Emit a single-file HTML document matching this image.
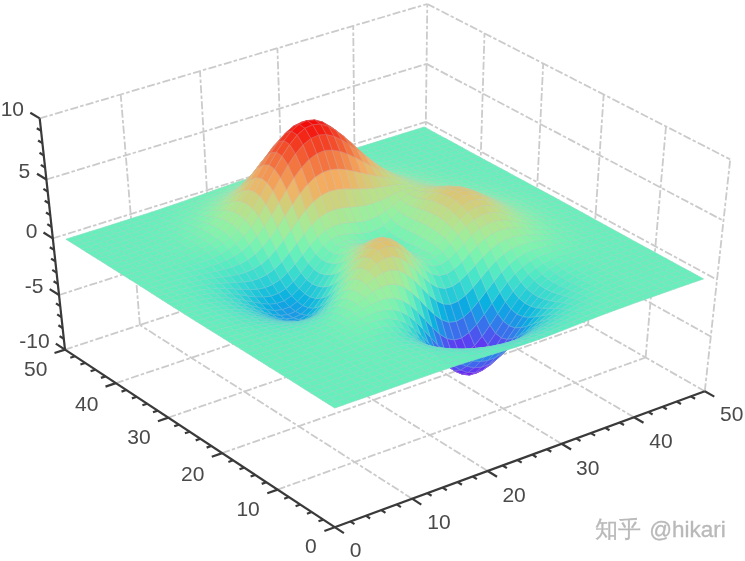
<!DOCTYPE html><html><head><meta charset="utf-8"><style>html,body{margin:0;padding:0;background:#fff;overflow:hidden}svg{display:block;will-change:transform}</style></head><body><svg width="745" height="561" viewBox="0 0 745 561" font-family="Liberation Sans, sans-serif">
<rect width="745" height="561" fill="#fff"/>
<g fill="none"><line x1="59" y1="295" x2="425.2" y2="177.6" stroke="#cbcbcb" stroke-width="1.8" stroke-dasharray="8 2.2 3.5 2.3"/><line x1="425.2" y1="177.6" x2="710.8" y2="336.5" stroke="#cbcbcb" stroke-width="1.8" stroke-dasharray="8 2.2 3.5 2.3"/><line x1="52.8" y1="238.4" x2="425.9" y2="121.8" stroke="#cbcbcb" stroke-width="1.8" stroke-dasharray="8 2.2 3.5 2.3"/><line x1="425.9" y1="121.8" x2="717" y2="279.7" stroke="#cbcbcb" stroke-width="1.8" stroke-dasharray="8 2.2 3.5 2.3"/><line x1="46.4" y1="179.5" x2="426.6" y2="63.9" stroke="#cbcbcb" stroke-width="1.8" stroke-dasharray="8 2.2 3.5 2.3"/><line x1="426.6" y1="63.9" x2="723.4" y2="220.7" stroke="#cbcbcb" stroke-width="1.8" stroke-dasharray="8 2.2 3.5 2.3"/><line x1="39.7" y1="118.4" x2="427.3" y2="4" stroke="#cbcbcb" stroke-width="1.8" stroke-dasharray="8 2.2 3.5 2.3"/><line x1="427.3" y1="4" x2="730.2" y2="159.4" stroke="#cbcbcb" stroke-width="1.8" stroke-dasharray="8 2.2 3.5 2.3"/><line x1="139.9" y1="325" x2="120.7" y2="94.5" stroke="#cbcbcb" stroke-width="1.8" stroke-dasharray="8 2.2 3.5 2.3"/><line x1="412.1" y1="498.7" x2="139.9" y2="325" stroke="#cbcbcb" stroke-width="1.8" stroke-dasharray="8 2.2 3.5 2.3"/><line x1="213.3" y1="300.9" x2="200" y2="71.1" stroke="#cbcbcb" stroke-width="1.8" stroke-dasharray="8 2.2 3.5 2.3"/><line x1="487.7" y1="471" x2="213.3" y2="300.9" stroke="#cbcbcb" stroke-width="1.8" stroke-dasharray="8 2.2 3.5 2.3"/><line x1="285.1" y1="277.2" x2="277.4" y2="48.2" stroke="#cbcbcb" stroke-width="1.8" stroke-dasharray="8 2.2 3.5 2.3"/><line x1="561.6" y1="443.8" x2="285.1" y2="277.2" stroke="#cbcbcb" stroke-width="1.8" stroke-dasharray="8 2.2 3.5 2.3"/><line x1="355.5" y1="254.1" x2="353.2" y2="25.9" stroke="#cbcbcb" stroke-width="1.8" stroke-dasharray="8 2.2 3.5 2.3"/><line x1="634" y1="417.2" x2="355.5" y2="254.1" stroke="#cbcbcb" stroke-width="1.8" stroke-dasharray="8 2.2 3.5 2.3"/><line x1="424.5" y1="231.4" x2="427.3" y2="4" stroke="#cbcbcb" stroke-width="1.8" stroke-dasharray="8 2.2 3.5 2.3"/><line x1="704.8" y1="391.2" x2="424.5" y2="231.4" stroke="#cbcbcb" stroke-width="1.8" stroke-dasharray="8 2.2 3.5 2.3"/><line x1="704.8" y1="391.2" x2="730.2" y2="159.4" stroke="#cbcbcb" stroke-width="1.8" stroke-dasharray="8 2.2 3.5 2.3"/><line x1="645.6" y1="357.5" x2="666" y2="126.4" stroke="#cbcbcb" stroke-width="1.8" stroke-dasharray="8 2.2 3.5 2.3"/><line x1="588.1" y1="324.7" x2="603.7" y2="94.5" stroke="#cbcbcb" stroke-width="1.8" stroke-dasharray="8 2.2 3.5 2.3"/><line x1="532.1" y1="292.8" x2="543.2" y2="63.4" stroke="#cbcbcb" stroke-width="1.8" stroke-dasharray="8 2.2 3.5 2.3"/><line x1="477.6" y1="261.7" x2="484.5" y2="33.3" stroke="#cbcbcb" stroke-width="1.8" stroke-dasharray="8 2.2 3.5 2.3"/><line x1="277.6" y1="489.6" x2="645.6" y2="357.5" stroke="#cbcbcb" stroke-width="1.8" stroke-dasharray="8 2.2 3.5 2.3"/><line x1="222.2" y1="453.1" x2="588.1" y2="324.7" stroke="#cbcbcb" stroke-width="1.8" stroke-dasharray="8 2.2 3.5 2.3"/><line x1="168.3" y1="417.6" x2="532.1" y2="292.8" stroke="#cbcbcb" stroke-width="1.8" stroke-dasharray="8 2.2 3.5 2.3"/><line x1="115.9" y1="383.1" x2="477.6" y2="261.7" stroke="#cbcbcb" stroke-width="1.8" stroke-dasharray="8 2.2 3.5 2.3"/><line x1="65" y1="349.6" x2="424.5" y2="231.4" stroke="#cbcbcb" stroke-width="1.8" stroke-dasharray="8 2.2 3.5 2.3"/></g>
<g stroke-width="0.7" stroke-linejoin="round"><polygon points="422.6,132.1 429.7,129.9 424.2,126.9 417.1,129.2" fill="#64efbb" stroke="#86dcc2"/><polygon points="415.4,134.4 422.6,132.1 417.1,129.2 410,131.4" fill="#64efbb" stroke="#86dcc2"/><polygon points="428,135.1 435.1,132.9 429.7,129.9 422.6,132.1" fill="#64efbb" stroke="#86dcc2"/><polygon points="408.3,136.6 415.4,134.4 410,131.4 402.9,133.6" fill="#64efbb" stroke="#86dcc2"/><polygon points="420.9,137.3 428,135.1 422.6,132.1 415.4,134.4" fill="#64efbb" stroke="#86dcc2"/><polygon points="433.5,138.1 440.6,135.9 435.1,132.9 428,135.1" fill="#64efbb" stroke="#86dcc2"/><polygon points="401.2,138.8 408.3,136.6 402.9,133.6 395.7,135.9" fill="#64efbb" stroke="#86dcc2"/><polygon points="413.8,139.6 420.9,137.3 415.4,134.4 408.3,136.6" fill="#64efbb" stroke="#86dcc2"/><polygon points="426.4,140.3 433.5,138.1 428,135.1 420.9,137.3" fill="#64efbb" stroke="#86dcc2"/><polygon points="439,141.1 446.1,138.8 440.6,135.9 433.5,138.1" fill="#64efbb" stroke="#86dcc2"/><polygon points="394,141.1 401.2,138.8 395.7,135.9 388.6,138.1" fill="#64efbb" stroke="#86dcc2"/><polygon points="406.6,141.8 413.8,139.6 408.3,136.6 401.2,138.8" fill="#64efbb" stroke="#86dcc2"/><polygon points="419.2,142.6 426.4,140.3 420.9,137.3 413.8,139.6" fill="#64efbb" stroke="#86dcc2"/><polygon points="431.9,143.3 439,141.1 433.5,138.1 426.4,140.3" fill="#64efbb" stroke="#86dcc2"/><polygon points="386.8,143.3 394,141.1 388.6,138.1 381.4,140.3" fill="#64efbb" stroke="#86dcc2"/><polygon points="444.5,144.1 451.6,141.8 446.1,138.8 439,141.1" fill="#64efbb" stroke="#86dcc2"/><polygon points="399.5,144.1 406.6,141.8 401.2,138.8 394,141.1" fill="#64efbb" stroke="#86dcc2"/><polygon points="412.1,144.8 419.2,142.6 413.8,139.6 406.6,141.8" fill="#64efbb" stroke="#86dcc2"/><polygon points="424.7,145.6 431.9,143.3 426.4,140.3 419.2,142.6" fill="#64efbb" stroke="#86dcc2"/><polygon points="379.6,145.5 386.8,143.3 381.4,140.3 374.2,142.6" fill="#65efbb" stroke="#87dcc2"/><polygon points="437.4,146.3 444.5,144.1 439,141.1 431.9,143.3" fill="#64efbb" stroke="#86dcc2"/><polygon points="392.3,146.3 399.5,144.1 394,141.1 386.8,143.3" fill="#64efbb" stroke="#86dcc2"/><polygon points="450,147.1 457.1,144.8 451.6,141.8 444.5,144.1" fill="#64efbb" stroke="#86dcc2"/><polygon points="404.9,147.1 412.1,144.8 406.6,141.8 399.5,144.1" fill="#64efbb" stroke="#86dcc2"/><polygon points="417.6,147.8 424.7,145.6 419.2,142.6 412.1,144.8" fill="#64efbb" stroke="#86dcc2"/><polygon points="372.4,147.8 379.6,145.5 374.2,142.6 367,144.8" fill="#65efbb" stroke="#87dcc2"/><polygon points="430.2,148.6 437.4,146.3 431.9,143.3 424.7,145.6" fill="#64efbb" stroke="#86dcc2"/><polygon points="385.1,148.5 392.3,146.3 386.8,143.3 379.6,145.5" fill="#65efbb" stroke="#87dcc2"/><polygon points="442.9,149.3 450,147.1 444.5,144.1 437.4,146.3" fill="#64efbb" stroke="#86dcc2"/><polygon points="397.7,149.3 404.9,147.1 399.5,144.1 392.3,146.3" fill="#65efbb" stroke="#87dcc2"/><polygon points="455.5,150.1 462.7,147.8 457.1,144.8 450,147.1" fill="#64efbb" stroke="#86dcc2"/><polygon points="410.4,150 417.6,147.8 412.1,144.8 404.9,147.1" fill="#65efbb" stroke="#87dcc2"/><polygon points="365.2,150 372.4,147.8 367,144.8 359.8,147" fill="#65f0bb" stroke="#87ddc2"/><polygon points="423,150.8 430.2,148.6 424.7,145.6 417.6,147.8" fill="#65efbb" stroke="#87dcc2"/><polygon points="377.9,150.7 385.1,148.5 379.6,145.5 372.4,147.8" fill="#65f0bb" stroke="#87ddc2"/><polygon points="435.7,151.6 442.9,149.3 437.4,146.3 430.2,148.6" fill="#64efbb" stroke="#86dcc2"/><polygon points="390.5,151.5 397.7,149.3 392.3,146.3 385.1,148.5" fill="#65f0bb" stroke="#87ddc2"/><polygon points="448.4,152.4 455.5,150.1 450,147.1 442.9,149.3" fill="#64efbb" stroke="#86dcc2"/><polygon points="403.2,152.2 410.4,150 404.9,147.1 397.7,149.3" fill="#65f0bb" stroke="#87ddc2"/><polygon points="461.1,153.1 468.2,150.9 462.7,147.8 455.5,150.1" fill="#64efbb" stroke="#86dcc2"/><polygon points="358,152.1 365.2,150 359.8,147 352.6,149.2" fill="#65f0bb" stroke="#87ddc2"/><polygon points="415.9,153 423,150.8 417.6,147.8 410.4,150" fill="#65efbb" stroke="#87dcc2"/><polygon points="370.6,152.9 377.9,150.7 372.4,147.8 365.2,150" fill="#65f0bb" stroke="#87ddc2"/><polygon points="428.6,153.8 435.7,151.6 430.2,148.6 423,150.8" fill="#65efbb" stroke="#87dcc2"/><polygon points="383.3,153.6 390.5,151.5 385.1,148.5 377.9,150.7" fill="#65f0bb" stroke="#87ddc2"/><polygon points="441.2,154.6 448.4,152.4 442.9,149.3 435.7,151.6" fill="#65efbb" stroke="#87dcc2"/><polygon points="396,154.4 403.2,152.2 397.7,149.3 390.5,151.5" fill="#65f0bb" stroke="#87ddc2"/><polygon points="453.9,155.4 461.1,153.1 455.5,150.1 448.4,152.4" fill="#64efbb" stroke="#86dcc2"/><polygon points="350.7,154.3 358,152.1 352.6,149.2 345.3,151.4" fill="#65f0bb" stroke="#87ddc2"/><polygon points="408.7,155.2 415.9,153 410.4,150 403.2,152.2" fill="#65f0bb" stroke="#87ddc2"/><polygon points="466.7,156.1 473.8,153.9 468.2,150.9 461.1,153.1" fill="#64efbb" stroke="#86dcc2"/><polygon points="363.4,155 370.6,152.9 365.2,150 358,152.1" fill="#65f0ba" stroke="#87ddc1"/><polygon points="421.4,156 428.6,153.8 423,150.8 415.9,153" fill="#65f0bb" stroke="#87ddc2"/><polygon points="376.1,155.7 383.3,153.6 377.9,150.7 370.6,152.9" fill="#65f0ba" stroke="#87ddc1"/><polygon points="434.1,156.8 441.2,154.6 435.7,151.6 428.6,153.8" fill="#65efbb" stroke="#87dcc2"/><polygon points="388.8,156.5 396,154.4 390.5,151.5 383.3,153.6" fill="#65f0ba" stroke="#87ddc1"/><polygon points="446.8,157.6 453.9,155.4 448.4,152.4 441.2,154.6" fill="#65efbb" stroke="#87dcc2"/><polygon points="343.4,156.3 350.7,154.3 345.3,151.4 338.1,153.6" fill="#66f0ba" stroke="#87ddc1"/><polygon points="401.5,157.3 408.7,155.2 403.2,152.2 396,154.4" fill="#65f0bb" stroke="#87ddc2"/><polygon points="459.5,158.4 466.7,156.1 461.1,153.1 453.9,155.4" fill="#65efbb" stroke="#87dcc2"/><polygon points="356.1,157 363.4,155 358,152.1 350.7,154.3" fill="#66f0ba" stroke="#87ddc1"/><polygon points="414.2,158.2 421.4,156 415.9,153 408.7,155.2" fill="#65f0bb" stroke="#87ddc2"/><polygon points="472.2,159.2 479.4,156.9 473.8,153.9 466.7,156.1" fill="#64efbb" stroke="#86dcc2"/><polygon points="368.8,157.8 376.1,155.7 370.6,152.9 363.4,155" fill="#66f0ba" stroke="#87ddc1"/><polygon points="426.9,159 434.1,156.8 428.6,153.8 421.4,156" fill="#65f0bb" stroke="#87ddc2"/><polygon points="381.5,158.6 388.8,156.5 383.3,153.6 376.1,155.7" fill="#66f0ba" stroke="#87ddc1"/><polygon points="439.6,159.8 446.8,157.6 441.2,154.6 434.1,156.8" fill="#65f0bb" stroke="#87ddc2"/><polygon points="336.2,158.4 343.4,156.3 338.1,153.6 330.8,155.7" fill="#67f0ba" stroke="#88ddc1"/><polygon points="394.2,159.4 401.5,157.3 396,154.4 388.8,156.5" fill="#66f0ba" stroke="#87ddc1"/><polygon points="452.3,160.6 459.5,158.4 453.9,155.4 446.8,157.6" fill="#65efbb" stroke="#87dcc2"/><polygon points="348.9,159 356.1,157 350.7,154.3 343.4,156.3" fill="#67f0ba" stroke="#88ddc1"/><polygon points="407,160.2 414.2,158.2 408.7,155.2 401.5,157.3" fill="#66f0ba" stroke="#87ddc1"/><polygon points="465.1,161.4 472.2,159.2 466.7,156.1 459.5,158.4" fill="#65efbb" stroke="#87dcc2"/><polygon points="361.6,159.7 368.8,157.8 363.4,155 356.1,157" fill="#67f0ba" stroke="#88ddc1"/><polygon points="419.7,161.1 426.9,159 421.4,156 414.2,158.2" fill="#65f0ba" stroke="#87ddc1"/><polygon points="477.8,162.2 485,160 479.4,156.9 472.2,159.2" fill="#65efbb" stroke="#87dcc2"/><polygon points="374.3,160.5 381.5,158.6 376.1,155.7 368.8,157.8" fill="#67f0ba" stroke="#88ddc1"/><polygon points="432.4,162 439.6,159.8 434.1,156.8 426.9,159" fill="#65f0bb" stroke="#87ddc2"/><polygon points="328.9,160.3 336.2,158.4 330.8,155.7 323.5,157.8" fill="#67f0b9" stroke="#88ddc1"/><polygon points="387,161.3 394.2,159.4 388.8,156.5 381.5,158.6" fill="#67f0ba" stroke="#88ddc1"/><polygon points="445.2,162.8 452.3,160.6 446.8,157.6 439.6,159.8" fill="#65f0bb" stroke="#87ddc2"/><polygon points="341.6,160.9 348.9,159 343.4,156.3 336.2,158.4" fill="#68f0b9" stroke="#89ddc1"/><polygon points="399.7,162.2 407,160.2 401.5,157.3 394.2,159.4" fill="#67f0ba" stroke="#88ddc1"/><polygon points="457.9,163.6 465.1,161.4 459.5,158.4 452.3,160.6" fill="#65f0bb" stroke="#87ddc2"/><polygon points="412.5,163.1 419.7,161.1 414.2,158.2 407,160.2" fill="#66f0ba" stroke="#87ddc1"/><polygon points="354.3,161.5 361.6,159.7 356.1,157 348.9,159" fill="#68f0b9" stroke="#89ddc1"/><polygon points="470.7,164.4 477.8,162.2 472.2,159.2 465.1,161.4" fill="#65efbb" stroke="#87dcc2"/><polygon points="425.2,164 432.4,162 426.9,159 419.7,161.1" fill="#66f0ba" stroke="#87ddc1"/><polygon points="367,162.2 374.3,160.5 368.8,157.8 361.6,159.7" fill="#68f0b9" stroke="#89ddc1"/><polygon points="483.4,165.2 490.6,163 485,160 477.8,162.2" fill="#65efbb" stroke="#87dcc2"/><polygon points="321.5,162.2 328.9,160.3 323.5,157.8 316.2,159.8" fill="#68f0b9" stroke="#89ddc1"/><polygon points="438,164.9 445.2,162.8 439.6,159.8 432.4,162" fill="#65f0ba" stroke="#87ddc1"/><polygon points="379.8,163.1 387,161.3 381.5,158.6 374.3,160.5" fill="#68f0b9" stroke="#89ddc1"/><polygon points="450.7,165.8 457.9,163.6 452.3,160.6 445.2,162.8" fill="#65f0bb" stroke="#87ddc2"/><polygon points="334.2,162.6 341.6,160.9 336.2,158.4 328.9,160.3" fill="#69f1b8" stroke="#89dec0"/><polygon points="392.5,164 399.7,162.2 394.2,159.4 387,161.3" fill="#68f0b9" stroke="#89ddc1"/><polygon points="463.5,166.6 470.7,164.4 465.1,161.4 457.9,163.6" fill="#65f0bb" stroke="#87ddc2"/><polygon points="405.2,165 412.5,163.1 407,160.2 399.7,162.2" fill="#67f0b9" stroke="#88ddc1"/><polygon points="347,163.1 354.3,161.5 348.9,159 341.6,160.9" fill="#6af1b8" stroke="#8adec0"/><polygon points="418,165.9 425.2,164 419.7,161.1 412.5,163.1" fill="#67f0ba" stroke="#88ddc1"/><polygon points="476.3,167.5 483.4,165.2 477.8,162.2 470.7,164.4" fill="#65f0bb" stroke="#87ddc2"/><polygon points="359.7,163.8 367,162.2 361.6,159.7 354.3,161.5" fill="#6af1b8" stroke="#8adec0"/><polygon points="314.2,164 321.5,162.2 316.2,159.8 308.8,161.8" fill="#6af1b8" stroke="#8adec0"/><polygon points="430.8,166.9 438,164.9 432.4,162 425.2,164" fill="#66f0ba" stroke="#87ddc1"/><polygon points="489.1,168.3 496.2,166 490.6,163 483.4,165.2" fill="#65efbb" stroke="#87dcc2"/><polygon points="372.5,164.6 379.8,163.1 374.3,160.5 367,162.2" fill="#6af1b8" stroke="#8adec0"/><polygon points="443.5,167.9 450.7,165.8 445.2,162.8 438,164.9" fill="#66f0ba" stroke="#87ddc1"/><polygon points="326.9,164.2 334.2,162.6 328.9,160.3 321.5,162.2" fill="#6bf1b8" stroke="#8bdec0"/><polygon points="385.2,165.5 392.5,164 387,161.3 379.8,163.1" fill="#6af1b8" stroke="#8adec0"/><polygon points="456.3,168.8 463.5,166.6 457.9,163.6 450.7,165.8" fill="#65f0ba" stroke="#87ddc1"/><polygon points="398,166.6 405.2,165 399.7,162.2 392.5,164" fill="#69f1b9" stroke="#89dec1"/><polygon points="339.7,164.6 347,163.1 341.6,160.9 334.2,162.6" fill="#6cf1b7" stroke="#8bdebf"/><polygon points="469.1,169.6 476.3,167.5 470.7,164.4 463.5,166.6" fill="#65f0bb" stroke="#87ddc2"/><polygon points="410.8,167.7 418,165.9 412.5,163.1 405.2,165" fill="#68f0b9" stroke="#89ddc1"/><polygon points="481.9,170.5 489.1,168.3 483.4,165.2 476.3,167.5" fill="#65f0bb" stroke="#87ddc2"/><polygon points="306.8,165.8 314.2,164 308.8,161.8 301.5,163.8" fill="#6bf1b7" stroke="#8bdebf"/><polygon points="352.4,165.1 359.7,163.8 354.3,161.5 347,163.1" fill="#6df1b7" stroke="#8cdebf"/><polygon points="423.6,168.8 430.8,166.9 425.2,164 418,165.9" fill="#68f0b9" stroke="#89ddc1"/><polygon points="494.7,171.3 501.9,169.1 496.2,166 489.1,168.3" fill="#65f0bb" stroke="#87ddc2"/><polygon points="436.3,169.8 443.5,167.9 438,164.9 430.8,166.9" fill="#67f0ba" stroke="#88ddc1"/><polygon points="365.2,165.8 372.5,164.6 367,162.2 359.7,163.8" fill="#6df1b7" stroke="#8cdebf"/><polygon points="319.6,165.8 326.9,164.2 321.5,162.2 314.2,164" fill="#6df1b7" stroke="#8cdebf"/><polygon points="449.1,170.8 456.3,168.8 450.7,165.8 443.5,167.9" fill="#66f0ba" stroke="#87ddc1"/><polygon points="378,166.8 385.2,165.5 379.8,163.1 372.5,164.6" fill="#6cf1b7" stroke="#8bdebf"/><polygon points="461.9,171.7 469.1,169.6 463.5,166.6 456.3,168.8" fill="#66f0ba" stroke="#87ddc1"/><polygon points="390.7,167.9 398,166.6 392.5,164 385.2,165.5" fill="#6cf1b7" stroke="#8bdebf"/><polygon points="332.3,165.8 339.7,164.6 334.2,162.6 326.9,164.2" fill="#6ff2b6" stroke="#8ddebf"/><polygon points="403.5,169.1 410.8,167.7 405.2,165 398,166.6" fill="#6bf1b8" stroke="#8bdec0"/><polygon points="474.7,172.6 481.9,170.5 476.3,167.5 469.1,169.6" fill="#65f0bb" stroke="#87ddc2"/><polygon points="299.4,167.5 306.8,165.8 301.5,163.8 294.1,165.7" fill="#6df1b7" stroke="#8cdebf"/><polygon points="416.3,170.4 423.6,168.8 418,165.9 410.8,167.7" fill="#69f1b8" stroke="#89dec0"/><polygon points="487.5,173.5 494.7,171.3 489.1,168.3 481.9,170.5" fill="#65f0bb" stroke="#87ddc2"/><polygon points="345.1,166.1 352.4,165.1 347,163.1 339.7,164.6" fill="#70f2b5" stroke="#8edebe"/><polygon points="429.1,171.5 436.3,169.8 430.8,166.9 423.6,168.8" fill="#68f0b9" stroke="#89ddc1"/><polygon points="500.4,174.4 507.5,172.1 501.9,169.1 494.7,171.3" fill="#65f0bb" stroke="#87ddc2"/><polygon points="441.9,172.7 449.1,170.8 443.5,167.9 436.3,169.8" fill="#67f0b9" stroke="#88ddc1"/><polygon points="357.9,166.7 365.2,165.8 359.7,163.8 352.4,165.1" fill="#70f2b5" stroke="#8edebe"/><polygon points="312.2,167.2 319.6,165.8 314.2,164 306.8,165.8" fill="#6ff2b5" stroke="#8ddebe"/><polygon points="454.7,173.7 461.9,171.7 456.3,168.8 449.1,170.8" fill="#67f0ba" stroke="#88ddc1"/><polygon points="370.6,167.6 378,166.8 372.5,164.6 365.2,165.8" fill="#70f2b5" stroke="#8edebe"/><polygon points="467.5,174.7 474.7,172.6 469.1,169.6 461.9,171.7" fill="#66f0ba" stroke="#87ddc1"/><polygon points="383.5,168.8 390.7,167.9 385.2,165.5 378,166.8" fill="#6ff2b5" stroke="#8ddebe"/><polygon points="324.9,166.9 332.3,165.8 326.9,164.2 319.6,165.8" fill="#72f2b4" stroke="#8fdebe"/><polygon points="396.3,170.2 403.5,169.1 398,166.6 390.7,167.9" fill="#6ef1b6" stroke="#8cdebf"/><polygon points="292,169.2 299.4,167.5 294.1,165.7 286.7,167.7" fill="#6ef1b6" stroke="#8cdebf"/><polygon points="480.4,175.6 487.5,173.5 481.9,170.5 474.7,172.6" fill="#66f0ba" stroke="#87ddc1"/><polygon points="409.1,171.6 416.3,170.4 410.8,167.7 403.5,169.1" fill="#6cf1b7" stroke="#8bdebf"/><polygon points="421.9,173 429.1,171.5 423.6,168.8 416.3,170.4" fill="#6bf1b8" stroke="#8bdec0"/><polygon points="493.2,176.5 500.4,174.4 494.7,171.3 487.5,173.5" fill="#65f0bb" stroke="#87ddc2"/><polygon points="337.7,166.9 345.1,166.1 339.7,164.6 332.3,165.8" fill="#74f2b3" stroke="#90debd"/><polygon points="434.7,174.3 441.9,172.7 436.3,169.8 429.1,171.5" fill="#69f1b8" stroke="#89dec0"/><polygon points="506,177.4 513.2,175.2 507.5,172.1 500.4,174.4" fill="#65f0bb" stroke="#87ddc2"/><polygon points="304.8,168.5 312.2,167.2 306.8,165.8 299.4,167.5" fill="#72f2b4" stroke="#8fdebe"/><polygon points="447.5,175.5 454.7,173.7 449.1,170.8 441.9,172.7" fill="#68f0b9" stroke="#89ddc1"/><polygon points="350.5,167.2 357.9,166.7 352.4,165.1 345.1,166.1" fill="#75f2b2" stroke="#91debc"/><polygon points="460.3,176.6 467.5,174.7 461.9,171.7 454.7,173.7" fill="#67f0ba" stroke="#88ddc1"/><polygon points="363.3,168 370.6,167.6 365.2,165.8 357.9,166.7" fill="#75f2b2" stroke="#91debc"/><polygon points="473.2,177.6 480.4,175.6 474.7,172.6 467.5,174.7" fill="#67f0ba" stroke="#88ddc1"/><polygon points="284.6,170.9 292,169.2 286.7,167.7 279.3,169.6" fill="#70f2b5" stroke="#8edebe"/><polygon points="317.5,167.8 324.9,166.9 319.6,165.8 312.2,167.2" fill="#75f2b2" stroke="#91debc"/><polygon points="376.1,169.2 383.5,168.8 378,166.8 370.6,167.6" fill="#74f2b3" stroke="#90debd"/><polygon points="486,178.6 493.2,176.5 487.5,173.5 480.4,175.6" fill="#66f0ba" stroke="#87ddc1"/><polygon points="389,170.8 396.3,170.2 390.7,167.9 383.5,168.8" fill="#72f2b4" stroke="#8fdebe"/><polygon points="401.8,172.4 409.1,171.6 403.5,169.1 396.3,170.2" fill="#70f2b5" stroke="#8edebe"/><polygon points="414.6,174.1 421.9,173 416.3,170.4 409.1,171.6" fill="#6ef1b6" stroke="#8cdebf"/><polygon points="498.9,179.5 506,177.4 500.4,174.4 493.2,176.5" fill="#65f0ba" stroke="#87ddc1"/><polygon points="427.5,175.6 434.7,174.3 429.1,171.5 421.9,173" fill="#6cf1b7" stroke="#8bdebf"/><polygon points="330.3,167.4 337.7,166.9 332.3,165.8 324.9,166.9" fill="#78f2b1" stroke="#93debc"/><polygon points="440.3,177 447.5,175.5 441.9,172.7 434.7,174.3" fill="#6af1b8" stroke="#8adec0"/><polygon points="297.3,169.8 304.8,168.5 299.4,167.5 292,169.2" fill="#74f2b3" stroke="#90debd"/><polygon points="511.7,180.4 518.9,178.3 513.2,175.2 506,177.4" fill="#65f0bb" stroke="#87ddc2"/><polygon points="453.1,178.3 460.3,176.6 454.7,173.7 447.5,175.5" fill="#69f1b9" stroke="#89dec1"/><polygon points="466,179.4 473.2,177.6 467.5,174.7 460.3,176.6" fill="#68f0b9" stroke="#89ddc1"/><polygon points="343.1,167.3 350.5,167.2 345.1,166.1 337.7,166.9" fill="#7af3b0" stroke="#94dfbb"/><polygon points="277.2,172.7 284.6,170.9 279.3,169.6 271.9,171.6" fill="#71f2b4" stroke="#8edebe"/><polygon points="478.8,180.5 486,178.6 480.4,175.6 473.2,177.6" fill="#67f0ba" stroke="#88ddc1"/><polygon points="310.1,168.6 317.5,167.8 312.2,167.2 304.8,168.5" fill="#79f3b0" stroke="#93dfbb"/><polygon points="356,167.9 363.3,168 357.9,166.7 350.5,167.2" fill="#7bf3af" stroke="#94dfba"/><polygon points="491.7,181.5 498.9,179.5 493.2,176.5 486,178.6" fill="#66f0ba" stroke="#87ddc1"/><polygon points="368.8,169 376.1,169.2 370.6,167.6 363.3,168" fill="#7af3b0" stroke="#94dfbb"/><polygon points="504.6,182.5 511.7,180.4 506,177.4 498.9,179.5" fill="#66f0ba" stroke="#87ddc1"/><polygon points="381.7,170.7 389,170.8 383.5,168.8 376.1,169.2" fill="#78f2b1" stroke="#93debc"/><polygon points="394.5,172.6 401.8,172.4 396.3,170.2 389,170.8" fill="#75f2b2" stroke="#91debc"/><polygon points="407.4,174.6 414.6,174.1 409.1,171.6 401.8,172.4" fill="#72f2b4" stroke="#8fdebe"/><polygon points="420.2,176.5 427.5,175.6 421.9,173 414.6,174.1" fill="#70f2b5" stroke="#8edebe"/><polygon points="289.9,171.2 297.3,169.8 292,169.2 284.6,170.9" fill="#77f2b1" stroke="#92debc"/><polygon points="433,178.2 440.3,177 434.7,174.3 427.5,175.6" fill="#6df1b6" stroke="#8cdebf"/><polygon points="517.4,183.5 524.6,181.3 518.9,178.3 511.7,180.4" fill="#65f0bb" stroke="#87ddc2"/><polygon points="445.9,179.7 453.1,178.3 447.5,175.5 440.3,177" fill="#6bf1b7" stroke="#8bdebf"/><polygon points="322.9,167.6 330.3,167.4 324.9,166.9 317.5,167.8" fill="#7df3ae" stroke="#96dfba"/><polygon points="269.7,174.6 277.2,172.7 271.9,171.6 264.4,173.7" fill="#73f2b4" stroke="#90debe"/><polygon points="458.8,181 466,179.4 460.3,176.6 453.1,178.3" fill="#6af1b8" stroke="#8adec0"/><polygon points="471.6,182.2 478.8,180.5 473.2,177.6 466,179.4" fill="#69f0b9" stroke="#89ddc1"/><polygon points="484.5,183.4 491.7,181.5 486,178.6 478.8,180.5" fill="#68f0b9" stroke="#89ddc1"/><polygon points="335.7,167 343.1,167.3 337.7,166.9 330.3,167.4" fill="#80f3ac" stroke="#98dfb9"/><polygon points="302.7,169.4 310.1,168.6 304.8,168.5 297.3,169.8" fill="#7df3ae" stroke="#96dfba"/><polygon points="497.4,184.5 504.6,182.5 498.9,179.5 491.7,181.5" fill="#67f0ba" stroke="#88ddc1"/><polygon points="510.3,185.5 517.4,183.5 511.7,180.4 504.6,182.5" fill="#66f0ba" stroke="#87ddc1"/><polygon points="282.4,172.7 289.9,171.2 284.6,170.9 277.2,172.7" fill="#79f3b0" stroke="#93dfbb"/><polygon points="348.6,167.2 356,167.9 350.5,167.2 343.1,167.3" fill="#82f3ab" stroke="#99dfb8"/><polygon points="262.2,176.7 269.7,174.6 264.4,173.7 257,175.9" fill="#73f2b3" stroke="#90debd"/><polygon points="523.2,186.5 530.3,184.4 524.6,181.3 517.4,183.5" fill="#65f0ba" stroke="#87ddc1"/><polygon points="425.8,178.9 433,178.2 427.5,175.6 420.2,176.5" fill="#72f2b4" stroke="#8fdebe"/><polygon points="412.9,176.9 420.2,176.5 414.6,174.1 407.4,174.6" fill="#75f2b2" stroke="#91debc"/><polygon points="438.7,180.7 445.9,179.7 440.3,177 433,178.2" fill="#6ff2b6" stroke="#8ddebf"/><polygon points="400.1,174.5 407.4,174.6 401.8,172.4 394.5,172.6" fill="#78f3b0" stroke="#93dfbb"/><polygon points="361.4,168.2 368.8,169 363.3,168 356,167.9" fill="#82f3ab" stroke="#99dfb8"/><polygon points="387.2,172.1 394.5,172.6 389,170.8 381.7,170.7" fill="#7cf3ae" stroke="#95dfba"/><polygon points="451.5,182.2 458.8,181 453.1,178.3 445.9,179.7" fill="#6df1b7" stroke="#8cdebf"/><polygon points="374.3,169.9 381.7,170.7 376.1,169.2 368.8,169" fill="#80f3ac" stroke="#98dfb9"/><polygon points="464.4,183.6 471.6,182.2 466,179.4 458.8,181" fill="#6bf1b7" stroke="#8bdebf"/><polygon points="315.4,167.7 322.9,167.6 317.5,167.8 310.1,168.6" fill="#83f2ab" stroke="#99deb8"/><polygon points="477.3,184.9 484.5,183.4 478.8,180.5 471.6,182.2" fill="#6af1b8" stroke="#8adec0"/><polygon points="490.2,186.2 497.4,184.5 491.7,181.5 484.5,183.4" fill="#69f0b9" stroke="#89ddc1"/><polygon points="295.2,170.2 302.7,169.4 297.3,169.8 289.9,171.2" fill="#81f3ac" stroke="#98dfb9"/><polygon points="503.1,187.4 510.3,185.5 504.6,182.5 497.4,184.5" fill="#67f0b9" stroke="#88ddc1"/><polygon points="275,174.3 282.4,172.7 277.2,172.7 269.7,174.6" fill="#7bf3af" stroke="#94dfba"/><polygon points="254.8,178.9 262.2,176.7 257,175.9 249.5,178.2" fill="#74f2b3" stroke="#90debd"/><polygon points="516,188.5 523.2,186.5 517.4,183.5 510.3,185.5" fill="#67f0ba" stroke="#88ddc1"/><polygon points="328.3,166.4 335.7,167 330.3,167.4 322.9,167.6" fill="#88f2a8" stroke="#9ddeb6"/><polygon points="528.9,189.6 536.1,187.5 530.3,184.4 523.2,186.5" fill="#66f0ba" stroke="#87ddc1"/><polygon points="431.4,181.3 438.7,180.7 433,178.2 425.8,178.9" fill="#74f2b3" stroke="#90debd"/><polygon points="444.3,183.1 451.5,182.2 445.9,179.7 438.7,180.7" fill="#71f2b5" stroke="#8edebe"/><polygon points="418.5,179.1 425.8,178.9 420.2,176.5 412.9,176.9" fill="#77f2b1" stroke="#92debc"/><polygon points="457.2,184.7 464.4,183.6 458.8,181 451.5,182.2" fill="#6ff2b6" stroke="#8ddebf"/><polygon points="405.6,176.5 412.9,176.9 407.4,174.6 400.1,174.5" fill="#7cf3af" stroke="#95dfba"/><polygon points="341.1,165.9 348.6,167.2 343.1,167.3 335.7,167" fill="#8af2a6" stroke="#9edeb5"/><polygon points="470.1,186.2 477.3,184.9 471.6,182.2 464.4,183.6" fill="#6df1b7" stroke="#8cdebf"/><polygon points="392.7,173.6 400.1,174.5 394.5,172.6 387.2,172.1" fill="#81f3ac" stroke="#98dfb9"/><polygon points="483,187.6 490.2,186.2 484.5,183.4 477.3,184.9" fill="#6bf1b8" stroke="#8bdec0"/><polygon points="308,167.7 315.4,167.7 310.1,168.6 302.7,169.4" fill="#88f2a7" stroke="#9ddeb5"/><polygon points="247.3,181.4 254.8,178.9 249.5,178.2 242,180.6" fill="#74f2b3" stroke="#90debd"/><polygon points="495.9,189 503.1,187.4 497.4,184.5 490.2,186.2" fill="#69f1b8" stroke="#89dec0"/><polygon points="354,166.5 361.4,168.2 356,167.9 348.6,167.2" fill="#8bf2a6" stroke="#9edeb5"/><polygon points="379.8,170.7 387.2,172.1 381.7,170.7 374.3,169.9" fill="#85f2a9" stroke="#9bdeb7"/><polygon points="267.5,176.3 275,174.3 269.7,174.6 262.2,176.7" fill="#7cf3ae" stroke="#95dfba"/><polygon points="366.9,168.2 374.3,169.9 368.8,169 361.4,168.2" fill="#89f2a7" stroke="#9ddeb5"/><polygon points="287.7,171.3 295.2,170.2 289.9,171.2 282.4,172.7" fill="#84f2aa" stroke="#9adeb7"/><polygon points="508.8,190.3 516,188.5 510.3,185.5 503.1,187.4" fill="#68f0b9" stroke="#89ddc1"/><polygon points="521.7,191.5 528.9,189.6 523.2,186.5 516,188.5" fill="#67f0ba" stroke="#88ddc1"/><polygon points="534.7,192.7 541.8,190.6 536.1,187.5 528.9,189.6" fill="#66f0ba" stroke="#87ddc1"/><polygon points="320.8,165.5 328.3,166.4 322.9,167.6 315.4,167.7" fill="#8ff1a3" stroke="#a1deb3"/><polygon points="239.8,184 247.3,181.4 242,180.6 234.6,183.1" fill="#73f2b3" stroke="#90debd"/><polygon points="437,183.5 444.3,183.1 438.7,180.7 431.4,181.3" fill="#76f2b2" stroke="#91debc"/><polygon points="450,185.4 457.2,184.7 451.5,182.2 444.3,183.1" fill="#73f2b3" stroke="#90debd"/><polygon points="424.1,181.3 431.4,181.3 425.8,178.9 418.5,179.1" fill="#7af3b0" stroke="#94dfbb"/><polygon points="462.9,187 470.1,186.2 464.4,183.6 457.2,184.7" fill="#71f2b5" stroke="#8edebe"/><polygon points="475.8,188.6 483,187.6 477.3,184.9 470.1,186.2" fill="#6ef2b6" stroke="#8cdebf"/><polygon points="260,178.5 267.5,176.3 262.2,176.7 254.8,178.9" fill="#7df3ae" stroke="#96dfba"/><polygon points="411.2,178.6 418.5,179.1 412.9,176.9 405.6,176.5" fill="#7ff3ad" stroke="#97dfb9"/><polygon points="488.7,190.2 495.9,189 490.2,186.2 483,187.6" fill="#6cf1b7" stroke="#8bdebf"/><polygon points="501.6,191.8 508.8,190.3 503.1,187.4 495.9,189" fill="#6af1b8" stroke="#8adec0"/><polygon points="300.5,167.8 308,167.7 302.7,169.4 295.2,170.2" fill="#8ef1a4" stroke="#a0deb4"/><polygon points="280.2,172.6 287.7,171.3 282.4,172.7 275,174.3" fill="#87f2a8" stroke="#9cdeb6"/><polygon points="514.5,193.2 521.7,191.5 516,188.5 508.8,190.3" fill="#69f0b9" stroke="#89ddc1"/><polygon points="398.3,175.4 405.6,176.5 400.1,174.5 392.7,173.6" fill="#85f2aa" stroke="#9bdeb7"/><polygon points="333.7,164.2 341.1,165.9 335.7,167 328.3,166.4" fill="#94f0a1" stroke="#a4ddb2"/><polygon points="527.5,194.6 534.7,192.7 528.9,189.6 521.7,191.5" fill="#67f0ba" stroke="#88ddc1"/><polygon points="232.3,186.7 239.8,184 234.6,183.1 227.1,185.7" fill="#73f2b4" stroke="#90debe"/><polygon points="540.4,195.8 547.6,193.7 541.8,190.6 534.7,192.7" fill="#66f0ba" stroke="#87ddc1"/><polygon points="385.4,171.8 392.7,173.6 387.2,172.1 379.8,170.7" fill="#8bf2a6" stroke="#9edeb5"/><polygon points="346.6,164.2 354,166.5 348.6,167.2 341.1,165.9" fill="#96ef9f" stroke="#a5dcb0"/><polygon points="252.5,180.9 260,178.5 254.8,178.9 247.3,181.4" fill="#7df3ae" stroke="#96dfba"/><polygon points="372.5,168.4 379.8,170.7 374.3,169.9 366.9,168.2" fill="#91f1a2" stroke="#a2deb2"/><polygon points="359.5,165.7 366.9,168.2 361.4,168.2 354,166.5" fill="#95f0a0" stroke="#a5ddb1"/><polygon points="442.7,185.6 450,185.4 444.3,183.1 437,183.5" fill="#79f3b0" stroke="#93dfbb"/><polygon points="455.6,187.4 462.9,187 457.2,184.7 450,185.4" fill="#76f2b2" stroke="#91debc"/><polygon points="468.6,189.2 475.8,188.6 470.1,186.2 462.9,187" fill="#73f2b3" stroke="#90debd"/><polygon points="429.8,183.4 437,183.5 431.4,181.3 424.1,181.3" fill="#7df3ae" stroke="#96dfba"/><polygon points="481.5,191 488.7,190.2 483,187.6 475.8,188.6" fill="#70f2b5" stroke="#8edebe"/><polygon points="272.7,174.3 280.2,172.6 275,174.3 267.5,176.3" fill="#89f2a7" stroke="#9ddeb5"/><polygon points="313.3,164.5 320.8,165.5 315.4,167.7 308,167.7" fill="#97ef9f" stroke="#a6dcb0"/><polygon points="494.4,192.8 501.6,191.8 495.9,189 488.7,190.2" fill="#6ef1b6" stroke="#8cdebf"/><polygon points="507.4,194.6 514.5,193.2 508.8,190.3 501.6,191.8" fill="#6bf1b7" stroke="#8bdebf"/><polygon points="224.8,189.6 232.3,186.7 227.1,185.7 219.6,188.3" fill="#71f2b4" stroke="#8edebe"/><polygon points="416.8,180.7 424.1,181.3 418.5,179.1 411.2,178.6" fill="#82f3ab" stroke="#99dfb8"/><polygon points="520.3,196.2 527.5,194.6 521.7,191.5 514.5,193.2" fill="#69f1b8" stroke="#89dec0"/><polygon points="292.9,168.2 300.5,167.8 295.2,170.2 287.7,171.3" fill="#93f0a1" stroke="#a3ddb2"/><polygon points="533.2,197.6 540.4,195.8 534.7,192.7 527.5,194.6" fill="#67f0b9" stroke="#88ddc1"/><polygon points="245,183.7 252.5,180.9 247.3,181.4 239.8,184" fill="#7cf3ae" stroke="#95dfba"/><polygon points="403.9,177.3 411.2,178.6 405.6,176.5 398.3,175.4" fill="#88f2a8" stroke="#9ddeb6"/><polygon points="546.2,198.9 553.4,196.8 547.6,193.7 540.4,195.8" fill="#66f0ba" stroke="#87ddc1"/><polygon points="217.3,192.6 224.8,189.6 219.6,188.3 212,191" fill="#70f2b5" stroke="#8edebe"/><polygon points="391,173.2 398.3,175.4 392.7,173.6 385.4,171.8" fill="#90f1a3" stroke="#a1deb3"/><polygon points="326.1,162.1 333.7,164.2 328.3,166.4 320.8,165.5" fill="#9fed9a" stroke="#abdbad"/><polygon points="265.2,176.4 272.7,174.3 267.5,176.3 260,178.5" fill="#8af2a6" stroke="#9edeb5"/><polygon points="237.5,186.8 245,183.7 239.8,184 232.3,186.7" fill="#7bf3af" stroke="#94dfba"/><polygon points="500.2,195.4 507.4,194.6 501.6,191.8 494.4,192.8" fill="#6ff2b5" stroke="#8ddebe"/><polygon points="487.2,193.3 494.4,192.8 488.7,190.2 481.5,191" fill="#73f2b4" stroke="#90debe"/><polygon points="513.1,197.4 520.3,196.2 514.5,193.2 507.4,194.6" fill="#6cf1b7" stroke="#8bdebf"/><polygon points="474.3,191.3 481.5,191 475.8,188.6 468.6,189.2" fill="#76f2b2" stroke="#91debc"/><polygon points="461.3,189.3 468.6,189.2 462.9,187 455.6,187.4" fill="#79f3b0" stroke="#93dfbb"/><polygon points="448.4,187.3 455.6,187.4 450,185.4 442.7,185.6" fill="#7cf3ae" stroke="#95dfba"/><polygon points="526.1,199.2 533.2,197.6 527.5,194.6 520.3,196.2" fill="#6af1b8" stroke="#8adec0"/><polygon points="378,168.9 385.4,171.8 379.8,170.7 372.5,168.4" fill="#98ef9e" stroke="#a6dcb0"/><polygon points="435.4,185.3 442.7,185.6 437,183.5 429.8,183.4" fill="#80f3ac" stroke="#98dfb9"/><polygon points="539,200.7 546.2,198.9 540.4,195.8 533.2,197.6" fill="#68f0b9" stroke="#89ddc1"/><polygon points="285.4,169 292.9,168.2 287.7,171.3 280.2,172.6" fill="#97ef9f" stroke="#a6dcb0"/><polygon points="422.5,182.8 429.8,183.4 424.1,181.3 416.8,180.7" fill="#85f2aa" stroke="#9bdeb7"/><polygon points="339.1,161.3 346.6,164.2 341.1,165.9 333.7,164.2" fill="#a3eb98" stroke="#addaac"/><polygon points="552,202 559.2,200 553.4,196.8 546.2,198.9" fill="#66f0ba" stroke="#87ddc1"/><polygon points="209.7,195.6 217.3,192.6 212,191 204.5,193.8" fill="#6ef1b6" stroke="#8cdebf"/><polygon points="305.7,163.7 313.3,164.5 308,167.7 300.5,167.8" fill="#9fed9a" stroke="#abdbad"/><polygon points="365,165 372.5,168.4 366.9,168.2 359.5,165.7" fill="#9fed9a" stroke="#abdbad"/><polygon points="352,162.3 359.5,165.7 354,166.5 346.6,164.2" fill="#a3eb98" stroke="#addaac"/><polygon points="257.7,179 265.2,176.4 260,178.5 252.5,180.9" fill="#8af2a6" stroke="#9edeb5"/><polygon points="230,190 237.5,186.8 232.3,186.7 224.8,189.6" fill="#79f3b0" stroke="#93dfbb"/><polygon points="409.5,179.4 416.8,180.7 411.2,178.6 403.9,177.3" fill="#8bf2a6" stroke="#9edeb5"/><polygon points="202.2,198.6 209.7,195.6 204.5,193.8 197,196.5" fill="#6df1b7" stroke="#8cdebf"/><polygon points="396.6,175.1 403.9,177.3 398.3,175.4 391,173.2" fill="#94f0a1" stroke="#a4ddb2"/><polygon points="518.9,200.4 526.1,199.2 520.3,196.2 513.1,197.4" fill="#6df1b7" stroke="#8cdebf"/><polygon points="531.9,202.3 539,200.7 533.2,197.6 526.1,199.2" fill="#6af1b8" stroke="#8adec0"/><polygon points="505.9,198.1 513.1,197.4 507.4,194.6 500.2,195.4" fill="#71f2b5" stroke="#8edebe"/><polygon points="222.5,193.3 230,190 224.8,189.6 217.3,192.6" fill="#77f2b1" stroke="#92debc"/><polygon points="544.8,203.9 552,202 546.2,198.9 539,200.7" fill="#68f0b9" stroke="#89ddc1"/><polygon points="493,195.7 500.2,195.4 494.4,192.8 487.2,193.3" fill="#75f2b2" stroke="#91debc"/><polygon points="250.2,182 257.7,179 252.5,180.9 245,183.7" fill="#89f2a7" stroke="#9ddeb5"/><polygon points="277.9,170.3 285.4,169 280.2,172.6 272.7,174.3" fill="#9aee9d" stroke="#a8dcaf"/><polygon points="480,193.2 487.2,193.3 481.5,191 474.3,191.3" fill="#79f3b0" stroke="#93dfbb"/><polygon points="557.8,205.2 565,203.2 559.2,200 552,202" fill="#66f0ba" stroke="#87ddc1"/><polygon points="467.1,190.9 474.3,191.3 468.6,189.2 461.3,189.3" fill="#7df3ae" stroke="#96dfba"/><polygon points="454.1,188.9 461.3,189.3 455.6,187.4 448.4,187.3" fill="#80f3ac" stroke="#98dfb9"/><polygon points="318.6,160 326.1,162.1 320.8,165.5 313.3,164.5" fill="#aae893" stroke="#b2d8a9"/><polygon points="441.1,186.9 448.4,187.3 442.7,185.6 435.4,185.3" fill="#84f2aa" stroke="#9adeb7"/><polygon points="428.1,184.6 435.4,185.3 429.8,183.4 422.5,182.8" fill="#88f2a8" stroke="#9ddeb6"/><polygon points="383.6,170 391,173.2 385.4,171.8 378,168.9" fill="#9eed9a" stroke="#aadbad"/><polygon points="194.6,201.5 202.2,198.6 197,196.5 189.4,199.2" fill="#6bf1b7" stroke="#8bdebf"/><polygon points="298.2,163.2 305.7,163.7 300.5,167.8 292.9,168.2" fill="#a7ea95" stroke="#b0d9aa"/><polygon points="215,196.7 222.5,193.3 217.3,192.6 209.7,195.6" fill="#74f2b3" stroke="#90debd"/><polygon points="415.2,181.6 422.5,182.8 416.8,180.7 409.5,179.4" fill="#8ef1a4" stroke="#a0deb4"/><polygon points="242.7,185.4 250.2,182 245,183.7 237.5,186.8" fill="#87f2a8" stroke="#9cdeb6"/><polygon points="537.7,205.4 544.8,203.9 539,200.7 531.9,202.3" fill="#6af1b8" stroke="#8adec0"/><polygon points="524.7,203.4 531.9,202.3 526.1,199.2 518.9,200.4" fill="#6ef1b6" stroke="#8cdebf"/><polygon points="370.6,164.9 378,168.9 372.5,168.4 365,165" fill="#a8e994" stroke="#b0d9aa"/><polygon points="270.3,172.3 277.9,170.3 272.7,174.3 265.2,176.4" fill="#9cee9c" stroke="#a9dcaf"/><polygon points="331.5,157.9 339.1,161.3 333.7,164.2 326.1,162.1" fill="#b1e58f" stroke="#b6d6a7"/><polygon points="550.6,207.1 557.8,205.2 552,202 544.8,203.9" fill="#68f0b9" stroke="#89ddc1"/><polygon points="511.7,200.9 518.9,200.4 513.1,197.4 505.9,198.1" fill="#72f2b4" stroke="#8fdebe"/><polygon points="402.2,177.4 409.5,179.4 403.9,177.3 396.6,175.1" fill="#97ef9f" stroke="#a6dcb0"/><polygon points="563.7,208.4 570.8,206.3 565,203.2 557.8,205.2" fill="#66f0ba" stroke="#87ddc1"/><polygon points="187.1,204.4 194.6,201.5 189.4,199.2 181.8,201.9" fill="#6af1b8" stroke="#8adec0"/><polygon points="498.8,198.2 505.9,198.1 500.2,195.4 493,195.7" fill="#77f2b1" stroke="#92debc"/><polygon points="207.4,200.1 215,196.7 209.7,195.6 202.2,198.6" fill="#72f2b4" stroke="#8fdebe"/><polygon points="235.2,189.1 242.7,185.4 237.5,186.8 230,190" fill="#84f2aa" stroke="#9adeb7"/><polygon points="485.8,195.3 493,195.7 487.2,193.3 480,193.2" fill="#7cf3af" stroke="#95dfba"/><polygon points="357.5,160.6 365,165 359.5,165.7 352,162.3" fill="#afe690" stroke="#b5d7a7"/><polygon points="344.5,158.1 352,162.3 346.6,164.2 339.1,161.3" fill="#b2e48e" stroke="#b7d6a6"/><polygon points="472.8,192.5 480,193.2 474.3,191.3 467.1,190.9" fill="#81f3ac" stroke="#98dfb9"/><polygon points="459.8,190.1 467.1,190.9 461.3,189.3 454.1,188.9" fill="#85f2a9" stroke="#9bdeb7"/><polygon points="446.8,188.1 454.1,188.9 448.4,187.3 441.1,186.9" fill="#89f2a7" stroke="#9ddeb5"/><polygon points="433.8,186.1 441.1,186.9 435.4,185.3 428.1,184.6" fill="#8cf1a5" stroke="#9fdeb4"/><polygon points="227.7,193 235.2,189.1 230,190 222.5,193.3" fill="#81f3ac" stroke="#98dfb9"/><polygon points="262.8,175 270.3,172.3 265.2,176.4 257.7,179" fill="#9cee9c" stroke="#a9dcaf"/><polygon points="199.9,203.4 207.4,200.1 202.2,198.6 194.6,201.5" fill="#6ff2b5" stroke="#8ddebe"/><polygon points="290.6,163.4 298.2,163.2 292.9,168.2 285.4,169" fill="#ade792" stroke="#b3d7a8"/><polygon points="389.2,171.9 396.6,175.1 391,173.2 383.6,170" fill="#a3eb98" stroke="#addaac"/><polygon points="179.5,207.2 187.1,204.4 181.8,201.9 174.2,204.5" fill="#68f0b9" stroke="#89ddc1"/><polygon points="311,158 318.6,160 313.3,164.5 305.7,163.7" fill="#b4e38c" stroke="#b8d5a5"/><polygon points="420.8,183.7 428.1,184.6 422.5,182.8 415.2,181.6" fill="#92f0a2" stroke="#a3ddb2"/><polygon points="543.5,208.6 550.6,207.1 544.8,203.9 537.7,205.4" fill="#6af1b8" stroke="#8adec0"/><polygon points="530.5,206.5 537.7,205.4 531.9,202.3 524.7,203.4" fill="#6ef1b6" stroke="#8cdebf"/><polygon points="556.5,210.3 563.7,208.4 557.8,205.2 550.6,207.1" fill="#68f0b9" stroke="#89ddc1"/><polygon points="517.5,203.8 524.7,203.4 518.9,200.4 511.7,200.9" fill="#73f2b4" stroke="#90debe"/><polygon points="569.5,211.7 576.7,209.6 570.8,206.3 563.7,208.4" fill="#66f0ba" stroke="#87ddc1"/><polygon points="220.2,196.9 227.7,193 222.5,193.3 215,196.7" fill="#7df3ae" stroke="#96dfba"/><polygon points="407.8,180 415.2,181.6 409.5,179.4 402.2,177.4" fill="#9aee9d" stroke="#a8dcaf"/><polygon points="504.5,200.8 511.7,200.9 505.9,198.1 498.8,198.2" fill="#78f3b0" stroke="#93dfbb"/><polygon points="192.3,206.6 199.9,203.4 194.6,201.5 187.1,204.4" fill="#6df1b7" stroke="#8cdebf"/><polygon points="255.3,178.4 262.8,175 257.7,179 250.2,182" fill="#9aee9d" stroke="#a8dcaf"/><polygon points="491.6,197.4 498.8,198.2 493,195.7 485.8,195.3" fill="#7ff3ad" stroke="#97dfb9"/><polygon points="376.1,165.7 383.6,170 378,168.9 370.6,164.9" fill="#afe690" stroke="#b5d7a7"/><polygon points="171.9,209.9 179.5,207.2 174.2,204.5 166.6,207.1" fill="#67f0b9" stroke="#88ddc1"/><polygon points="212.7,200.8 220.2,196.9 215,196.7 207.4,200.1" fill="#79f3b0" stroke="#93dfbb"/><polygon points="478.6,194.1 485.8,195.3 480,193.2 472.8,192.5" fill="#85f2a9" stroke="#9bdeb7"/><polygon points="283,164.3 290.6,163.4 285.4,169 277.9,170.3" fill="#b1e58f" stroke="#b6d6a7"/><polygon points="323.9,154.4 331.5,157.9 326.1,162.1 318.6,160" fill="#bfdc86" stroke="#bfd1a1"/><polygon points="549.3,211.9 556.5,210.3 550.6,207.1 543.5,208.6" fill="#6af1b8" stroke="#8adec0"/><polygon points="247.8,182.3 255.3,178.4 250.2,182 242.7,185.4" fill="#97ef9f" stroke="#a6dcb0"/><polygon points="465.6,191.2 472.8,192.5 467.1,190.9 459.8,190.1" fill="#8af2a6" stroke="#9edeb5"/><polygon points="536.3,209.7 543.5,208.6 537.7,205.4 530.5,206.5" fill="#6ef1b6" stroke="#8cdebf"/><polygon points="394.8,174.6 402.2,177.4 396.6,175.1 389.2,171.9" fill="#a5ea96" stroke="#aed9ab"/><polygon points="562.3,213.6 569.5,211.7 563.7,208.4 556.5,210.3" fill="#68f0b9" stroke="#89ddc1"/><polygon points="184.7,209.7 192.3,206.6 187.1,204.4 179.5,207.2" fill="#6bf1b8" stroke="#8bdec0"/><polygon points="452.6,189 459.8,190.1 454.1,188.9 446.8,188.1" fill="#8ef1a4" stroke="#a0deb4"/><polygon points="439.5,187.2 446.8,188.1 441.1,186.9 433.8,186.1" fill="#92f0a2" stroke="#a3ddb2"/><polygon points="523.3,206.9 530.5,206.5 524.7,203.4 517.5,203.8" fill="#73f2b3" stroke="#90debd"/><polygon points="575.4,214.9 582.6,212.8 576.7,209.6 569.5,211.7" fill="#66f0ba" stroke="#87ddc1"/><polygon points="205.1,204.7 212.7,200.8 207.4,200.1 199.9,203.4" fill="#75f2b2" stroke="#91debc"/><polygon points="426.5,185.3 433.8,186.1 428.1,184.6 420.8,183.7" fill="#96efa0" stroke="#a5dcb1"/><polygon points="363.1,159.8 370.6,164.9 365,165 357.5,160.6" fill="#badf89" stroke="#bcd2a3"/><polygon points="164.2,212.6 171.9,209.9 166.6,207.1 159,209.7" fill="#66f0ba" stroke="#87ddc1"/><polygon points="510.3,203.6 517.5,203.8 511.7,200.9 504.5,200.8" fill="#7af3b0" stroke="#94dfbb"/><polygon points="240.3,186.7 247.8,182.3 242.7,185.4 235.2,189.1" fill="#93f0a1" stroke="#a3ddb2"/><polygon points="303.4,156.5 311,158 305.7,163.7 298.2,163.2" fill="#bedd86" stroke="#bed1a1"/><polygon points="413.5,182.5 420.8,183.7 415.2,181.6 407.8,180" fill="#9cee9c" stroke="#a9dcaf"/><polygon points="336.9,153.4 344.5,158.1 339.1,161.3 331.5,157.9" fill="#c3d983" stroke="#c1cf9f"/><polygon points="350,155.3 357.5,160.6 352,162.3 344.5,158.1" fill="#c2da84" stroke="#c0cfa0"/><polygon points="177.1,212.6 184.7,209.7 179.5,207.2 171.9,209.9" fill="#69f1b8" stroke="#89dec0"/><polygon points="197.6,208.3 205.1,204.7 199.9,203.4 192.3,206.6" fill="#71f2b4" stroke="#8edebe"/><polygon points="497.4,199.7 504.5,200.8 498.8,198.2 491.6,197.4" fill="#81f3ac" stroke="#98dfb9"/><polygon points="232.8,191.3 240.3,186.7 235.2,189.1 227.7,193" fill="#8ef1a4" stroke="#a0deb4"/><polygon points="275.4,166.2 283,164.3 277.9,170.3 270.3,172.3" fill="#b3e38d" stroke="#b7d5a5"/><polygon points="555.1,215.2 562.3,213.6 556.5,210.3 549.3,211.9" fill="#6af1b8" stroke="#8adec0"/><polygon points="381.8,167.7 389.2,171.9 383.6,170 376.1,165.7" fill="#b4e38d" stroke="#b8d5a5"/><polygon points="542.1,213.1 549.3,211.9 543.5,208.6 536.3,209.7" fill="#6ef1b6" stroke="#8cdebf"/><polygon points="568.2,216.9 575.4,214.9 569.5,211.7 562.3,213.6" fill="#67f0b9" stroke="#88ddc1"/><polygon points="156.6,215.2 164.2,212.6 159,209.7 151.3,212.2" fill="#66f0ba" stroke="#87ddc1"/><polygon points="484.4,195.8 491.6,197.4 485.8,195.3 478.6,194.1" fill="#89f2a7" stroke="#9ddeb5"/><polygon points="225.3,196 232.8,191.3 227.7,193 220.2,196.9" fill="#88f2a8" stroke="#9ddeb6"/><polygon points="400.4,177.8 407.8,180 402.2,177.4 394.8,174.6" fill="#a7ea95" stroke="#b0d9aa"/><polygon points="581.2,218.2 588.4,216 582.6,212.8 575.4,214.9" fill="#66f0ba" stroke="#87ddc1"/><polygon points="529.1,210.2 536.3,209.7 530.5,206.5 523.3,206.9" fill="#73f2b3" stroke="#90debd"/><polygon points="190,211.8 197.6,208.3 192.3,206.6 184.7,209.7" fill="#6ef1b6" stroke="#8cdebf"/><polygon points="169.5,215.5 177.1,212.6 171.9,209.9 164.2,212.6" fill="#68f0b9" stroke="#89ddc1"/><polygon points="471.4,192.3 478.6,194.1 472.8,192.5 465.6,191.2" fill="#90f1a3" stroke="#a1deb3"/><polygon points="217.8,200.7 225.3,196 220.2,196.9 212.7,200.8" fill="#82f2ab" stroke="#99deb8"/><polygon points="516.1,206.6 523.3,206.9 517.5,203.8 510.3,203.6" fill="#7af3af" stroke="#94dfba"/><polygon points="458.3,189.6 465.6,191.2 459.8,190.1 452.6,189" fill="#95f0a0" stroke="#a5ddb1"/><polygon points="432.2,186.4 439.5,187.2 433.8,186.1 426.5,185.3" fill="#9bee9c" stroke="#a8dcaf"/><polygon points="445.3,187.7 452.6,189 446.8,188.1 439.5,187.2" fill="#98ef9e" stroke="#a6dcb0"/><polygon points="267.9,169 275.4,166.2 270.3,172.3 262.8,175" fill="#b3e38d" stroke="#b7d5a5"/><polygon points="419.1,184.6 426.5,185.3 420.8,183.7 413.5,182.5" fill="#9fed9a" stroke="#abdbad"/><polygon points="148.9,217.8 156.6,215.2 151.3,212.2 143.6,214.7" fill="#65f0bb" stroke="#87ddc2"/><polygon points="210.3,205.3 217.8,200.7 212.7,200.8 205.1,204.7" fill="#7df3ae" stroke="#96dfba"/><polygon points="316.3,151.2 323.9,154.4 318.6,160 311,158" fill="#cdd27c" stroke="#c7ca9b"/><polygon points="182.4,215.1 190,211.8 184.7,209.7 177.1,212.6" fill="#6cf1b7" stroke="#8bdebf"/><polygon points="503.2,202.4 510.3,203.6 504.5,200.8 497.4,199.7" fill="#83f2ab" stroke="#99deb8"/><polygon points="295.8,155.9 303.4,156.5 298.2,163.2 290.6,163.4" fill="#c6d781" stroke="#c3ce9e"/><polygon points="561,218.6 568.2,216.9 562.3,213.6 555.1,215.2" fill="#69f1b8" stroke="#89dec0"/><polygon points="368.7,160.3 376.1,165.7 370.6,164.9 363.1,159.8" fill="#c3da83" stroke="#c1cf9f"/><polygon points="547.9,216.5 555.1,215.2 549.3,211.9 542.1,213.1" fill="#6df1b6" stroke="#8cdebf"/><polygon points="574,220.2 581.2,218.2 575.4,214.9 568.2,216.9" fill="#67f0ba" stroke="#88ddc1"/><polygon points="161.8,218.2 169.5,215.5 164.2,212.6 156.6,215.2" fill="#67f0ba" stroke="#88ddc1"/><polygon points="387.4,171 394.8,174.6 389.2,171.9 381.8,167.7" fill="#b6e28c" stroke="#b9d4a5"/><polygon points="534.9,213.6 542.1,213.1 536.3,209.7 529.1,210.2" fill="#73f2b3" stroke="#90debd"/><polygon points="587.1,221.5 594.3,219.3 588.4,216 581.2,218.2" fill="#66f0ba" stroke="#87ddc1"/><polygon points="406.1,181.2 413.5,182.5 407.8,180 400.4,177.8" fill="#a7e995" stroke="#b0d9aa"/><polygon points="202.8,209.6 210.3,205.3 205.1,204.7 197.6,208.3" fill="#78f2b1" stroke="#93debc"/><polygon points="260.4,172.8 267.9,169 262.8,175 255.3,178.4" fill="#b1e58f" stroke="#b6d6a7"/><polygon points="490.2,197.9 497.4,199.7 491.6,197.4 484.4,195.8" fill="#8cf1a5" stroke="#9fdeb4"/><polygon points="521.9,209.9 529.1,210.2 523.3,206.9 516.1,206.6" fill="#7af3af" stroke="#94dfba"/><polygon points="174.8,218.1 182.4,215.1 177.1,212.6 169.5,215.5" fill="#6af1b8" stroke="#8adec0"/><polygon points="141.2,220.3 148.9,217.8 143.6,214.7 135.9,217.1" fill="#65f0bb" stroke="#87ddc2"/><polygon points="195.3,213.6 202.8,209.6 197.6,208.3 190,211.8" fill="#73f2b3" stroke="#90debd"/><polygon points="252.9,177.4 260.4,172.8 255.3,178.4 247.8,182.3" fill="#ade791" stroke="#b3d7a8"/><polygon points="355.5,153.7 363.1,159.8 357.5,160.6 350,155.3" fill="#cfd07b" stroke="#c9c99a"/><polygon points="329.3,148.5 336.9,153.4 331.5,157.9 323.9,154.4" fill="#d5cb77" stroke="#ccc698"/><polygon points="154.2,220.8 161.8,218.2 156.6,215.2 148.9,217.8" fill="#66f0ba" stroke="#87ddc1"/><polygon points="477.2,193.6 484.4,195.8 478.6,194.1 471.4,192.3" fill="#95f0a0" stroke="#a5ddb1"/><polygon points="566.8,222.1 574,220.2 568.2,216.9 561,218.6" fill="#69f0b9" stroke="#89ddc1"/><polygon points="553.8,220 561,218.6 555.1,215.2 547.9,216.5" fill="#6cf1b7" stroke="#8bdebf"/><polygon points="245.4,182.6 252.9,177.4 247.8,182.3 240.3,186.7" fill="#a7ea95" stroke="#b0d9aa"/><polygon points="509,205.4 516.1,206.6 510.3,203.6 503.2,202.4" fill="#84f2aa" stroke="#9adeb7"/><polygon points="579.9,223.6 587.1,221.5 581.2,218.2 574,220.2" fill="#67f0ba" stroke="#88ddc1"/><polygon points="393,175.2 400.4,177.8 394.8,174.6 387.4,171" fill="#b5e28c" stroke="#b8d4a5"/><polygon points="540.7,217.2 547.9,216.5 542.1,213.1 534.9,213.6" fill="#72f2b4" stroke="#8fdebe"/><polygon points="342.4,149.4 350,155.3 344.5,158.1 336.9,153.4" fill="#d6ca76" stroke="#cdc597"/><polygon points="424.8,186.1 432.2,186.4 426.5,185.3 419.1,184.6" fill="#a4eb97" stroke="#aedaac"/><polygon points="593.1,224.8 600.3,222.5 594.3,219.3 587.1,221.5" fill="#65f0ba" stroke="#87ddc1"/><polygon points="187.7,217.2 195.3,213.6 190,211.8 182.4,215.1" fill="#6ff2b5" stroke="#8ddebe"/><polygon points="464.1,190.2 471.4,192.3 465.6,191.2 458.3,189.6" fill="#9bee9c" stroke="#a8dcaf"/><polygon points="237.9,188.2 245.4,182.6 240.3,186.7 232.8,191.3" fill="#9fed9a" stroke="#abdbad"/><polygon points="288.1,156.3 295.8,155.9 290.6,163.4 283,164.3" fill="#ccd27d" stroke="#c7ca9b"/><polygon points="167.1,221.1 174.8,218.1 169.5,215.5 161.8,218.2" fill="#68f0b9" stroke="#89ddc1"/><polygon points="437.9,186.9 445.3,187.7 439.5,187.2 432.2,186.4" fill="#a2ec98" stroke="#addbac"/><polygon points="451,188 458.3,189.6 452.6,189 445.3,187.7" fill="#a0ec9a" stroke="#abdbad"/><polygon points="411.7,184.2 419.1,184.6 413.5,182.5 406.1,181.2" fill="#a8e994" stroke="#b0d9aa"/><polygon points="230.5,194 237.9,188.2 232.8,191.3 225.3,196" fill="#97ef9f" stroke="#a6dcb0"/><polygon points="133.5,222.8 141.2,220.3 135.9,217.1 128.2,219.6" fill="#65f0bb" stroke="#87ddc2"/><polygon points="374.3,162.6 381.8,167.7 376.1,165.7 368.7,160.3" fill="#c7d680" stroke="#c4cd9d"/><polygon points="223,199.7 230.5,194 225.3,196 217.8,200.7" fill="#8ff1a4" stroke="#a1deb4"/><polygon points="527.8,213.4 534.9,213.6 529.1,210.2 521.9,209.9" fill="#7af3b0" stroke="#94dfbb"/><polygon points="146.5,223.4 154.2,220.8 148.9,217.8 141.2,220.3" fill="#65f0bb" stroke="#87ddc2"/><polygon points="496,200.3 503.2,202.4 497.4,199.7 490.2,197.9" fill="#8ff1a4" stroke="#a1deb4"/><polygon points="215.5,205.1 223,199.7 217.8,200.7 210.3,205.3" fill="#87f2a8" stroke="#9cdeb6"/><polygon points="180.1,220.6 187.7,217.2 182.4,215.1 174.8,218.1" fill="#6cf1b7" stroke="#8bdebf"/><polygon points="308.6,148.5 316.3,151.2 311,158 303.4,156.5" fill="#d9c774" stroke="#cfc496"/><polygon points="208,210.2 215.5,205.1 210.3,205.3 202.8,209.6" fill="#80f3ac" stroke="#98dfb9"/><polygon points="572.7,225.5 579.9,223.6 574,220.2 566.8,222.1" fill="#68f0b9" stroke="#89ddc1"/><polygon points="559.6,223.6 566.8,222.1 561,218.6 553.8,220" fill="#6cf1b7" stroke="#8bdebf"/><polygon points="159.5,223.8 167.1,221.1 161.8,218.2 154.2,220.8" fill="#67f0ba" stroke="#88ddc1"/><polygon points="398.7,179.9 406.1,181.2 400.4,177.8 393,175.2" fill="#b3e48d" stroke="#b7d6a5"/><polygon points="585.8,227 593.1,224.8 587.1,221.5 579.9,223.6" fill="#66f0ba" stroke="#87ddc1"/><polygon points="514.8,208.7 521.9,209.9 516.1,206.6 509,205.4" fill="#84f2aa" stroke="#9adeb7"/><polygon points="546.6,220.9 553.8,220 547.9,216.5 540.7,217.2" fill="#71f2b4" stroke="#8edebe"/><polygon points="125.7,225.2 133.5,222.8 128.2,219.6 120.5,222" fill="#65efbb" stroke="#87dcc2"/><polygon points="200.5,214.9 208,210.2 202.8,209.6 195.3,213.6" fill="#79f3b0" stroke="#93dfbb"/><polygon points="599,228.1 606.2,225.8 600.3,222.5 593.1,224.8" fill="#65f0bb" stroke="#87ddc2"/><polygon points="483,195.3 490.2,197.9 484.4,195.8 477.2,193.6" fill="#99ef9e" stroke="#a7dcb0"/><polygon points="280.5,158 288.1,156.3 283,164.3 275.4,166.2" fill="#cfd07a" stroke="#c9c99a"/><polygon points="172.4,223.8 180.1,220.6 174.8,218.1 167.1,221.1" fill="#6af1b8" stroke="#8adec0"/><polygon points="138.8,225.9 146.5,223.4 141.2,220.3 133.5,222.8" fill="#65f0bb" stroke="#87ddc2"/><polygon points="533.6,217.2 540.7,217.2 534.9,213.6 527.8,213.4" fill="#79f3b0" stroke="#93dfbb"/><polygon points="379.9,166.7 387.4,171 381.8,167.7 374.3,162.6" fill="#c8d67f" stroke="#c4cd9d"/><polygon points="193,219.1 200.5,214.9 195.3,213.6 187.7,217.2" fill="#74f2b3" stroke="#90debd"/><polygon points="417.4,186.5 424.8,186.1 419.1,184.6 411.7,184.2" fill="#abe892" stroke="#b2d8a8"/><polygon points="361.1,153.9 368.7,160.3 363.1,159.8 355.5,153.7" fill="#d9c874" stroke="#cfc496"/><polygon points="151.8,226.5 159.5,223.8 154.2,220.8 146.5,223.4" fill="#66f0ba" stroke="#87ddc1"/><polygon points="430.6,186.8 437.9,186.9 432.2,186.4 424.8,186.1" fill="#aae893" stroke="#b2d8a9"/><polygon points="470,191 477.2,193.6 471.4,192.3 464.1,190.2" fill="#a2ec98" stroke="#addbac"/><polygon points="501.8,203.2 509,205.4 503.2,202.4 496,200.3" fill="#90f1a3" stroke="#a1deb3"/><polygon points="404.3,184.3 411.7,184.2 406.1,181.2 398.7,179.9" fill="#b1e58f" stroke="#b6d6a7"/><polygon points="565.5,227.2 572.7,225.5 566.8,222.1 559.6,223.6" fill="#6bf1b8" stroke="#8bdec0"/><polygon points="578.6,229 585.8,227 579.9,223.6 572.7,225.5" fill="#68f0b9" stroke="#89ddc1"/><polygon points="118,227.7 125.7,225.2 120.5,222 112.7,224.5" fill="#64efbb" stroke="#86dcc2"/><polygon points="443.7,186.8 451,188 445.3,187.7 437.9,186.9" fill="#aae893" stroke="#b2d8a9"/><polygon points="456.9,188.1 464.1,190.2 458.3,189.6 451,188" fill="#a8e995" stroke="#b0d9aa"/><polygon points="552.4,224.6 559.6,223.6 553.8,220 546.6,220.9" fill="#70f2b5" stroke="#8edebe"/><polygon points="520.6,212.4 527.8,213.4 521.9,209.9 514.8,208.7" fill="#83f2aa" stroke="#99deb7"/><polygon points="185.4,223 193,219.1 187.7,217.2 180.1,220.6" fill="#70f2b5" stroke="#8edebe"/><polygon points="591.8,230.3 599,228.1 593.1,224.8 585.8,227" fill="#66f0ba" stroke="#87ddc1"/><polygon points="164.8,226.8 172.4,223.8 167.1,221.1 159.5,223.8" fill="#68f0b9" stroke="#89ddc1"/><polygon points="273,161 280.5,158 275.4,166.2 267.9,169" fill="#cfd07a" stroke="#c9c99a"/><polygon points="321.6,143.9 329.3,148.5 323.9,154.4 316.3,151.2" fill="#e6bb6a" stroke="#d7bc90"/><polygon points="131,228.5 138.8,225.9 133.5,222.8 125.7,225.2" fill="#65f0bb" stroke="#87ddc2"/><polygon points="604.9,231.4 612.1,229.1 606.2,225.8 599,228.1" fill="#65f0bb" stroke="#87ddc2"/><polygon points="385.6,172.3 393,175.2 387.4,171 379.9,166.7" fill="#c5d882" stroke="#c2ce9e"/><polygon points="539.4,221.1 546.6,220.9 540.7,217.2 533.6,217.2" fill="#77f2b1" stroke="#92debc"/><polygon points="144,229.1 151.8,226.5 146.5,223.4 138.8,225.9" fill="#65f0bb" stroke="#87ddc2"/><polygon points="300.9,146.9 308.6,148.5 303.4,156.5 295.8,155.9" fill="#e4bd6c" stroke="#d6bd91"/><polygon points="347.9,146.9 355.5,153.7 350,155.3 342.4,149.4" fill="#e6bc6b" stroke="#d7bd90"/><polygon points="488.8,197.4 496,200.3 490.2,197.9 483,195.3" fill="#9cee9c" stroke="#a9dcaf"/><polygon points="177.7,226.4 185.4,223 180.1,220.6 172.4,223.8" fill="#6cf1b7" stroke="#8bdebf"/><polygon points="265.4,165.3 273,161 267.9,169 260.4,172.8" fill="#ccd27d" stroke="#c7ca9b"/><polygon points="213.3,210.4 220.7,204.3 215.5,205.1 208,210.2" fill="#89f2a7" stroke="#9ddeb5"/><polygon points="220.7,204.3 228.2,197.7 223,199.7 215.5,205.1" fill="#93f0a1" stroke="#a3ddb2"/><polygon points="110.2,230.2 118,227.7 112.7,224.5 105,226.9" fill="#64efbb" stroke="#86dcc2"/><polygon points="228.2,197.7 235.6,190.8 230.5,194 223,199.7" fill="#9eed9b" stroke="#aadbae"/><polygon points="334.7,143.3 342.4,149.4 336.9,153.4 329.3,148.5" fill="#ebb667" stroke="#dab98e"/><polygon points="205.8,215.9 213.3,210.4 208,210.2 200.5,214.9" fill="#81f3ac" stroke="#98dfb9"/><polygon points="157.1,229.6 164.8,226.8 159.5,223.8 151.8,226.5" fill="#67f0ba" stroke="#88ddc1"/><polygon points="391.2,178.6 398.7,179.9 393,175.2 385.6,172.3" fill="#bfdc85" stroke="#bfd1a0"/><polygon points="507.6,206.6 514.8,208.7 509,205.4 501.8,203.2" fill="#90f1a3" stroke="#a1deb3"/><polygon points="410,187.9 417.4,186.5 411.7,184.2 404.3,184.3" fill="#b1e58f" stroke="#b6d6a7"/><polygon points="571.4,230.8 578.6,229 572.7,225.5 565.5,227.2" fill="#6af1b8" stroke="#8adec0"/><polygon points="235.6,190.8 243,183.8 237.9,188.2 230.5,194" fill="#a9e894" stroke="#b1d8aa"/><polygon points="584.5,232.4 591.8,230.3 585.8,227 578.6,229" fill="#67f0ba" stroke="#88ddc1"/><polygon points="257.9,170.7 265.4,165.3 260.4,172.8 252.9,177.4" fill="#c6d781" stroke="#c3ce9e"/><polygon points="526.4,216.4 533.6,217.2 527.8,213.4 520.6,212.4" fill="#82f3ab" stroke="#99dfb8"/><polygon points="558.3,228.5 565.5,227.2 559.6,223.6 552.4,224.6" fill="#6ef1b6" stroke="#8cdebf"/><polygon points="123.3,230.9 131,228.5 125.7,225.2 118,227.7" fill="#65efbb" stroke="#87dcc2"/><polygon points="243,183.8 250.4,177 245.4,182.6 237.9,188.2" fill="#b4e38d" stroke="#b8d5a5"/><polygon points="198.2,220.8 205.8,215.9 200.5,214.9 193,219.1" fill="#79f3b0" stroke="#93dfbb"/><polygon points="423.1,187.8 430.6,186.8 424.8,186.1 417.4,186.5" fill="#b0e58f" stroke="#b5d6a7"/><polygon points="250.4,177 257.9,170.7 252.9,177.4 245.4,182.6" fill="#bedd86" stroke="#bed1a1"/><polygon points="597.7,233.7 604.9,231.4 599,228.1 591.8,230.3" fill="#65f0ba" stroke="#87ddc1"/><polygon points="366.7,156.6 374.3,162.6 368.7,160.3 361.1,153.9" fill="#ddc471" stroke="#d1c294"/><polygon points="170.1,229.6 177.7,226.4 172.4,223.8 164.8,226.8" fill="#6af1b8" stroke="#8adec0"/><polygon points="136.3,231.7 144,229.1 138.8,225.9 131,228.5" fill="#65f0bb" stroke="#87ddc2"/><polygon points="610.9,234.7 618.1,232.3 612.1,229.1 604.9,231.4" fill="#65f0bb" stroke="#87ddc2"/><polygon points="545.2,225.2 552.4,224.6 546.6,220.9 539.4,221.1" fill="#75f2b2" stroke="#91debc"/><polygon points="475.8,192.2 483,195.3 477.2,193.6 470,191" fill="#a7e995" stroke="#b0d9aa"/><polygon points="396.9,184.9 404.3,184.3 398.7,179.9 391.2,178.6" fill="#b9e089" stroke="#bbd3a3"/><polygon points="190.7,225.2 198.2,220.8 193,219.1 185.4,223" fill="#73f2b3" stroke="#90debd"/><polygon points="436.3,186.8 443.7,186.8 437.9,186.9 430.6,186.8" fill="#b2e48e" stroke="#b7d6a6"/><polygon points="149.4,232.2 157.1,229.6 151.8,226.5 144,229.1" fill="#66f0ba" stroke="#87ddc1"/><polygon points="102.4,232.6 110.2,230.2 105,226.9 97.2,229.4" fill="#64efbb" stroke="#86dcc2"/><polygon points="462.7,188.4 470,191 464.1,190.2 456.9,188.1" fill="#afe690" stroke="#b5d7a7"/><polygon points="449.5,186.6 456.9,188.1 451,188 443.7,186.8" fill="#b3e48e" stroke="#b7d6a6"/><polygon points="494.7,200.2 501.8,203.2 496,200.3 488.8,197.4" fill="#9eed9b" stroke="#aadbae"/><polygon points="115.5,233.4 123.3,230.9 118,227.7 110.2,230.2" fill="#64efbb" stroke="#86dcc2"/><polygon points="513.4,210.5 520.6,212.4 514.8,208.7 507.6,206.6" fill="#8ff1a4" stroke="#a1deb4"/><polygon points="532.2,220.7 539.4,221.1 533.6,217.2 526.4,216.4" fill="#7ff3ad" stroke="#97dfb9"/><polygon points="183.1,229 190.7,225.2 185.4,223 177.7,226.4" fill="#6ff2b6" stroke="#8ddebf"/><polygon points="577.3,234.4 584.5,232.4 578.6,229 571.4,230.8" fill="#69f0b9" stroke="#89ddc1"/><polygon points="564.2,232.3 571.4,230.8 565.5,227.2 558.3,228.5" fill="#6df1b7" stroke="#8cdebf"/><polygon points="162.4,232.6 170.1,229.6 164.8,226.8 157.1,229.6" fill="#68f0b9" stroke="#89ddc1"/><polygon points="590.5,235.9 597.7,233.7 591.8,230.3 584.5,232.4" fill="#66f0ba" stroke="#87ddc1"/><polygon points="402.5,190.3 410,187.9 404.3,184.3 396.9,184.9" fill="#b4e38d" stroke="#b8d5a5"/><polygon points="293.3,146.7 300.9,146.9 295.8,155.9 288.1,156.3" fill="#ecb567" stroke="#dbb88e"/><polygon points="128.5,234.2 136.3,231.7 131,228.5 123.3,230.9" fill="#65efbb" stroke="#87dcc2"/><polygon points="372.4,161.7 379.9,166.7 374.3,162.6 366.7,156.6" fill="#dcc571" stroke="#d1c294"/><polygon points="603.7,237.1 610.9,234.7 604.9,231.4 597.7,233.7" fill="#65f0bb" stroke="#87ddc2"/><polygon points="415.7,190.4 423.1,187.8 417.4,186.5 410,187.9" fill="#b3e48d" stroke="#b7d6a5"/><polygon points="551.1,229.3 558.3,228.5 552.4,224.6 545.2,225.2" fill="#73f2b3" stroke="#90debd"/><polygon points="616.9,238 624.1,235.6 618.1,232.3 610.9,234.7" fill="#65f0bb" stroke="#87ddc2"/><polygon points="141.6,234.8 149.4,232.2 144,229.1 136.3,231.7" fill="#65f0bb" stroke="#87ddc2"/><polygon points="313.9,140.1 321.6,143.9 316.3,151.2 308.6,148.5" fill="#f3aa5f" stroke="#dfb289"/><polygon points="94.6,235.1 102.4,232.6 97.2,229.4 89.4,231.8" fill="#64efbb" stroke="#86dcc2"/><polygon points="175.4,232.4 183.1,229 177.7,226.4 170.1,229.6" fill="#6bf1b7" stroke="#8bdebf"/><polygon points="211,216.7 218.5,210.3 213.3,210.4 205.8,215.9" fill="#89f2a7" stroke="#9ddeb5"/><polygon points="203.5,222.4 211,216.7 205.8,215.9 198.2,220.8" fill="#7ff3ad" stroke="#97dfb9"/><polygon points="378.1,168.9 385.6,172.3 379.9,166.7 372.4,161.7" fill="#d6ca76" stroke="#cdc597"/><polygon points="353.5,146.9 361.1,153.9 355.5,153.7 347.9,146.9" fill="#f1b063" stroke="#deb58b"/><polygon points="107.7,235.9 115.5,233.4 110.2,230.2 102.4,232.6" fill="#64efbb" stroke="#86dcc2"/><polygon points="218.5,210.3 225.9,203 220.7,204.3 213.3,210.4" fill="#94f0a0" stroke="#a4ddb1"/><polygon points="154.7,235.4 162.4,232.6 157.1,229.6 149.4,232.2" fill="#66f0ba" stroke="#87ddc1"/><polygon points="538,225.1 545.2,225.2 539.4,221.1 532.2,220.7" fill="#7df3ae" stroke="#96dfba"/><polygon points="481.6,194.1 488.8,197.4 483,195.3 475.8,192.2" fill="#ace792" stroke="#b3d7a8"/><polygon points="519.2,214.8 526.4,216.4 520.6,212.4 513.4,210.5" fill="#8df1a5" stroke="#a0deb4"/><polygon points="428.9,188.3 436.3,186.8 430.6,186.8 423.1,187.8" fill="#b7e18b" stroke="#bad4a4"/><polygon points="383.7,177.3 391.2,178.6 385.6,172.3 378.1,168.9" fill="#ccd37d" stroke="#c7cb9b"/><polygon points="196,227.3 203.5,222.4 198.2,220.8 190.7,225.2" fill="#78f2b1" stroke="#93debc"/><polygon points="389.4,185.9 396.9,184.9 391.2,178.6 383.7,177.3" fill="#c0db85" stroke="#bfd0a0"/><polygon points="500.5,203.7 507.6,206.6 501.8,203.2 494.7,200.2" fill="#9eed9a" stroke="#aadbad"/><polygon points="570,236.1 577.3,234.4 571.4,230.8 564.2,232.3" fill="#6bf1b8" stroke="#8bdec0"/><polygon points="583.2,238 590.5,235.9 584.5,232.4 577.3,234.4" fill="#68f0b9" stroke="#89ddc1"/><polygon points="120.8,236.7 128.5,234.2 123.3,230.9 115.5,233.4" fill="#65efbb" stroke="#87dcc2"/><polygon points="408.2,194.4 415.7,190.4 410,187.9 402.5,190.3" fill="#b2e48e" stroke="#b7d6a6"/><polygon points="225.9,203 233.3,195.2 228.2,197.7 220.7,204.3" fill="#a1ec99" stroke="#acdbad"/><polygon points="395.1,193.5 402.5,190.3 396.9,184.9 389.4,185.9" fill="#b6e28b" stroke="#b9d4a4"/><polygon points="596.4,239.3 603.7,237.1 597.7,233.7 590.5,235.9" fill="#66f0ba" stroke="#87ddc1"/><polygon points="556.9,233.5 564.2,232.3 558.3,228.5 551.1,229.3" fill="#71f2b5" stroke="#8edebe"/><polygon points="167.7,235.6 175.4,232.4 170.1,229.6 162.4,232.6" fill="#69f0b9" stroke="#89ddc1"/><polygon points="133.8,237.4 141.6,234.8 136.3,231.7 128.5,234.2" fill="#65f0bb" stroke="#87ddc2"/><polygon points="188.4,231.5 196,227.3 190.7,225.2 183.1,229" fill="#72f2b4" stroke="#8fdebe"/><polygon points="609.6,240.4 616.9,238 610.9,234.7 603.7,237.1" fill="#65f0bb" stroke="#87ddc2"/><polygon points="285.6,148.2 293.3,146.7 288.1,156.3 280.5,158" fill="#f0b164" stroke="#ddb68c"/><polygon points="86.8,237.5 94.6,235.1 89.4,231.8 81.6,234.3" fill="#64efbb" stroke="#86dcc2"/><polygon points="233.3,195.2 240.7,186.8 235.6,190.8 228.2,197.7" fill="#afe690" stroke="#b5d7a7"/><polygon points="442.1,186.5 449.5,186.6 443.7,186.8 436.3,186.8" fill="#bbdf88" stroke="#bcd2a2"/><polygon points="468.5,189.3 475.8,192.2 470,191 462.7,188.4" fill="#b6e28b" stroke="#b9d4a4"/><polygon points="622.9,241.3 630.1,238.9 624.1,235.6 616.9,238" fill="#65efbb" stroke="#87dcc2"/><polygon points="400.7,199.5 408.2,194.4 402.5,190.3 395.1,193.5" fill="#afe690" stroke="#b5d7a7"/><polygon points="327,137.5 334.7,143.3 329.3,148.5 321.6,143.9" fill="#f39f58" stroke="#dfab84"/><polygon points="146.9,238 154.7,235.4 149.4,232.2 141.6,234.8" fill="#66f0ba" stroke="#87ddc1"/><polygon points="99.9,238.3 107.7,235.9 102.4,232.6 94.6,235.1" fill="#64efbb" stroke="#86dcc2"/><polygon points="340.2,140 347.9,146.9 342.4,149.4 334.7,143.3" fill="#f3a25a" stroke="#dfad86"/><polygon points="543.9,229.7 551.1,229.3 545.2,225.2 538,225.1" fill="#79f3b0" stroke="#93dfbb"/><polygon points="525,219.5 532.2,220.7 526.4,216.4 519.2,214.8" fill="#8af2a7" stroke="#9edeb5"/><polygon points="455.4,186.6 462.7,188.4 456.9,188.1 449.5,186.6" fill="#bcde88" stroke="#bdd2a2"/><polygon points="421.4,191.7 428.9,188.3 423.1,187.8 415.7,190.4" fill="#b8e18a" stroke="#bad4a3"/><polygon points="180.7,235.3 188.4,231.5 183.1,229 175.4,232.4" fill="#6df1b6" stroke="#8cdebf"/><polygon points="113,239.1 120.8,236.7 115.5,233.4 107.7,235.9" fill="#64efbb" stroke="#86dcc2"/><polygon points="240.7,186.8 248.1,178.4 243,183.8 235.6,190.8" fill="#bedd86" stroke="#bed1a1"/><polygon points="393.2,205.3 400.7,199.5 395.1,193.5 387.6,197.1" fill="#a9e994" stroke="#b1d9aa"/><polygon points="472.7,361.8 480.2,354.5 474.6,345.4 467.1,351.9" fill="#6b24f2" stroke="#8b5fe4"/><polygon points="160,238.5 167.7,235.6 162.4,232.6 154.7,235.4" fill="#67f0ba" stroke="#88ddc1"/><polygon points="506.3,207.8 513.4,210.5 507.6,206.6 500.5,203.7" fill="#9ded9b" stroke="#aadbae"/><polygon points="471,371.9 478.4,367.1 472.7,361.8 465.2,366" fill="#7a0df3" stroke="#9450e5"/><polygon points="576,239.9 583.2,238 577.3,234.4 570,236.1" fill="#6af1b8" stroke="#8adec0"/><polygon points="387.6,197.1 395.1,193.5 389.4,185.9 381.9,187" fill="#b6e28b" stroke="#b9d4a4"/><polygon points="478.4,367.1 486,359.4 480.2,354.5 472.7,361.8" fill="#7417f3" stroke="#9056e5"/><polygon points="589.1,241.5 596.4,239.3 590.5,235.9 583.2,238" fill="#67f0ba" stroke="#88ddc1"/><polygon points="383.9,225 391.4,218.7 385.7,210.9 378.2,215.7" fill="#8bf2a6" stroke="#9edeb5"/><polygon points="465.2,366 472.7,361.8 467.1,351.9 459.7,355.1" fill="#711bf2" stroke="#8e59e4"/><polygon points="562.8,237.6 570,236.1 564.2,232.3 556.9,233.5" fill="#6ef1b6" stroke="#8cdebf"/><polygon points="391.4,218.7 398.9,211.3 393.2,205.3 385.7,210.9" fill="#95f0a0" stroke="#a5ddb1"/><polygon points="487.5,196.8 494.7,200.2 488.8,197.4 481.6,194.1" fill="#aee691" stroke="#b4d7a8"/><polygon points="126.1,239.9 133.8,237.4 128.5,234.2 120.8,236.7" fill="#65efbb" stroke="#87dcc2"/><polygon points="382.1,236.7 389.6,231.4 383.9,225 376.4,229.6" fill="#74f2b3" stroke="#90debd"/><polygon points="389.6,231.4 397.1,224 391.4,218.7 383.9,225" fill="#7ff3ad" stroke="#97dfb9"/><polygon points="602.4,242.8 609.6,240.4 603.7,237.1 596.4,239.3" fill="#65f0ba" stroke="#87ddc1"/><polygon points="278,151.4 285.6,148.2 280.5,158 273,161" fill="#f0b164" stroke="#ddb68c"/><polygon points="79,240 86.8,237.5 81.6,234.3 73.7,236.7" fill="#64efbb" stroke="#86dcc2"/><polygon points="385.7,210.9 393.2,205.3 387.6,197.1 380.1,200.6" fill="#a3eb98" stroke="#addaac"/><polygon points="359.1,150 366.7,156.6 361.1,153.9 353.5,146.9" fill="#f3ab60" stroke="#dfb289"/><polygon points="413.9,197 421.4,191.7 415.7,190.4 408.2,194.4" fill="#b4e38d" stroke="#b8d5a5"/><polygon points="398.9,211.3 406.4,203.7 400.7,199.5 393.2,205.3" fill="#a1ec99" stroke="#acdbad"/><polygon points="208.8,224 216.3,217.5 211,216.7 203.5,222.4" fill="#85f2a9" stroke="#9bdeb7"/><polygon points="376.4,229.6 383.9,225 378.2,215.7 370.7,219.2" fill="#84f2aa" stroke="#9adeb7"/><polygon points="248.1,178.4 255.5,170.2 250.4,177 243,183.8" fill="#ccd27d" stroke="#c7ca9b"/><polygon points="201.3,229.4 208.8,224 203.5,222.4 196,227.3" fill="#7cf3ae" stroke="#95dfba"/><polygon points="615.6,243.8 622.9,241.3 616.9,238 609.6,240.4" fill="#65f0bb" stroke="#87ddc2"/><polygon points="139.2,240.6 146.9,238 141.6,234.8 133.8,237.4" fill="#65f0bb" stroke="#87ddc2"/><polygon points="173.1,238.6 180.7,235.3 175.4,232.4 167.7,235.6" fill="#6af1b8" stroke="#8adec0"/><polygon points="406.4,203.7 413.9,197 408.2,194.4 400.7,199.5" fill="#ace792" stroke="#b3d7a8"/><polygon points="530.8,224.4 538,225.1 532.2,220.7 525,219.5" fill="#86f2a9" stroke="#9bdeb7"/><polygon points="381.9,187 389.4,185.9 383.7,177.3 376.2,176" fill="#c7d680" stroke="#c4cd9d"/><polygon points="549.7,234.2 556.9,233.5 551.1,229.3 543.9,229.7" fill="#76f2b2" stroke="#91debc"/><polygon points="92.1,240.8 99.9,238.3 94.6,235.1 86.8,237.5" fill="#64efbb" stroke="#86dcc2"/><polygon points="216.3,217.5 223.7,210.1 218.5,210.3 211,216.7" fill="#91f0a2" stroke="#a2ddb2"/><polygon points="480.2,354.5 487.9,344.7 482.2,336.2 474.6,345.4" fill="#5d39f1" stroke="#826ce3"/><polygon points="397.1,224 404.6,215.3 398.9,211.3 391.4,218.7" fill="#8ef1a4" stroke="#a0deb4"/><polygon points="306.2,137.5 313.9,140.1 308.6,148.5 300.9,146.9" fill="#f39a55" stroke="#dfa883"/><polygon points="193.7,234.1 201.3,229.4 196,227.3 188.4,231.5" fill="#75f2b2" stroke="#91debc"/><polygon points="387.7,241.5 395.2,235.8 389.6,231.4 382.1,236.7" fill="#6cf1b7" stroke="#8bdebf"/><polygon points="628.9,244.6 636.1,242.2 630.1,238.9 622.9,241.3" fill="#65efbb" stroke="#87dcc2"/><polygon points="378.2,215.7 385.7,210.9 380.1,200.6 372.5,203.4" fill="#9eed9b" stroke="#aadbae"/><polygon points="374.6,239.7 382.1,236.7 376.4,229.6 368.9,232.2" fill="#70f2b5" stroke="#8edebe"/><polygon points="270.5,156.3 278,151.4 273,161 265.4,165.3" fill="#ecb567" stroke="#dbb88e"/><polygon points="255.5,170.2 263,162.7 257.9,170.7 250.4,177" fill="#d9c774" stroke="#cfc496"/><polygon points="105.2,241.6 113,239.1 107.7,235.9 99.9,238.3" fill="#64efbb" stroke="#86dcc2"/><polygon points="152.3,241.2 160,238.5 154.7,235.4 146.9,238" fill="#66f0ba" stroke="#87ddc1"/><polygon points="434.7,188.2 442.1,186.5 436.3,186.8 428.9,188.3" fill="#c0dc85" stroke="#bfd1a0"/><polygon points="486,359.4 493.7,349.4 487.9,344.7 480.2,354.5" fill="#662cf2" stroke="#8763e4"/><polygon points="463.6,373.4 471,371.9 465.2,366 457.9,366.7" fill="#7a0cf3" stroke="#9450e5"/><polygon points="512.1,212.5 519.2,214.8 513.4,210.5 506.3,207.8" fill="#9aee9d" stroke="#a8dcaf"/><polygon points="395.2,235.8 402.8,227.7 397.1,224 389.6,231.4" fill="#79f3b0" stroke="#93dfbb"/><polygon points="263,162.7 270.5,156.3 265.4,165.3 257.9,170.7" fill="#e4bd6c" stroke="#d6bd91"/><polygon points="223.7,210.1 231.1,201.7 225.9,203 218.5,210.3" fill="#a0ec9a" stroke="#abdbad"/><polygon points="380.1,200.6 387.6,197.1 381.9,187 374.4,188" fill="#b7e18b" stroke="#bad4a4"/><polygon points="376.2,176 383.7,177.3 378.1,168.9 370.5,165.3" fill="#d9c874" stroke="#cfc496"/><polygon points="467.1,351.9 474.6,345.4 469.1,332.5 461.6,337.9" fill="#5743f1" stroke="#7e72e3"/><polygon points="118.3,242.4 126.1,239.9 120.8,236.7 113,239.1" fill="#65efbb" stroke="#87dcc2"/><polygon points="368.9,232.2 376.4,229.6 370.7,219.2 363.2,221.2" fill="#81f3ab" stroke="#98dfb8"/><polygon points="581.9,243.6 589.1,241.5 583.2,238 576,239.9" fill="#68f0b9" stroke="#89ddc1"/><polygon points="568.7,241.7 576,239.9 570,236.1 562.8,237.6" fill="#6cf1b7" stroke="#8bdebf"/><polygon points="380.2,244.5 387.7,241.5 382.1,236.7 374.6,239.7" fill="#66f0ba" stroke="#87ddc1"/><polygon points="186.1,238.1 193.7,234.1 188.4,231.5 180.7,235.3" fill="#6ff2b5" stroke="#8ddebe"/><polygon points="474.4,190.9 481.6,194.1 475.8,192.2 468.5,189.3" fill="#bbdf88" stroke="#bcd2a2"/><polygon points="364.8,156.2 372.4,161.7 366.7,156.6 359.1,150" fill="#f2ae62" stroke="#deb48b"/><polygon points="71.1,242.5 79,240 73.7,236.7 65.9,239.2" fill="#64efbb" stroke="#86dcc2"/><polygon points="595.1,245.1 602.4,242.8 596.4,239.3 589.1,241.5" fill="#66f0ba" stroke="#87ddc1"/><polygon points="165.4,241.6 173.1,238.6 167.7,235.6 160,238.5" fill="#68f0b9" stroke="#89ddc1"/><polygon points="457.9,366.7 465.2,366 459.7,355.1 452.3,354.7" fill="#701df2" stroke="#8e5ae4"/><polygon points="476.8,372.9 484.3,367.8 478.4,367.1 471,371.9" fill="#7a0df3" stroke="#9450e5"/><polygon points="536.7,229.5 543.9,229.7 538,225.1 530.8,224.4" fill="#81f3ac" stroke="#98dfb9"/><polygon points="404.6,215.3 412.1,206.4 406.4,203.7 398.9,211.3" fill="#9eed9b" stroke="#aadbae"/><polygon points="131.4,243.2 139.2,240.6 133.8,237.4 126.1,239.9" fill="#65f0bb" stroke="#87ddc2"/><polygon points="370.5,165.3 378.1,168.9 372.4,161.7 364.8,156.2" fill="#e8b969" stroke="#d8bb8f"/><polygon points="493.3,200.4 500.5,203.7 494.7,200.2 487.5,196.8" fill="#aee691" stroke="#b4d7a8"/><polygon points="484.3,367.8 491.9,360.1 486,359.4 478.4,367.1" fill="#7219f2" stroke="#8f58e4"/><polygon points="608.4,246.2 615.6,243.8 609.6,240.4 602.4,242.8" fill="#65f0bb" stroke="#87ddc2"/><polygon points="370.7,219.2 378.2,215.7 372.5,203.4 365,205.4" fill="#9bee9c" stroke="#a8dcaf"/><polygon points="555.5,238.8 562.8,237.6 556.9,233.5 549.7,234.2" fill="#72f2b4" stroke="#8fdebe"/><polygon points="84.2,243.3 92.1,240.8 86.8,237.5 79,240" fill="#64efbb" stroke="#86dcc2"/><polygon points="474.6,345.4 482.2,336.2 476.7,324.3 469.1,332.5" fill="#4b56ef" stroke="#777ee2"/><polygon points="459.7,355.1 467.1,351.9 461.6,337.9 454.2,339.9" fill="#5c3cf1" stroke="#816de3"/><polygon points="448,186.2 455.4,186.6 449.5,186.6 442.1,186.5" fill="#c5d882" stroke="#c2ce9e"/><polygon points="231.1,201.7 238.5,192.5 233.3,195.2 225.9,203" fill="#b0e58f" stroke="#b5d6a7"/><polygon points="621.6,247.1 628.9,244.6 622.9,241.3 615.6,243.8" fill="#65efbb" stroke="#87dcc2"/><polygon points="402.8,227.7 410.3,218.1 404.6,215.3 397.1,224" fill="#8bf2a6" stroke="#9edeb5"/><polygon points="144.5,243.9 152.3,241.2 146.9,238 139.2,240.6" fill="#65f0bb" stroke="#87ddc2"/><polygon points="427.2,192.2 434.7,188.2 428.9,188.3 421.4,191.7" fill="#bfdc85" stroke="#bfd1a0"/><polygon points="461.2,187.1 468.5,189.3 462.7,188.4 455.4,186.6" fill="#c3d983" stroke="#c1cf9f"/><polygon points="517.9,217.7 525,219.5 519.2,214.8 512.1,212.5" fill="#96efa0" stroke="#a5dcb1"/><polygon points="393.4,244.9 400.9,239.1 395.2,235.8 387.7,241.5" fill="#6af1b8" stroke="#8adec0"/><polygon points="97.3,244.1 105.2,241.6 99.9,238.3 92.1,240.8" fill="#64efbb" stroke="#86dcc2"/><polygon points="178.4,241.6 186.1,238.1 180.7,235.3 173.1,238.6" fill="#6bf1b7" stroke="#8bdebf"/><polygon points="412.1,206.4 419.7,198.4 413.9,197 406.4,203.7" fill="#ade791" stroke="#b3d7a8"/><polygon points="367,240.5 374.6,239.7 368.9,232.2 361.3,233.2" fill="#72f2b4" stroke="#8fdebe"/><polygon points="634.9,248 642.2,245.5 636.1,242.2 628.9,244.6" fill="#64efbb" stroke="#86dcc2"/><polygon points="487.9,344.7 495.6,333.3 489.9,325.2 482.2,336.2" fill="#4958ef" stroke="#757fe2"/><polygon points="206.7,231.9 214.2,225.9 208.8,224 201.3,229.4" fill="#80f3ac" stroke="#98dfb9"/><polygon points="469.4,375.1 476.8,372.9 471,371.9 463.6,373.4" fill="#7b0bf3" stroke="#944fe5"/><polygon points="110.4,244.9 118.3,242.4 113,239.1 105.2,241.6" fill="#64efbb" stroke="#86dcc2"/><polygon points="419.7,198.4 427.2,192.2 421.4,191.7 413.9,197" fill="#b9e08a" stroke="#bbd3a3"/><polygon points="542.5,234.7 549.7,234.2 543.9,229.7 536.7,229.5" fill="#7cf3ae" stroke="#95dfba"/><polygon points="157.6,244.4 165.4,241.6 160,238.5 152.3,241.2" fill="#66f0ba" stroke="#87ddc1"/><polygon points="372.5,203.4 380.1,200.6 374.4,188 366.8,188.6" fill="#b8e18a" stroke="#bad4a3"/><polygon points="400.9,239.1 408.5,230.6 402.8,227.7 395.2,235.8" fill="#79f3b0" stroke="#93dfbb"/><polygon points="214.2,225.9 221.7,218.8 216.3,217.5 208.8,224" fill="#8bf2a6" stroke="#9edeb5"/><polygon points="345.8,139.6 353.5,146.9 347.9,146.9 340.2,140" fill="#f39351" stroke="#dfa380"/><polygon points="199.1,236.9 206.7,231.9 201.3,229.4 193.7,234.1" fill="#77f2b1" stroke="#92debc"/><polygon points="374.4,188 381.9,187 376.2,176 368.6,174.4" fill="#ced17b" stroke="#c8ca9a"/><polygon points="385.9,247.6 393.4,244.9 387.7,241.5 380.2,244.5" fill="#64efbb" stroke="#86dcc2"/><polygon points="574.6,245.7 581.9,243.6 576,239.9 568.7,241.7" fill="#6af1b8" stroke="#8adec0"/><polygon points="587.8,247.3 595.1,245.1 589.1,241.5 581.9,243.6" fill="#67f0ba" stroke="#88ddc1"/><polygon points="493.7,349.4 501.4,337.9 495.6,333.3 487.9,344.7" fill="#514cf0" stroke="#7a77e3"/><polygon points="361.3,233.2 368.9,232.2 363.2,221.2 355.6,222.1" fill="#84f2aa" stroke="#9adeb7"/><polygon points="491.9,360.1 499.6,350.3 493.7,349.4 486,359.4" fill="#642ff2" stroke="#8665e4"/><polygon points="372.7,245 380.2,244.5 374.6,239.7 367,240.5" fill="#69f0b9" stroke="#89ddc1"/><polygon points="123.6,245.7 131.4,243.2 126.1,239.9 118.3,242.4" fill="#65efbb" stroke="#87dcc2"/><polygon points="561.4,243.3 568.7,241.7 562.8,237.6 555.5,238.8" fill="#6ff2b5" stroke="#8ddebe"/><polygon points="601.1,248.5 608.4,246.2 602.4,242.8 595.1,245.1" fill="#65f0ba" stroke="#87ddc1"/><polygon points="76.4,245.7 84.2,243.3 79,240 71.1,242.5" fill="#64efbb" stroke="#86dcc2"/><polygon points="499.1,204.8 506.3,207.8 500.5,203.7 493.3,200.4" fill="#ace792" stroke="#b3d7a8"/><polygon points="319.3,132.6 327,137.5 321.6,143.9 313.9,140.1" fill="#f3884b" stroke="#df9d7c"/><polygon points="238.5,192.5 245.8,182.7 240.7,186.8 233.3,195.2" fill="#c2da84" stroke="#c0cfa0"/><polygon points="523.7,223.2 530.8,224.4 525,219.5 517.9,217.7" fill="#90f1a3" stroke="#a1deb3"/><polygon points="363.2,221.2 370.7,219.2 365,205.4 357.4,206.4" fill="#9cee9c" stroke="#a9dcaf"/><polygon points="221.7,218.8 229.1,210.5 223.7,210.1 216.3,217.5" fill="#99ef9e" stroke="#a7dcb0"/><polygon points="170.7,244.8 178.4,241.6 173.1,238.6 165.4,241.6" fill="#69f0b9" stroke="#89ddc1"/><polygon points="191.5,241.2 199.1,236.9 193.7,234.1 186.1,238.1" fill="#71f2b5" stroke="#8edebe"/><polygon points="482.2,336.2 489.9,325.2 484.3,314.2 476.7,324.3" fill="#3772ec" stroke="#6a8fe0"/><polygon points="298.5,136.7 306.2,137.5 300.9,146.9 293.3,146.7" fill="#f38e4e" stroke="#dfa07e"/><polygon points="136.7,246.4 144.5,243.9 139.2,240.6 131.4,243.2" fill="#65f0bb" stroke="#87ddc2"/><polygon points="614.4,249.5 621.6,247.1 615.6,243.8 608.4,246.2" fill="#65f0bb" stroke="#87ddc2"/><polygon points="410.3,218.1 417.9,208.2 412.1,206.4 404.6,215.3" fill="#9fed9a" stroke="#abdbad"/><polygon points="480.2,193.5 487.5,196.8 481.6,194.1 474.4,190.9" fill="#bedd86" stroke="#bed1a1"/><polygon points="89.5,246.6 97.3,244.1 92.1,240.8 84.2,243.3" fill="#64efbb" stroke="#86dcc2"/><polygon points="456.2,371.7 463.6,373.4 457.9,366.7 450.6,364" fill="#7415f3" stroke="#9055e5"/><polygon points="548.3,239.8 555.5,238.8 549.7,234.2 542.5,234.7" fill="#78f2b1" stroke="#93debc"/><polygon points="627.7,250.4 634.9,248 628.9,244.6 621.6,247.1" fill="#65efbb" stroke="#87dcc2"/><polygon points="332.5,133.3 340.2,140 334.7,143.3 327,137.5" fill="#f38549" stroke="#df9b7b"/><polygon points="149.8,247.1 157.6,244.4 152.3,241.2 144.5,243.9" fill="#65f0ba" stroke="#87ddc1"/><polygon points="452.3,354.7 459.7,355.1 454.2,339.9 446.8,338.5" fill="#5743f1" stroke="#7e72e3"/><polygon points="102.6,247.4 110.4,244.9 105.2,241.6 97.3,244.1" fill="#64efbb" stroke="#86dcc2"/><polygon points="408.5,230.6 416,220.4 410.3,218.1 402.8,227.7" fill="#8df1a5" stroke="#a0deb4"/><polygon points="440.5,188 448,186.2 442.1,186.5 434.7,188.2" fill="#c9d57f" stroke="#c5cc9d"/><polygon points="399.1,247.5 406.7,241.9 400.9,239.1 393.4,244.9" fill="#6bf1b8" stroke="#8bdec0"/><polygon points="183.8,244.8 191.5,241.2 186.1,238.1 178.4,241.6" fill="#6cf1b7" stroke="#8bdebf"/><polygon points="529.4,229 536.7,229.5 530.8,224.4 523.7,223.2" fill="#8af2a6" stroke="#9edeb5"/><polygon points="461.6,337.9 469.1,332.5 463.6,317.2 456.1,321.4" fill="#3870ec" stroke="#6b8ee0"/><polygon points="641,251.3 648.2,248.8 642.2,245.5 634.9,248" fill="#64efbb" stroke="#86dcc2"/><polygon points="469.1,332.5 476.7,324.3 471.2,310.1 463.6,317.2" fill="#2e7eea" stroke="#6596df"/><polygon points="229.1,210.5 236.4,201 231.1,201.7 223.7,210.1" fill="#aae893" stroke="#b2d8a9"/><polygon points="115.7,248.2 123.6,245.7 118.3,242.4 110.4,244.9" fill="#64efbb" stroke="#86dcc2"/><polygon points="504.9,209.9 512.1,212.5 506.3,207.8 499.1,204.8" fill="#a8e994" stroke="#b0d9aa"/><polygon points="580.5,249.5 587.8,247.3 581.9,243.6 574.6,245.7" fill="#68f0b9" stroke="#89ddc1"/><polygon points="365,205.4 372.5,203.4 366.8,188.6 359.2,188.8" fill="#bbdf88" stroke="#bcd2a2"/><polygon points="163,247.7 170.7,244.8 165.4,241.6 157.6,244.4" fill="#67f0ba" stroke="#88ddc1"/><polygon points="567.3,247.6 574.6,245.7 568.7,241.7 561.4,243.3" fill="#6cf1b7" stroke="#8bdebf"/><polygon points="245.8,182.7 253.2,172.7 248.1,178.4 240.7,186.8" fill="#d4cc77" stroke="#ccc798"/><polygon points="359.4,240.3 367,240.5 361.3,233.2 353.8,233.4" fill="#78f2b1" stroke="#93debc"/><polygon points="368.6,174.4 376.2,176 370.5,165.3 362.9,161.4" fill="#e6bb6a" stroke="#d7bc90"/><polygon points="450.6,364 457.9,366.7 452.3,354.7 445,351.1" fill="#662cf2" stroke="#8763e4"/><polygon points="378.4,247.6 385.9,247.6 380.2,244.5 372.7,245" fill="#67f0ba" stroke="#88ddc1"/><polygon points="593.8,250.9 601.1,248.5 595.1,245.1 587.8,247.3" fill="#66f0ba" stroke="#87ddc1"/><polygon points="406.7,241.9 414.2,233.3 408.5,230.6 400.9,239.1" fill="#7af3b0" stroke="#94dfbb"/><polygon points="212.1,234.9 219.6,228.6 214.2,225.9 206.7,231.9" fill="#82f3ab" stroke="#99dfb8"/><polygon points="204.5,240.2 212.1,234.9 206.7,231.9 199.1,236.9" fill="#78f2b1" stroke="#93debc"/><polygon points="417.9,208.2 425.4,199.3 419.7,198.4 412.1,206.4" fill="#b2e48e" stroke="#b7d6a6"/><polygon points="391.6,249.9 399.1,247.5 393.4,244.9 385.9,247.6" fill="#65f0bb" stroke="#87ddc2"/><polygon points="467.1,188.6 474.4,190.9 468.5,189.3 461.2,187.1" fill="#c9d57f" stroke="#c5cc9d"/><polygon points="128.9,249 136.7,246.4 131.4,243.2 123.6,245.7" fill="#65efbb" stroke="#87dcc2"/><polygon points="284.2,300.9 291.7,295.8 286,288.4 278.5,293.3" fill="#0eb4df" stroke="#51b8d8"/><polygon points="607.1,252 614.4,249.5 608.4,246.2 601.1,248.5" fill="#65f0bb" stroke="#87ddc2"/><polygon points="495.6,333.3 503.4,321.1 497.7,313.5 489.9,325.2" fill="#307ceb" stroke="#6695e0"/><polygon points="291.7,295.8 299.2,288.5 293.5,281.4 286,288.4" fill="#19c0db" stroke="#58bfd6"/><polygon points="462.1,374.2 469.4,375.1 463.6,373.4 456.2,371.7" fill="#7712f3" stroke="#9253e5"/><polygon points="81.6,249 89.5,246.6 84.2,243.3 76.4,245.7" fill="#64efbb" stroke="#86dcc2"/><polygon points="554.1,244.8 561.4,243.3 555.5,238.8 548.3,239.8" fill="#73f2b3" stroke="#90debd"/><polygon points="499.6,350.3 507.3,339.3 501.4,337.9 493.7,349.4" fill="#504ef0" stroke="#7a79e3"/><polygon points="219.6,228.6 227.1,220.9 221.7,218.8 214.2,225.9" fill="#8ff1a4" stroke="#a1deb4"/><polygon points="453.8,186.6 461.2,187.1 455.4,186.6 448,186.2" fill="#cdd27c" stroke="#c7ca9b"/><polygon points="535.2,234.8 542.5,234.7 536.7,229.5 529.4,229" fill="#84f2aa" stroke="#9adeb7"/><polygon points="278.5,293.3 286,288.4 280.3,279.3 272.7,284.4" fill="#1dc4da" stroke="#5ac2d5"/><polygon points="353.8,233.4 361.3,233.2 355.6,222.1 348,222.6" fill="#89f2a7" stroke="#9ddeb5"/><polygon points="176.1,248.1 183.8,244.8 178.4,241.6 170.7,244.8" fill="#69f0b9" stroke="#89ddc1"/><polygon points="351.5,143.1 359.1,150 353.5,146.9 345.8,139.6" fill="#f38d4e" stroke="#dfa07e"/><polygon points="355.6,222.1 363.2,221.2 357.4,206.4 349.8,207" fill="#a0ec99" stroke="#abdbad"/><polygon points="196.9,244.6 204.5,240.2 199.1,236.9 191.5,241.2" fill="#71f2b4" stroke="#8edebe"/><polygon points="286,288.4 293.5,281.4 287.8,272.3 280.3,279.3" fill="#28ced6" stroke="#61c8d3"/><polygon points="433,192.4 440.5,188 434.7,188.2 427.2,192.2" fill="#c8d680" stroke="#c4cd9d"/><polygon points="482.9,370 490.4,364.8 484.3,367.8 476.8,372.9" fill="#711bf2" stroke="#8e59e4"/><polygon points="289.8,307 297.3,301.6 291.7,295.8 284.2,300.9" fill="#0ca9e2" stroke="#50b1da"/><polygon points="620.4,252.9 627.7,250.4 621.6,247.1 614.4,249.5" fill="#65efbb" stroke="#87dcc2"/><polygon points="142,249.7 149.8,247.1 144.5,243.9 136.7,246.4" fill="#65f0bb" stroke="#87ddc2"/><polygon points="366.8,188.6 374.4,188 368.6,174.4 361.1,172.7" fill="#d6ca76" stroke="#cdc597"/><polygon points="454.2,339.9 461.6,337.9 456.1,321.4 448.7,322.2" fill="#3a6eed" stroke="#6c8ce1"/><polygon points="365.1,244.2 372.7,245 367,240.5 359.4,240.3" fill="#70f2b5" stroke="#8edebe"/><polygon points="94.7,249.9 102.6,247.4 97.3,244.1 89.5,246.6" fill="#64efbb" stroke="#86dcc2"/><polygon points="486,197.2 493.3,200.4 487.5,196.8 480.2,193.5" fill="#bedd86" stroke="#bed1a1"/><polygon points="425.4,199.3 433,192.4 427.2,192.2 419.7,198.4" fill="#c0dc85" stroke="#bfd1a0"/><polygon points="490.4,364.8 498,357.4 491.9,360.1 484.3,367.8" fill="#6829f2" stroke="#8962e4"/><polygon points="510.7,215.6 517.9,217.7 512.1,212.5 504.9,209.9" fill="#a3eb98" stroke="#addaac"/><polygon points="297.3,301.6 304.8,293.7 299.2,288.5 291.7,295.8" fill="#0fb6de" stroke="#52b9d8"/><polygon points="501.4,337.9 509.2,325.8 503.4,321.1 495.6,333.3" fill="#3871ec" stroke="#6b8ee0"/><polygon points="476.7,324.3 484.3,314.2 478.8,301 471.2,310.1" fill="#1c96e6" stroke="#5aa5dc"/><polygon points="489.9,325.2 497.7,313.5 492.1,303.1 484.3,314.2" fill="#1e93e7" stroke="#5ba3dd"/><polygon points="290.8,137.9 298.5,136.7 293.3,146.7 285.6,148.2" fill="#f3884a" stroke="#df9d7c"/><polygon points="633.7,253.8 641,251.3 634.9,248 627.7,250.4" fill="#64efbb" stroke="#86dcc2"/><polygon points="276.5,303.6 284.2,300.9 278.5,293.3 270.8,296.1" fill="#0ab0e0" stroke="#4eb5d9"/><polygon points="416,220.4 423.6,209.8 417.9,208.2 410.3,218.1" fill="#a3eb98" stroke="#addaac"/><polygon points="155.2,250.4 163,247.7 157.6,244.4 149.8,247.1" fill="#66f0ba" stroke="#87ddc1"/><polygon points="107.9,250.7 115.7,248.2 110.4,244.9 102.6,247.4" fill="#64efbb" stroke="#86dcc2"/><polygon points="236.4,201 243.7,190.4 238.5,192.5 231.1,201.7" fill="#bedd87" stroke="#bed1a2"/><polygon points="253.2,172.7 260.6,163 255.5,170.2 248.1,178.4" fill="#e6bb6b" stroke="#d7bc90"/><polygon points="299.2,288.5 306.6,279.4 301,272.8 293.5,281.4" fill="#2acfd5" stroke="#62c9d2"/><polygon points="270.8,296.1 278.5,293.3 272.7,284.4 265.1,287.6" fill="#18bfdb" stroke="#57bfd6"/><polygon points="362.9,161.4 370.5,165.3 364.8,156.2 357.2,150.5" fill="#f3a45c" stroke="#dfae87"/><polygon points="272.7,284.4 280.3,279.3 274.5,268.9 266.9,274.5" fill="#31d5d2" stroke="#67ccd0"/><polygon points="227.1,220.9 234.4,211.9 229.1,210.5 221.7,218.8" fill="#9fed9a" stroke="#abdbad"/><polygon points="189.2,248.3 196.9,244.6 191.5,241.2 183.8,244.8" fill="#6cf1b7" stroke="#8bdebf"/><polygon points="541,240.6 548.3,239.8 542.5,234.7 535.2,234.8" fill="#7df3ae" stroke="#96dfba"/><polygon points="293.5,281.4 301,272.8 295.2,263.8 287.8,272.3" fill="#39dbcf" stroke="#6cd0ce"/><polygon points="573.2,251.7 580.5,249.5 574.6,245.7 567.3,247.6" fill="#6af1b8" stroke="#8adec0"/><polygon points="282.2,309.8 289.8,307 284.2,300.9 276.5,303.6" fill="#10a4e3" stroke="#52aedb"/><polygon points="647,254.6 654.3,252.1 648.2,248.8 641,251.3" fill="#64efbb" stroke="#86dcc2"/><polygon points="586.5,253.3 593.8,250.9 587.8,247.3 580.5,249.5" fill="#67f0ba" stroke="#88ddc1"/><polygon points="280.3,279.3 287.8,272.3 282,261.5 274.5,268.9" fill="#3dddcd" stroke="#6ed1cd"/><polygon points="414.2,233.3 421.8,222.8 416,220.4 408.5,230.6" fill="#8ff1a4" stroke="#a1deb4"/><polygon points="475.4,372.5 482.9,370 476.8,372.9 469.4,375.1" fill="#7318f2" stroke="#9057e4"/><polygon points="404.9,249.9 412.4,244.6 406.7,241.9 399.1,247.5" fill="#6df1b6" stroke="#8cdebf"/><polygon points="357.2,150.5 364.8,156.2 359.1,150 351.5,143.1" fill="#f39451" stroke="#dfa480"/><polygon points="121.1,251.5 128.9,249 123.6,245.7 115.7,248.2" fill="#64efbb" stroke="#86dcc2"/><polygon points="560,249.5 567.3,247.6 561.4,243.3 554.1,244.8" fill="#6ff2b6" stroke="#8ddebf"/><polygon points="516.4,221.8 523.7,223.2 517.9,217.7 510.7,215.6" fill="#9cee9c" stroke="#a9dcaf"/><polygon points="168.4,251 176.1,248.1 170.7,244.8 163,247.7" fill="#67f0ba" stroke="#88ddc1"/><polygon points="295.4,311.5 302.9,305.6 297.3,301.6 289.8,307" fill="#11a3e4" stroke="#53addb"/><polygon points="599.8,254.4 607.1,252 601.1,248.5 593.8,250.9" fill="#65f0bb" stroke="#87ddc2"/><polygon points="210,244 217.6,238.7 212.1,234.9 204.5,240.2" fill="#78f2b1" stroke="#93debc"/><polygon points="217.6,238.7 225.1,232.2 219.6,228.6 212.1,234.9" fill="#82f3ab" stroke="#99dfb8"/><polygon points="265.1,287.6 272.7,284.4 266.9,274.5 259.3,278.4" fill="#2ad0d5" stroke="#62c9d2"/><polygon points="357.4,206.4 365,205.4 359.2,188.8 351.6,188.7" fill="#bfdc85" stroke="#bfd1a0"/><polygon points="498,357.4 505.7,348.3 499.6,350.3 491.9,360.1" fill="#5a3ff1" stroke="#806fe3"/><polygon points="304.8,293.7 312.3,283.9 306.6,279.4 299.2,288.5" fill="#22c8d8" stroke="#5dc4d4"/><polygon points="134.2,252.3 142,249.7 136.7,246.4 128.9,249" fill="#65efbb" stroke="#87dcc2"/><polygon points="412.4,244.6 420,236.2 414.2,233.3 406.7,241.9" fill="#7bf3af" stroke="#94dfba"/><polygon points="613.1,255.4 620.4,252.9 614.4,249.5 607.1,252" fill="#65f0bb" stroke="#87ddc2"/><polygon points="384.1,249.3 391.6,249.9 385.9,247.6 378.4,247.6" fill="#6af1b8" stroke="#8adec0"/><polygon points="86.9,252.4 94.7,249.9 89.5,246.6 81.6,249" fill="#64efbb" stroke="#86dcc2"/><polygon points="302.9,305.6 310.4,297 304.8,293.7 297.3,301.6" fill="#0cb2e0" stroke="#50b7d9"/><polygon points="491.9,201.8 499.1,204.8 493.3,200.4 486,197.2" fill="#bcde88" stroke="#bdd2a2"/><polygon points="202.4,248.4 210,244 204.5,240.2 196.9,244.6" fill="#70f2b5" stroke="#8edebe"/><polygon points="546.8,246.3 554.1,244.8 548.3,239.8 541,240.6" fill="#77f2b1" stroke="#92debc"/><polygon points="260.6,163 268,154.3 263,162.7 255.5,170.2" fill="#f3aa5f" stroke="#dfb289"/><polygon points="181.5,251.5 189.2,248.3 183.8,244.8 176.1,248.1" fill="#69f0b9" stroke="#89ddc1"/><polygon points="287.8,272.3 295.2,263.8 289.4,252.7 282,261.5" fill="#4fe7c6" stroke="#79d7c9"/><polygon points="351.8,240.1 359.4,240.3 353.8,233.4 346.1,233.8" fill="#7ff3ad" stroke="#97dfb9"/><polygon points="225.1,232.2 232.5,224.3 227.1,220.9 219.6,228.6" fill="#90f1a3" stroke="#a1deb3"/><polygon points="522.2,228.3 529.4,229 523.7,223.2 516.4,221.8" fill="#94f0a0" stroke="#a4ddb1"/><polygon points="287.8,314.7 295.4,311.5 289.8,307 282.2,309.8" fill="#179ce5" stroke="#56a9dc"/><polygon points="311.5,129.1 319.3,132.6 313.9,140.1 306.2,137.5" fill="#f3733f" stroke="#df9075"/><polygon points="283.1,141.4 290.8,137.9 285.6,148.2 278,151.4" fill="#f3884a" stroke="#df9d7c"/><polygon points="397.3,251.7 404.9,249.9 399.1,247.5 391.6,249.9" fill="#69f0b9" stroke="#89ddc1"/><polygon points="626.4,256.2 633.7,253.8 627.7,250.4 620.4,252.9" fill="#64efbb" stroke="#86dcc2"/><polygon points="266.9,274.5 274.5,268.9 268.7,257.7 261.1,264.2" fill="#48e4c9" stroke="#75d6cb"/><polygon points="472.9,191.1 480.2,193.5 474.4,190.9 467.1,188.6" fill="#ccd37d" stroke="#c7cb9b"/><polygon points="147.4,253 155.2,250.4 149.8,247.1 142,249.7" fill="#65f0bb" stroke="#87ddc2"/><polygon points="446.4,188.4 453.8,186.6 448,186.2 440.5,188" fill="#d2ce79" stroke="#cac899"/><polygon points="100,253.2 107.9,250.7 102.6,247.4 94.7,249.9" fill="#64efbb" stroke="#86dcc2"/><polygon points="370.8,246.2 378.4,247.6 372.7,245 365.1,244.2" fill="#71f2b5" stroke="#8edebe"/><polygon points="301,272.8 308.4,263.2 302.7,254.5 295.2,263.8" fill="#4ee7c6" stroke="#79d7c9"/><polygon points="348,222.6 355.6,222.1 349.8,207 342.2,207.7" fill="#a5ea96" stroke="#aed9ab"/><polygon points="306.6,279.4 314.1,269.3 308.4,263.2 301,272.8" fill="#40dfcc" stroke="#70d2cc"/><polygon points="484.3,314.2 492.1,303.1 486.5,290.9 478.8,301" fill="#0ab1e0" stroke="#4eb6d9"/><polygon points="346.1,233.8 353.8,233.4 348,222.6 340.4,223.6" fill="#8ff1a4" stroke="#a1deb4"/><polygon points="423.6,209.8 431.2,200.3 425.4,199.3 417.9,208.2" fill="#b7e18b" stroke="#bad4a4"/><polygon points="234.4,211.9 241.8,201.4 236.4,201 229.1,210.5" fill="#b2e48e" stroke="#b7d6a6"/><polygon points="259.3,278.4 266.9,274.5 261.1,264.2 253.5,268.9" fill="#3fdfcc" stroke="#6fd2cc"/><polygon points="268.8,304.3 276.5,303.6 270.8,296.1 263.1,297.1" fill="#0cb2e0" stroke="#50b7d9"/><polygon points="507.3,339.3 515.1,327.8 509.2,325.8 501.4,337.9" fill="#3772ec" stroke="#6a8fe0"/><polygon points="263.1,297.1 270.8,296.1 265.1,287.6 257.4,289.2" fill="#19c0db" stroke="#58bfd6"/><polygon points="639.8,257.1 647,254.6 641,251.3 633.7,253.8" fill="#64efbb" stroke="#86dcc2"/><polygon points="503.4,321.1 511.1,309.2 505.4,301.8 497.7,313.5" fill="#14a0e4" stroke="#55abdb"/><polygon points="274.5,268.9 282,261.5 276.1,249.6 268.7,257.7" fill="#56ebc2" stroke="#7edac6"/><polygon points="463.6,317.2 471.2,310.1 465.7,295.1 458.1,301.1" fill="#0baae2" stroke="#4fb2da"/><polygon points="445,351.1 452.3,354.7 446.8,338.5 439.4,333.9" fill="#4a57ef" stroke="#767ee2"/><polygon points="579.2,255.7 586.5,253.3 580.5,249.5 573.2,251.7" fill="#67f0b9" stroke="#88ddc1"/><polygon points="565.9,254.1 573.2,251.7 567.3,247.6 560,249.5" fill="#6bf1b8" stroke="#8bdec0"/><polygon points="527.9,235 535.2,234.8 529.4,229 522.2,228.3" fill="#8cf2a5" stroke="#9fdeb4"/><polygon points="160.6,253.7 168.4,251 163,247.7 155.2,250.4" fill="#66f0ba" stroke="#87ddc1"/><polygon points="243.7,190.4 251.1,179.2 245.8,182.7 238.5,192.5" fill="#d3cd78" stroke="#cbc798"/><polygon points="268,154.3 275.6,146.9 270.5,156.3 263,162.7" fill="#f39a55" stroke="#dfa883"/><polygon points="113.2,254 121.1,251.5 115.7,248.2 107.9,250.7" fill="#64efbb" stroke="#86dcc2"/><polygon points="194.7,252 202.4,248.4 196.9,244.6 189.2,248.3" fill="#6bf1b7" stroke="#8bdebf"/><polygon points="275.6,146.9 283.1,141.4 278,151.4 270.5,156.3" fill="#f38e4e" stroke="#dfa07e"/><polygon points="448.9,367.2 456.2,371.7 450.6,364 443.2,358.6" fill="#672bf2" stroke="#8863e4"/><polygon points="592.5,256.9 599.8,254.4 593.8,250.9 586.5,253.3" fill="#65f0ba" stroke="#87ddc1"/><polygon points="459.7,187.9 467.1,188.6 461.2,187.1 453.8,186.6" fill="#d3cd78" stroke="#cbc798"/><polygon points="274.4,310.5 282.2,309.8 276.5,303.6 268.8,304.3" fill="#0ea7e3" stroke="#51b0db"/><polygon points="257.4,289.2 265.1,287.6 259.3,278.4 251.6,280.8" fill="#2acfd5" stroke="#62c9d2"/><polygon points="456.1,321.4 463.6,317.2 458.1,301.1 450.6,304.2" fill="#13a1e4" stroke="#54acdb"/><polygon points="223.1,243.5 230.7,237.1 225.1,232.2 217.6,238.7" fill="#7ff3ad" stroke="#97dfb9"/><polygon points="338.1,132.6 345.8,139.6 340.2,140 332.5,133.3" fill="#f3723f" stroke="#df8f75"/><polygon points="653.1,257.9 660.4,255.4 654.3,252.1 647,254.6" fill="#64efbb" stroke="#86dcc2"/><polygon points="215.5,248.6 223.1,243.5 217.6,238.7 210,244" fill="#75f2b2" stroke="#91debc"/><polygon points="497.7,313.5 505.4,301.8 499.8,292.2 492.1,303.1" fill="#0cb2df" stroke="#50b7d8"/><polygon points="552.7,251.6 560,249.5 554.1,244.8 546.8,246.3" fill="#71f2b4" stroke="#8edebe"/><polygon points="359.2,188.8 366.8,188.6 361.1,172.7 353.4,171" fill="#dec370" stroke="#d2c193"/><polygon points="446.8,338.5 454.2,339.9 448.7,322.2 441.3,319.6" fill="#3279eb" stroke="#6793e0"/><polygon points="497.6,207.4 504.9,209.9 499.1,204.8 491.9,201.8" fill="#b7e18b" stroke="#bad4a4"/><polygon points="357.5,243.4 365.1,244.2 359.4,240.3 351.8,240.1" fill="#7af3b0" stroke="#94dfbb"/><polygon points="126.4,254.8 134.2,252.3 128.9,249 121.1,251.5" fill="#65efbb" stroke="#87dcc2"/><polygon points="421.8,222.8 429.4,211.9 423.6,209.8 416,220.4" fill="#a6ea96" stroke="#afd9ab"/><polygon points="232.5,224.3 239.9,214.8 234.4,211.9 227.1,220.9" fill="#a1ec99" stroke="#acdbad"/><polygon points="361.1,172.7 368.6,174.4 362.9,161.4 355.3,157.5" fill="#f3ac61" stroke="#dfb38a"/><polygon points="605.8,257.9 613.1,255.4 607.1,252 599.8,254.4" fill="#65f0bb" stroke="#87ddc2"/><polygon points="173.8,254.4 181.5,251.5 176.1,248.1 168.4,251" fill="#67f0ba" stroke="#88ddc1"/><polygon points="509.2,325.8 517,314 511.1,309.2 503.4,321.1" fill="#1c96e6" stroke="#5aa5dc"/><polygon points="420,236.2 427.6,225.7 421.8,222.8 414.2,233.3" fill="#90f1a3" stroke="#a1deb3"/><polygon points="301,314.3 308.5,307.8 302.9,305.6 295.4,311.5" fill="#11a3e4" stroke="#53addb"/><polygon points="533.7,241.6 541,240.6 535.2,234.8 527.9,235" fill="#83f2aa" stroke="#99deb7"/><polygon points="310.4,297 317.9,286.3 312.3,283.9 304.8,293.7" fill="#21c7d9" stroke="#5dc4d4"/><polygon points="438.8,193 446.4,188.4 440.5,188 433,192.4" fill="#d0d07a" stroke="#c9c99a"/><polygon points="471.2,310.1 478.8,301 473.3,287 465.7,295.1" fill="#14bbdd" stroke="#55bcd7"/><polygon points="431.2,200.3 438.8,193 433,192.4 425.4,199.3" fill="#c7d780" stroke="#c4ce9d"/><polygon points="253.5,268.9 261.1,264.2 255.3,253.9 247.8,259.6" fill="#54eac3" stroke="#7cd9c7"/><polygon points="295.2,263.8 302.7,254.5 296.9,243.1 289.4,252.7" fill="#64efbb" stroke="#86dcc2"/><polygon points="468,372.5 475.4,372.5 469.4,375.1 462.1,374.2" fill="#6f1df2" stroke="#8d5ae4"/><polygon points="251.6,280.8 259.3,278.4 253.5,268.9 245.9,272.2" fill="#3cdcce" stroke="#6dd1ce"/><polygon points="312.3,283.9 319.7,273 314.1,269.3 306.6,279.4" fill="#3adbcf" stroke="#6cd0ce"/><polygon points="410.6,252 418.1,247.3 412.4,244.6 404.9,249.9" fill="#70f2b5" stroke="#8edebe"/><polygon points="207.9,252.7 215.5,248.6 210,244 202.4,248.4" fill="#6ef1b6" stroke="#8cdebf"/><polygon points="261.1,264.2 268.7,257.7 262.8,246.5 255.3,253.9" fill="#60eebd" stroke="#84dcc3"/><polygon points="505.7,348.3 513.4,338.1 507.3,339.3 499.6,350.3" fill="#465def" stroke="#7482e2"/><polygon points="230.7,237.1 238.1,229.2 232.5,224.3 225.1,232.2" fill="#8df1a5" stroke="#a0deb4"/><polygon points="139.6,255.6 147.4,253 142,249.7 134.2,252.3" fill="#65f0bb" stroke="#87ddc2"/><polygon points="619.1,258.7 626.4,256.2 620.4,252.9 613.1,255.4" fill="#65efbb" stroke="#87dcc2"/><polygon points="282,261.5 289.4,252.7 283.6,240.1 276.1,249.6" fill="#6af1b8" stroke="#8adec0"/><polygon points="324.7,127.5 332.5,133.3 327,137.5 319.3,132.6" fill="#f36839" stroke="#df8971"/><polygon points="92.2,255.7 100,253.2 94.7,249.9 86.9,252.4" fill="#64efbb" stroke="#86dcc2"/><polygon points="293.3,317.9 301,314.3 295.4,311.5 287.8,314.7" fill="#189be5" stroke="#57a8dc"/><polygon points="454.7,370.8 462.1,374.2 456.2,371.7 448.9,367.2" fill="#6c23f2" stroke="#8b5ee4"/><polygon points="418.1,247.3 425.7,239.3 420,236.2 412.4,244.6" fill="#7df3ae" stroke="#96dfba"/><polygon points="187,255.2 194.7,252 189.2,248.3 181.5,251.5" fill="#68f0b9" stroke="#89ddc1"/><polygon points="280,315.4 287.8,314.7 282.2,309.8 274.4,310.5" fill="#159fe4" stroke="#55abdb"/><polygon points="308.4,263.2 315.9,253.9 310.1,245.2 302.7,254.5" fill="#65f0bb" stroke="#87ddc2"/><polygon points="349.8,207 357.4,206.4 351.6,188.7 344,188.7" fill="#c5d882" stroke="#c2ce9e"/><polygon points="228.8,249.3 236.3,243.4 230.7,237.1 223.1,243.5" fill="#78f3b0" stroke="#93dfbb"/><polygon points="539.5,248 546.8,246.3 541,240.6 533.7,241.6" fill="#7bf3af" stroke="#94dfba"/><polygon points="503.4,213.7 510.7,215.6 504.9,209.9 497.6,207.4" fill="#b0e58f" stroke="#b5d6a7"/><polygon points="245.9,272.2 253.5,268.9 247.8,259.6 240.1,263.9" fill="#4ee7c6" stroke="#79d7c9"/><polygon points="632.5,259.6 639.8,257.1 633.7,253.8 626.4,256.2" fill="#64efbb" stroke="#86dcc2"/><polygon points="308.5,307.8 316,298.5 310.4,297 302.9,305.6" fill="#0eb4df" stroke="#51b8d8"/><polygon points="152.8,256.4 160.6,253.7 155.2,250.4 147.4,253" fill="#65f0bb" stroke="#87ddc2"/><polygon points="314.1,269.3 321.6,259.5 315.9,253.9 308.4,263.2" fill="#58ebc1" stroke="#7fdac6"/><polygon points="221.1,253.9 228.8,249.3 223.1,243.5 215.5,248.6" fill="#6ff2b6" stroke="#8ddebf"/><polygon points="478.7,194.8 486,197.2 480.2,193.5 472.9,191.1" fill="#ccd27d" stroke="#c7ca9b"/><polygon points="105.3,256.5 113.2,254 107.9,250.7 100,253.2" fill="#64efbb" stroke="#86dcc2"/><polygon points="571.8,258.3 579.2,255.7 573.2,251.7 565.9,254.1" fill="#68f0b9" stroke="#89ddc1"/><polygon points="247.8,259.6 255.3,253.9 249.5,244.3 242,251" fill="#69f1b9" stroke="#89dec1"/><polygon points="443.2,358.6 450.6,364 445,351.1 437.6,344.9" fill="#5447f0" stroke="#7c74e3"/><polygon points="344.2,241.4 351.8,240.1 346.1,233.8 338.5,235.6" fill="#84f2aa" stroke="#9adeb7"/><polygon points="558.5,256.6 565.9,254.1 560,249.5 552.7,251.6" fill="#6cf1b7" stroke="#8bdebf"/><polygon points="268.7,257.7 276.1,249.6 270.2,237.4 262.8,246.5" fill="#72f2b4" stroke="#8fdebe"/><polygon points="338.5,235.6 346.1,233.8 340.4,223.6 332.8,226" fill="#92f0a2" stroke="#a3ddb2"/><polygon points="200.2,256.1 207.9,252.7 202.4,248.4 194.7,252" fill="#69f0b9" stroke="#89ddc1"/><polygon points="585.1,259.5 592.5,256.9 586.5,253.3 579.2,255.7" fill="#66f0ba" stroke="#87ddc1"/><polygon points="240.1,263.9 247.8,259.6 242,251 234.4,256.2" fill="#5feebe" stroke="#83dcc4"/><polygon points="236.3,243.4 243.8,236 238.1,229.2 230.7,237.1" fill="#86f2a9" stroke="#9bdeb7"/><polygon points="234.4,256.2 242,251 236.3,243.4 228.8,249.3" fill="#6ef1b6" stroke="#8cdebf"/><polygon points="389.8,250.5 397.3,251.7 391.6,249.9 384.1,249.3" fill="#6ff2b5" stroke="#8ddebe"/><polygon points="241.8,201.4 249.1,189.8 243.7,190.4 236.4,201" fill="#c8d67f" stroke="#c4cd9d"/><polygon points="645.8,260.4 653.1,257.9 647,254.6 639.8,257.1" fill="#64efbb" stroke="#86dcc2"/><polygon points="492.1,303.1 499.8,292.2 494.2,280.9 486.5,290.9" fill="#23cad8" stroke="#5ec5d4"/><polygon points="340.4,223.6 348,222.6 342.2,207.7 334.6,209.2" fill="#a9e893" stroke="#b1d8a9"/><polygon points="166,257.2 173.8,254.4 168.4,251 160.6,253.7" fill="#65f0ba" stroke="#87ddc1"/><polygon points="242,251 249.5,244.3 243.8,236 236.3,243.4" fill="#7af3b0" stroke="#94dfbb"/><polygon points="509.2,220.6 516.4,221.8 510.7,215.6 503.4,213.7" fill="#a8e994" stroke="#b0d9aa"/><polygon points="118.5,257.3 126.4,254.8 121.1,251.5 113.2,254" fill="#64efbb" stroke="#86dcc2"/><polygon points="403.1,253.1 410.6,252 404.9,249.9 397.3,251.7" fill="#6df1b6" stroke="#8cdebf"/><polygon points="598.5,260.4 605.8,257.9 599.8,254.4 592.5,256.9" fill="#65f0bb" stroke="#87ddc2"/><polygon points="255.3,253.9 262.8,246.5 257,236 249.5,244.3" fill="#78f2b1" stroke="#93debc"/><polygon points="251.1,179.2 258.4,167.8 253.2,172.7 245.8,182.7" fill="#e9b869" stroke="#d9ba8f"/><polygon points="448.7,322.2 456.1,321.4 450.6,304.2 443.2,303.9" fill="#11a4e3" stroke="#53aedb"/><polygon points="213.4,257.7 221.1,253.9 215.5,248.6 207.9,252.7" fill="#69f0b9" stroke="#89ddc1"/><polygon points="238.1,229.2 245.5,219.8 239.9,214.8 232.5,224.3" fill="#9fed9a" stroke="#abdbad"/><polygon points="545.3,254.1 552.7,251.6 546.8,246.3 539.5,248" fill="#73f2b4" stroke="#90debe"/><polygon points="226.8,260.1 234.4,256.2 228.8,249.3 221.1,253.9" fill="#65f0ba" stroke="#87ddc1"/><polygon points="255.3,296.9 263.1,297.1 257.4,289.2 249.6,289.6" fill="#1fc6d9" stroke="#5bc3d4"/><polygon points="478.8,301 486.5,290.9 481,277.8 473.3,287" fill="#29ced5" stroke="#62c8d2"/><polygon points="376.5,247.1 384.1,249.3 378.4,247.6 370.8,246.2" fill="#75f2b2" stroke="#91debc"/><polygon points="659.2,261.2 666.5,258.7 660.4,255.4 653.1,257.9" fill="#64efbb" stroke="#86dcc2"/><polygon points="249.6,289.6 257.4,289.2 251.6,280.8 243.9,282" fill="#2dd2d4" stroke="#64cad1"/><polygon points="239.9,214.8 247.2,203.9 241.8,201.4 234.4,211.9" fill="#b6e28b" stroke="#b9d4a4"/><polygon points="514.9,227.9 522.2,228.3 516.4,221.8 509.2,220.6" fill="#9eed9b" stroke="#aadbae"/><polygon points="511.1,309.2 518.9,298.2 513.2,291.1 505.4,301.8" fill="#16bddc" stroke="#56bdd6"/><polygon points="302.7,254.5 310.1,245.2 304.3,233.5 296.9,243.1" fill="#7bf3af" stroke="#94dfba"/><polygon points="260.9,303.6 268.8,304.3 263.1,297.1 255.3,296.9" fill="#13badd" stroke="#54bcd7"/><polygon points="429.4,211.9 437,202.1 431.2,200.3 423.6,209.8" fill="#bbdf88" stroke="#bcd2a2"/><polygon points="243.9,282 251.6,280.8 245.9,272.2 238.1,274.4" fill="#3cddce" stroke="#6dd1ce"/><polygon points="179.2,258 187,255.2 181.5,251.5 173.8,254.4" fill="#66f0ba" stroke="#87ddc1"/><polygon points="131.7,258.1 139.6,255.6 134.2,252.3 126.4,254.8" fill="#65efbb" stroke="#87dcc2"/><polygon points="611.8,261.3 619.1,258.7 613.1,255.4 605.8,257.9" fill="#64efbb" stroke="#86dcc2"/><polygon points="515.1,327.8 522.9,316.6 517,314 509.2,325.8" fill="#1c95e6" stroke="#5aa5dc"/><polygon points="452.2,189.7 459.7,187.9 453.8,186.6 446.4,188.4" fill="#d8c874" stroke="#cec496"/><polygon points="232.4,267 240.1,263.9 234.4,256.2 226.8,260.1" fill="#59ecc0" stroke="#7fdbc5"/><polygon points="238.1,274.4 245.9,272.2 240.1,263.9 232.4,267" fill="#4be6c7" stroke="#77d7c9"/><polygon points="315.9,253.9 323.4,245.7 317.6,236.9 310.1,245.2" fill="#79f3b0" stroke="#93dfbb"/><polygon points="505.4,301.8 513.2,291.1 507.5,282.2 499.8,292.2" fill="#26ccd7" stroke="#60c7d3"/><polygon points="425.7,239.3 433.4,229.1 427.6,225.7 420,236.2" fill="#91f1a3" stroke="#a2deb3"/><polygon points="520.6,235.5 527.9,235 522.2,228.3 514.9,227.9" fill="#93f0a1" stroke="#a3ddb2"/><polygon points="465.5,190.4 472.9,191.1 467.1,188.6 459.7,187.9" fill="#d7ca75" stroke="#cec596"/><polygon points="363.2,244.8 370.8,246.2 365.1,244.2 357.5,243.4" fill="#7cf3af" stroke="#95dfba"/><polygon points="289.4,252.7 296.9,243.1 291,229.8 283.6,240.1" fill="#80f3ac" stroke="#98dfb9"/><polygon points="427.6,225.7 435.2,214.7 429.4,211.9 421.8,222.8" fill="#a8e995" stroke="#b0d9aa"/><polygon points="285.6,319 293.3,317.9 287.8,314.7 280,315.4" fill="#179ce5" stroke="#56a9dc"/><polygon points="355.3,157.5 362.9,161.4 357.2,150.5 349.5,144.9" fill="#f38d4e" stroke="#dfa07e"/><polygon points="303.7,127.7 311.5,129.1 306.2,137.5 298.5,136.7" fill="#f36336" stroke="#df866f"/><polygon points="319.7,273 327.2,262.5 321.6,259.5 314.1,269.3" fill="#53eac3" stroke="#7cd9c7"/><polygon points="321.6,259.5 329.1,251.1 323.4,245.7 315.9,253.9" fill="#6df1b6" stroke="#8cdebf"/><polygon points="249.5,244.3 257,236 251.2,226.9 243.8,236" fill="#8af2a7" stroke="#9edeb5"/><polygon points="192.4,259.1 200.2,256.1 194.7,252 187,255.2" fill="#66f0ba" stroke="#87ddc1"/><polygon points="625.2,262.1 632.5,259.6 626.4,256.2 619.1,258.7" fill="#64efbb" stroke="#86dcc2"/><polygon points="243.8,236 251.2,226.9 245.5,219.8 238.1,229.2" fill="#97ef9f" stroke="#a6dcb0"/><polygon points="317.9,286.3 325.3,274.7 319.7,273 312.3,283.9" fill="#3bdcce" stroke="#6dd1ce"/><polygon points="145,258.9 152.8,256.4 147.4,253 139.6,255.6" fill="#65efbb" stroke="#87dcc2"/><polygon points="526.3,243 533.7,241.6 527.9,235 520.6,235.5" fill="#88f2a8" stroke="#9ddeb6"/><polygon points="266.6,309.5 274.4,310.5 268.8,304.3 260.9,303.6" fill="#09b0e0" stroke="#4eb5d9"/><polygon points="330.9,239.5 338.5,235.6 332.8,226 325.2,230.4" fill="#90f1a3" stroke="#a1deb3"/><polygon points="343.8,136.4 351.5,143.1 345.8,139.6 338.1,132.6" fill="#f36d3b" stroke="#df8c72"/><polygon points="349.9,244.2 357.5,243.4 351.8,240.1 344.2,241.4" fill="#80f3ac" stroke="#98dfb9"/><polygon points="484.6,199.7 491.9,201.8 486,197.2 478.7,194.8" fill="#cad57e" stroke="#c5cc9c"/><polygon points="564.4,261.2 571.8,258.3 565.9,254.1 558.5,256.6" fill="#67f0b9" stroke="#88ddc1"/><polygon points="489,364.3 496.6,359.4 490.4,364.8 482.9,370" fill="#5e38f1" stroke="#826be3"/><polygon points="336.6,244.9 344.2,241.4 338.5,235.6 330.9,239.5" fill="#84f2aa" stroke="#9adeb7"/><polygon points="97.5,259 105.3,256.5 100,253.2 92.2,255.7" fill="#64efbb" stroke="#86dcc2"/><polygon points="219,263.2 226.8,260.1 221.1,253.9 213.4,257.7" fill="#61eebd" stroke="#84dcc3"/><polygon points="517,314 524.8,303.1 518.9,298.2 511.1,309.2" fill="#0eb5df" stroke="#51b8d8"/><polygon points="496.6,359.4 504.2,352.6 498,357.4 490.4,364.8" fill="#5645f1" stroke="#7e73e3"/><polygon points="551.1,259.6 558.5,256.6 552.7,251.6 545.3,254.1" fill="#6cf1b7" stroke="#8bdebf"/><polygon points="205.7,260.7 213.4,257.7 207.9,252.7 200.2,256.1" fill="#65efbb" stroke="#87dcc2"/><polygon points="513.4,338.1 521.2,327.6 515.1,327.8 507.3,339.3" fill="#2f7eeb" stroke="#6596e0"/><polygon points="416.4,254.1 423.9,250 418.1,247.3 410.6,252" fill="#73f2b3" stroke="#90debd"/><polygon points="577.8,262.3 585.1,259.5 579.2,255.7 571.8,258.3" fill="#65f0bb" stroke="#87ddc2"/><polygon points="276.1,249.6 283.6,240.1 277.6,227 270.2,237.4" fill="#87f2a8" stroke="#9cdeb6"/><polygon points="323.4,245.7 330.9,239.5 325.2,230.4 317.6,236.9" fill="#88f2a8" stroke="#9ddeb6"/><polygon points="532.1,250.3 539.5,248 533.7,241.6 526.3,243" fill="#7df3ae" stroke="#96dfba"/><polygon points="423.9,250 431.5,242.7 425.7,239.3 418.1,247.3" fill="#7ef3ae" stroke="#96dfba"/><polygon points="316,298.5 323.4,287.1 317.9,286.3 310.4,297" fill="#25cbd7" stroke="#5fc6d3"/><polygon points="458.1,301.1 465.7,295.1 460.1,280.9 452.6,286.2" fill="#29cfd5" stroke="#62c9d2"/><polygon points="351.6,188.7 359.2,188.8 353.4,171 345.8,169.5" fill="#e7ba6a" stroke="#d7bc90"/><polygon points="638.6,262.9 645.8,260.4 639.8,257.1 632.5,259.6" fill="#64efbb" stroke="#86dcc2"/><polygon points="262.8,246.5 270.2,237.4 264.4,226 257,236" fill="#8af2a6" stroke="#9edeb5"/><polygon points="158.2,259.8 166,257.2 160.6,253.7 152.8,256.4" fill="#65f0bb" stroke="#87ddc2"/><polygon points="306.5,315.3 314,308.1 308.5,307.8 301,314.3" fill="#0ca9e2" stroke="#50b1da"/><polygon points="329.1,251.1 336.6,244.9 330.9,239.5 323.4,245.7" fill="#7cf3ae" stroke="#95dfba"/><polygon points="110.7,259.8 118.5,257.3 113.2,254 105.3,256.5" fill="#64efbb" stroke="#86dcc2"/><polygon points="591.1,263.1 598.5,260.4 592.5,256.9 585.1,259.5" fill="#65efbb" stroke="#87dcc2"/><polygon points="437,202.1 444.6,194.5 438.8,193 431.2,200.3" fill="#ccd37d" stroke="#c7cb9b"/><polygon points="332.8,226 340.4,223.6 334.6,209.2 327,212.4" fill="#abe893" stroke="#b2d8a9"/><polygon points="298.9,319.5 306.5,315.3 301,314.3 293.3,317.9" fill="#149fe4" stroke="#55abdb"/><polygon points="342.2,207.7 349.8,207 344,188.7 336.3,189.4" fill="#cad47e" stroke="#c5cc9c"/><polygon points="444.6,194.5 452.2,189.7 446.4,188.4 438.8,193" fill="#d6ca76" stroke="#cdc597"/><polygon points="465.7,295.1 473.3,287 467.7,273.4 460.1,280.9" fill="#37d9d0" stroke="#6acfcf"/><polygon points="537.9,257.1 545.3,254.1 539.5,248 532.1,250.3" fill="#73f2b3" stroke="#90debd"/><polygon points="499.8,292.2 507.5,282.2 501.9,271.7 494.2,280.9" fill="#3bdcce" stroke="#6dd1ce"/><polygon points="349.5,144.9 357.2,150.5 351.5,143.1 343.8,136.4" fill="#f37641" stroke="#df9176"/><polygon points="224.7,269.3 232.4,267 226.8,260.1 219,263.2" fill="#57ebc1" stroke="#7edac6"/><polygon points="310.1,245.2 317.6,236.9 311.8,224.7 304.3,233.5" fill="#8ef1a4" stroke="#a0deb4"/><polygon points="651.9,263.8 659.2,261.2 653.1,257.9 645.8,260.4" fill="#64efbb" stroke="#86dcc2"/><polygon points="171.4,260.7 179.2,258 173.8,254.4 166,257.2" fill="#65f0bb" stroke="#87ddc2"/><polygon points="486.5,290.9 494.2,280.9 488.6,268.7 481,277.8" fill="#40dfcc" stroke="#70d2cc"/><polygon points="272.2,314.4 280,315.4 274.4,310.5 266.6,309.5" fill="#0ca9e2" stroke="#50b1da"/><polygon points="123.9,260.7 131.7,258.1 126.4,254.8 118.5,257.3" fill="#64efbb" stroke="#86dcc2"/><polygon points="604.5,263.9 611.8,261.3 605.8,257.9 598.5,260.4" fill="#64efbb" stroke="#86dcc2"/><polygon points="481.6,367.1 489,364.3 482.9,370 475.4,372.5" fill="#6233f2" stroke="#8568e4"/><polygon points="245.5,219.8 252.8,208.7 247.2,203.9 239.9,214.8" fill="#b5e38c" stroke="#b8d5a5"/><polygon points="504.2,352.6 511.9,344.3 505.7,348.3 498,357.4" fill="#475aef" stroke="#7480e2"/><polygon points="490.3,205.6 497.6,207.4 491.9,201.8 484.6,199.7" fill="#c4d982" stroke="#c2cf9e"/><polygon points="450.6,304.2 458.1,301.1 452.6,286.2 445.1,288.4" fill="#24cad7" stroke="#5fc5d3"/><polygon points="258.4,167.8 265.8,156.7 260.6,163 253.2,172.7" fill="#f3a159" stroke="#dfac85"/><polygon points="230.3,275.9 238.1,274.4 232.4,267 224.7,269.3" fill="#4ce6c7" stroke="#77d7c9"/><polygon points="184.7,261.8 192.4,259.1 187,255.2 179.2,258" fill="#64efbb" stroke="#86dcc2"/><polygon points="665.3,264.6 672.6,262.1 666.5,258.7 659.2,261.2" fill="#64efbb" stroke="#86dcc2"/><polygon points="249.1,189.8 256.4,177.4 251.1,179.2 243.7,190.4" fill="#e1c06e" stroke="#d4bf92"/><polygon points="353.4,171 361.1,172.7 355.3,157.5 347.6,154" fill="#f39d57" stroke="#dfaa84"/><polygon points="460.7,370 468,372.5 462.1,374.2 454.7,370.8" fill="#652df2" stroke="#8764e4"/><polygon points="518.9,298.2 526.7,288.5 520.9,281.9 513.2,291.1" fill="#2fd3d3" stroke="#65cbd1"/><polygon points="557,264.6 564.4,261.2 558.5,256.6 551.1,259.6" fill="#66f0ba" stroke="#87ddc1"/><polygon points="513.2,291.1 520.9,281.9 515.2,273.6 507.5,282.2" fill="#3dddce" stroke="#6ed1ce"/><polygon points="211.3,265.7 219,263.2 213.4,257.7 205.7,260.7" fill="#5feebe" stroke="#83dcc4"/><polygon points="137.1,261.5 145,258.9 139.6,255.6 131.7,258.1" fill="#64efbb" stroke="#86dcc2"/><polygon points="617.9,264.7 625.2,262.1 619.1,258.7 611.8,261.3" fill="#64efbb" stroke="#86dcc2"/><polygon points="543.7,263.3 551.1,259.6 545.3,254.1 537.9,257.1" fill="#6af1b8" stroke="#8adec0"/><polygon points="327.2,262.5 334.7,253.7 329.1,251.1 321.6,259.5" fill="#6bf1b8" stroke="#8bdec0"/><polygon points="197.9,263.4 205.7,260.7 200.2,256.1 192.4,259.1" fill="#63efbc" stroke="#86dcc2"/><polygon points="257,236 264.4,226 258.6,216.2 251.2,226.9" fill="#9eed9a" stroke="#aadbad"/><polygon points="236,282.6 243.9,282 238.1,274.4 230.3,275.9" fill="#40dfcc" stroke="#70d2cc"/><polygon points="314,308.1 321.5,298.1 316,298.5 308.5,307.8" fill="#15bcdc" stroke="#55bdd6"/><polygon points="431.5,242.7 439.1,233.2 433.4,229.1 425.7,239.3" fill="#90f1a3" stroke="#a1deb3"/><polygon points="325.2,230.4 332.8,226 327,212.4 319.4,217.5" fill="#a7ea95" stroke="#b0d9aa"/><polygon points="296.9,243.1 304.3,233.5 298.4,219.4 291,229.8" fill="#97ef9f" stroke="#a6dcb0"/><polygon points="317.6,236.9 325.2,230.4 319.4,217.5 311.8,224.7" fill="#9ded9b" stroke="#aadbae"/><polygon points="570.3,265.4 577.8,262.3 571.8,258.3 564.4,261.2" fill="#64efbb" stroke="#86dcc2"/><polygon points="342.3,247.4 349.9,244.2 344.2,241.4 336.6,244.9" fill="#81f3ab" stroke="#98dfb8"/><polygon points="395.5,251.2 403.1,253.1 397.3,251.7 389.8,250.5" fill="#76f2b2" stroke="#91debc"/><polygon points="408.8,254.4 416.4,254.1 410.6,252 403.1,253.1" fill="#72f2b4" stroke="#8fdebe"/><polygon points="241.7,289.4 249.6,289.6 243.9,282 236,282.6" fill="#34d7d1" stroke="#68cecf"/><polygon points="471.4,194.2 478.7,194.8 472.9,191.1 465.5,190.4" fill="#d7ca75" stroke="#cec596"/><polygon points="247.2,203.9 254.5,191.6 249.1,189.8 241.8,201.4" fill="#ced17b" stroke="#c8ca9a"/><polygon points="496.1,212.5 503.4,213.7 497.6,207.4 490.3,205.6" fill="#bcde87" stroke="#bdd2a2"/><polygon points="433.4,229.1 441,218.4 435.2,214.7 427.6,225.7" fill="#a8e994" stroke="#b0d9aa"/><polygon points="439.4,333.9 446.8,338.5 441.3,319.6 433.9,314.1" fill="#2091e7" stroke="#5ca2dd"/><polygon points="251.2,226.9 258.6,216.2 252.8,208.7 245.5,219.8" fill="#ade791" stroke="#b3d7a8"/><polygon points="435.2,214.7 442.9,204.8 437,202.1 429.4,211.9" fill="#bedd86" stroke="#bed1a1"/><polygon points="473.3,287 481,277.8 475.4,264.9 467.7,273.4" fill="#49e5c8" stroke="#75d6ca"/><polygon points="150.3,262.3 158.2,259.8 152.8,256.4 145,258.9" fill="#65efbb" stroke="#87dcc2"/><polygon points="631.3,265.5 638.6,262.9 632.5,259.6 625.2,262.1" fill="#64efbb" stroke="#86dcc2"/><polygon points="524.6,253.5 532.1,250.3 526.3,243 518.9,245.2" fill="#7ef3ad" stroke="#96dfb9"/><polygon points="522.9,316.6 530.7,306.2 524.8,303.1 517,314" fill="#0db3df" stroke="#50b7d8"/><polygon points="530.4,261.2 537.9,257.1 532.1,250.3 524.6,253.5" fill="#71f2b5" stroke="#8edebe"/><polygon points="518.9,245.2 526.3,243 520.6,235.5 513.2,236.7" fill="#8cf2a6" stroke="#9fdeb5"/><polygon points="583.7,266 591.1,263.1 585.1,259.5 577.8,262.3" fill="#64efbb" stroke="#86dcc2"/><polygon points="247.4,295.9 255.3,296.9 249.6,289.6 241.7,289.4" fill="#28ced6" stroke="#61c8d3"/><polygon points="102.8,262.3 110.7,259.8 105.3,256.5 97.5,259" fill="#64efbb" stroke="#86dcc2"/><polygon points="458,192.3 465.5,190.4 459.7,187.9 452.2,189.7" fill="#dcc572" stroke="#d1c295"/><polygon points="507.5,282.2 515.2,273.6 509.5,264.1 501.9,271.7" fill="#50e8c5" stroke="#7ad8c8"/><polygon points="501.8,220.1 509.2,220.6 503.4,213.7 496.1,212.5" fill="#b2e48e" stroke="#b7d6a6"/><polygon points="334.7,253.7 342.3,247.4 336.6,244.9 329.1,251.1" fill="#7af3af" stroke="#94dfba"/><polygon points="513.2,236.7 520.6,235.5 514.9,227.9 507.5,228.2" fill="#99ee9d" stroke="#a7dcaf"/><polygon points="291.2,321.1 298.9,319.5 293.3,317.9 285.6,319" fill="#149fe4" stroke="#55abdb"/><polygon points="524.8,303.1 532.5,293.5 526.7,288.5 518.9,298.2" fill="#26ccd6" stroke="#60c7d3"/><polygon points="437.6,344.9 445,351.1 439.4,333.9 432.1,327" fill="#3377ec" stroke="#6892e0"/><polygon points="429.7,253.3 437.3,246.7 431.5,242.7 423.9,250" fill="#7df3ae" stroke="#96dfba"/><polygon points="507.5,228.2 514.9,227.9 509.2,220.6 501.8,220.1" fill="#a6ea95" stroke="#afd9aa"/><polygon points="382.2,247.5 389.8,250.5 384.1,249.3 376.5,247.1" fill="#7cf3ae" stroke="#95dfba"/><polygon points="325.3,274.7 332.8,263.6 327.2,262.5 319.7,273" fill="#57ebc2" stroke="#7edac6"/><polygon points="283.6,240.1 291,229.8 285,215.7 277.6,227" fill="#9eed9b" stroke="#aadbae"/><polygon points="270.2,237.4 277.6,227 271.7,214.6 264.4,226" fill="#a1ec99" stroke="#acdbad"/><polygon points="163.6,263.2 171.4,260.7 166,257.2 158.2,259.8" fill="#64efbb" stroke="#86dcc2"/><polygon points="536.1,268.1 543.7,263.3 537.9,257.1 530.4,261.2" fill="#65f0bb" stroke="#87ddc2"/><polygon points="644.7,266.3 651.9,263.8 645.8,260.4 638.6,262.9" fill="#64efbb" stroke="#86dcc2"/><polygon points="216.9,271.2 224.7,269.3 219,263.2 211.3,265.7" fill="#58ebc1" stroke="#7fdac6"/><polygon points="520.9,281.9 528.5,274.2 522.8,266.6 515.2,273.6" fill="#4fe8c5" stroke="#79d8c8"/><polygon points="494.2,280.9 501.9,271.7 496.3,260.5 488.6,268.7" fill="#55eac2" stroke="#7dd9c6"/><polygon points="296,128.7 303.7,127.7 298.5,136.7 290.8,137.9" fill="#f35a31" stroke="#df806c"/><polygon points="549.5,268.7 557,264.6 551.1,259.6 543.7,263.3" fill="#62efbc" stroke="#85dcc2"/><polygon points="597.1,266.6 604.5,263.9 598.5,260.4 591.1,263.1" fill="#64efbb" stroke="#86dcc2"/><polygon points="441.3,319.6 448.7,322.2 443.2,303.9 435.8,300.3" fill="#0bb1e0" stroke="#4fb6d9"/><polygon points="521.2,327.6 529,317.3 522.9,316.6 515.1,327.8" fill="#169de5" stroke="#56aadc"/><polygon points="116,263.2 123.9,260.7 118.5,257.3 110.7,259.8" fill="#64efbb" stroke="#86dcc2"/><polygon points="422.2,256.5 429.7,253.3 423.9,250 416.4,254.1" fill="#75f2b2" stroke="#91debc"/><polygon points="253,302.1 260.9,303.6 255.3,296.9 247.4,295.9" fill="#1ec4da" stroke="#5bc2d5"/><polygon points="277.8,318.2 285.6,319 280,315.4 272.2,314.4" fill="#0fa5e3" stroke="#52aedb"/><polygon points="355.5,245 363.2,244.8 357.5,243.4 349.9,244.2" fill="#84f2aa" stroke="#9adeb7"/><polygon points="511.9,344.3 519.6,335.3 513.4,338.1 505.7,348.3" fill="#3575ec" stroke="#6991e0"/><polygon points="526.7,288.5 534.3,280.5 528.5,274.2 520.9,281.9" fill="#42e1cb" stroke="#71d4cc"/><polygon points="316.9,123.4 324.7,127.5 319.3,132.6 311.5,129.1" fill="#f34e2b" stroke="#df7969"/><polygon points="330.3,126.5 338.1,132.6 332.5,133.3 324.7,127.5" fill="#f3522d" stroke="#df7b6a"/><polygon points="522.8,266.6 530.4,261.2 524.6,253.5 517.1,258" fill="#6bf1b8" stroke="#8bdec0"/><polygon points="441.6,360.7 448.9,367.2 443.2,358.6 435.9,351.3" fill="#514cf0" stroke="#7a77e3"/><polygon points="176.8,264.3 184.7,261.8 179.2,258 171.4,260.7" fill="#64efbb" stroke="#86dcc2"/><polygon points="528.5,274.2 536.1,268.1 530.4,261.2 522.8,266.6" fill="#5cedbf" stroke="#81dbc4"/><polygon points="368.9,245 376.5,247.1 370.8,246.2 363.2,244.8" fill="#82f2ab" stroke="#99deb8"/><polygon points="334.6,209.2 342.2,207.7 336.3,189.4 328.7,191.5" fill="#cdd27c" stroke="#c7ca9b"/><polygon points="515.2,273.6 522.8,266.6 517.1,258 509.5,264.1" fill="#60eebd" stroke="#84dcc3"/><polygon points="658.1,267.1 665.3,264.6 659.2,261.2 651.9,263.8" fill="#64efbb" stroke="#86dcc2"/><polygon points="562.9,269 570.3,265.4 564.4,261.2 557,264.6" fill="#62efbc" stroke="#85dcc2"/><polygon points="203.5,267.9 211.3,265.7 205.7,260.7 197.9,263.4" fill="#5feebe" stroke="#83dcc4"/><polygon points="323.4,287.1 330.9,274.7 325.3,274.7 317.9,286.3" fill="#42e0cb" stroke="#71d3cc"/><polygon points="265.8,156.7 273.2,146.7 268,154.3 260.6,163" fill="#f3884b" stroke="#df9d7c"/><polygon points="190.1,265.8 197.9,263.4 192.4,259.1 184.7,261.8" fill="#62efbc" stroke="#85dcc2"/><polygon points="610.5,267.3 617.9,264.7 611.8,261.3 604.5,263.9" fill="#64efbb" stroke="#86dcc2"/><polygon points="129.2,264 137.1,261.5 131.7,258.1 123.9,260.7" fill="#64efbb" stroke="#86dcc2"/><polygon points="452.6,286.2 460.1,280.9 454.5,268.7 446.9,273.7" fill="#4ae5c8" stroke="#76d6ca"/><polygon points="517.1,258 524.6,253.5 518.9,245.2 511.5,248.7" fill="#7bf3af" stroke="#94dfba"/><polygon points="542,273.9 549.5,268.7 543.7,263.3 536.1,268.1" fill="#5cedbf" stroke="#81dbc4"/><polygon points="474.1,367.7 481.6,367.1 475.4,372.5 468,372.5" fill="#5f37f1" stroke="#836ae3"/><polygon points="442.9,204.8 450.5,197.1 444.6,194.5 437,202.1" fill="#cfd07b" stroke="#c9c99a"/><polygon points="460.1,280.9 467.7,273.4 462.1,261.5 454.5,268.7" fill="#56ebc2" stroke="#7edac6"/><polygon points="222.5,276.9 230.3,275.9 224.7,269.3 216.9,271.2" fill="#4fe8c5" stroke="#79d8c8"/><polygon points="481,277.8 488.6,268.7 483.1,256.5 475.4,264.9" fill="#5eeebe" stroke="#82dcc4"/><polygon points="534.3,280.5 542,273.9 536.1,268.1 528.5,274.2" fill="#51e9c4" stroke="#7ad9c7"/><polygon points="437.3,246.7 444.9,238 439.1,233.2 431.5,242.7" fill="#8ef1a4" stroke="#a0deb4"/><polygon points="344,188.7 351.6,188.7 345.8,169.5 338.1,168.9" fill="#efb264" stroke="#dcb78c"/><polygon points="671.5,267.9 678.7,265.4 672.6,262.1 665.3,264.6" fill="#64efbb" stroke="#86dcc2"/><polygon points="477.2,199.3 484.6,199.7 478.7,194.8 471.4,194.2" fill="#d4cc77" stroke="#ccc798"/><polygon points="450.5,197.1 458,192.3 452.2,189.7 444.6,194.5" fill="#d9c774" stroke="#cfc496"/><polygon points="447.4,365.3 454.7,370.8 448.9,367.2 441.6,360.7" fill="#5940f1" stroke="#7f70e3"/><polygon points="258.7,307.6 266.6,309.5 260.9,303.6 253,302.1" fill="#15bcdc" stroke="#55bdd6"/><polygon points="304.3,233.5 311.8,224.7 305.9,209.8 298.4,219.4" fill="#abe893" stroke="#b2d8a9"/><polygon points="576.3,269.2 583.7,266 577.8,262.3 570.3,265.4" fill="#62efbc" stroke="#85dcc2"/><polygon points="501.9,271.7 509.5,264.1 503.9,253.8 496.3,260.5" fill="#68f0b9" stroke="#89ddc1"/><polygon points="443.2,303.9 450.6,304.2 445.1,288.4 437.6,287.3" fill="#29ced5" stroke="#62c8d2"/><polygon points="142.5,264.9 150.3,262.3 145,258.9 137.1,261.5" fill="#64efbb" stroke="#86dcc2"/><polygon points="623.9,268 631.3,265.5 625.2,262.1 617.9,264.7" fill="#64efbb" stroke="#86dcc2"/><polygon points="439.1,233.2 446.8,222.9 441,218.4 433.4,229.1" fill="#a6ea96" stroke="#afd9ab"/><polygon points="532.5,293.5 540.2,285.4 534.3,280.5 526.7,288.5" fill="#3bdcce" stroke="#6dd1ce"/><polygon points="509.5,264.1 517.1,258 511.5,248.7 503.9,253.8" fill="#74f2b3" stroke="#90debd"/><polygon points="511.5,248.7 518.9,245.2 513.2,236.7 505.8,239.2" fill="#8cf1a5" stroke="#9fdeb4"/><polygon points="252.8,208.7 260.2,196.3 254.5,191.6 247.2,203.9" fill="#ced17b" stroke="#c8ca9a"/><polygon points="555.4,273.3 562.9,269 557,264.6 549.5,268.7" fill="#5dedbf" stroke="#82dbc4"/><polygon points="321.5,298.1 329,286.1 323.4,287.1 316,298.5" fill="#2fd3d3" stroke="#65cbd1"/><polygon points="441,218.4 448.7,208.6 442.9,204.8 435.2,214.7" fill="#bedd86" stroke="#bed1a1"/><polygon points="435.5,257.7 443.1,252 437.3,246.7 429.7,253.3" fill="#7bf3af" stroke="#94dfba"/><polygon points="264.4,226 271.7,214.6 265.9,204.1 258.6,216.2" fill="#b6e28b" stroke="#b9d4a4"/><polygon points="530.7,306.2 538.5,297 532.5,293.5 524.8,303.1" fill="#24cad7" stroke="#5fc5d3"/><polygon points="228.2,282.9 236,282.6 230.3,275.9 222.5,276.9" fill="#46e3ca" stroke="#74d5cb"/><polygon points="155.7,265.8 163.6,263.2 158.2,259.8 150.3,262.3" fill="#64efbb" stroke="#86dcc2"/><polygon points="637.3,268.8 644.7,266.3 638.6,262.9 631.3,265.5" fill="#64efbb" stroke="#86dcc2"/><polygon points="589.7,269.5 597.1,266.6 591.1,263.1 583.7,266" fill="#63efbc" stroke="#86dcc2"/><polygon points="256.4,177.4 263.7,164.8 258.4,167.8 251.1,179.2" fill="#f3a65c" stroke="#dfaf87"/><polygon points="288.3,132.3 296,128.7 290.8,137.9 283.1,141.4" fill="#f35a31" stroke="#df806c"/><polygon points="467.7,273.4 475.4,264.9 469.8,253.3 462.1,261.5" fill="#68f0b9" stroke="#89ddc1"/><polygon points="445.1,288.4 452.6,286.2 446.9,273.7 439.4,275.5" fill="#46e3c9" stroke="#74d5cb"/><polygon points="304.4,319.5 312,314.5 306.5,315.3 298.9,319.5" fill="#0baae2" stroke="#4fb2da"/><polygon points="108.1,265.7 116,263.2 110.7,259.8 102.8,262.3" fill="#64efbb" stroke="#86dcc2"/><polygon points="273.2,146.7 280.7,138.4 275.6,146.9 268,154.3" fill="#f3723e" stroke="#df8f74"/><polygon points="463.9,196.1 471.4,194.2 465.5,190.4 458,192.3" fill="#dcc572" stroke="#d1c295"/><polygon points="312,314.5 319.6,306.6 314,308.1 306.5,315.3" fill="#0fb6de" stroke="#52b9d8"/><polygon points="332.8,263.6 340.3,254.3 334.7,253.7 327.2,262.5" fill="#70f2b5" stroke="#8edebe"/><polygon points="209.1,272.8 216.9,271.2 211.3,265.7 203.5,267.9" fill="#59ecc0" stroke="#7fdbc5"/><polygon points="505.8,239.2 513.2,236.7 507.5,228.2 500.1,229.8" fill="#9cee9c" stroke="#a9dcaf"/><polygon points="327,212.4 334.6,209.2 328.7,191.5 321,195.5" fill="#cdd27c" stroke="#c7ca9b"/><polygon points="540.2,285.4 547.8,278.7 542,273.9 534.3,280.5" fill="#4ae5c7" stroke="#76d6c9"/><polygon points="169,266.8 176.8,264.3 171.4,260.7 163.6,263.2" fill="#64efbb" stroke="#86dcc2"/><polygon points="482.9,205.5 490.3,205.6 484.6,199.7 477.2,199.3" fill="#ced17c" stroke="#c8ca9b"/><polygon points="547.8,278.7 555.4,273.3 549.5,268.7 542,273.9" fill="#56ebc2" stroke="#7edac6"/><polygon points="488.6,268.7 496.3,260.5 490.7,249.1 483.1,256.5" fill="#71f2b4" stroke="#8edebe"/><polygon points="650.8,269.6 658.1,267.1 651.9,263.8 644.7,266.3" fill="#64efbb" stroke="#86dcc2"/><polygon points="258.6,216.2 265.9,204.1 260.2,196.3 252.8,208.7" fill="#c6d781" stroke="#c3ce9e"/><polygon points="414.6,256.1 422.2,256.5 416.4,254.1 408.8,254.4" fill="#77f2b1" stroke="#92debc"/><polygon points="264.3,312.4 272.2,314.4 266.6,309.5 258.7,307.6" fill="#0fb6de" stroke="#52b9d8"/><polygon points="347.6,154 355.3,157.5 349.5,144.9 341.8,140" fill="#f37640" stroke="#df9176"/><polygon points="347.9,248 355.5,245 349.9,244.2 342.3,247.4" fill="#86f2a9" stroke="#9bdeb7"/><polygon points="603.2,270 610.5,267.3 604.5,263.9 597.1,266.6" fill="#64efbb" stroke="#86dcc2"/><polygon points="311.8,224.7 319.4,217.5 313.4,201.6 305.9,209.8" fill="#bbdf88" stroke="#bcd2a2"/><polygon points="443.1,252 450.7,244 444.9,238 437.3,246.7" fill="#89f2a7" stroke="#9ddeb5"/><polygon points="233.8,288.9 241.7,289.4 236,282.6 228.2,282.9" fill="#3cddce" stroke="#6dd1ce"/><polygon points="427.9,260.2 435.5,257.7 429.7,253.3 422.2,256.5" fill="#75f2b2" stroke="#91debc"/><polygon points="446.9,273.7 454.5,268.7 448.8,259.1 441.2,264.2" fill="#63efbc" stroke="#86dcc2"/><polygon points="519.6,335.3 527.4,325.9 521.2,327.6 513.4,338.1" fill="#2091e7" stroke="#5ca2dd"/><polygon points="435.9,351.3 443.2,358.6 437.6,344.9 430.3,337.1" fill="#3b6ced" stroke="#6d8be1"/><polygon points="568.9,272.9 576.3,269.2 570.3,265.4 562.9,269" fill="#5feebe" stroke="#83dcc4"/><polygon points="182.3,268.1 190.1,265.8 184.7,261.8 176.8,264.3" fill="#62efbc" stroke="#85dcc2"/><polygon points="121.4,266.5 129.2,264 123.9,260.7 116,263.2" fill="#64efbb" stroke="#86dcc2"/><polygon points="195.7,270 203.5,267.9 197.9,263.4 190.1,265.8" fill="#5feebe" stroke="#83dcc4"/><polygon points="291,229.8 298.4,219.4 292.5,204.3 285,215.7" fill="#b5e28c" stroke="#b8d4a5"/><polygon points="280.7,138.4 288.3,132.3 283.1,141.4 275.6,146.9" fill="#f36236" stroke="#df856f"/><polygon points="503.9,253.8 511.5,248.7 505.8,239.2 498.3,243.3" fill="#88f2a8" stroke="#9ddeb6"/><polygon points="529,317.3 536.8,307.8 530.7,306.2 522.9,316.6" fill="#11b8de" stroke="#53bad8"/><polygon points="454.5,268.7 462.1,261.5 456.4,251.7 448.8,259.1" fill="#6ff2b5" stroke="#8ddebe"/><polygon points="500.1,229.8 507.5,228.2 501.8,220.1 494.4,220.9" fill="#ace792" stroke="#b3d7a8"/><polygon points="254.5,191.6 261.8,178.4 256.4,177.4 249.1,189.8" fill="#e9b869" stroke="#d9ba8f"/><polygon points="441.2,264.2 448.8,259.1 443.1,252 435.5,257.7" fill="#73f2b3" stroke="#90debd"/><polygon points="283.4,320.8 291.2,321.1 285.6,319 277.8,318.2" fill="#0ea7e3" stroke="#51b0db"/><polygon points="488.7,212.7 496.1,212.5 490.3,205.6 482.9,205.5" fill="#c5d882" stroke="#c2ce9e"/><polygon points="401.3,251.7 408.8,254.4 403.1,253.1 395.5,251.2" fill="#7df3ae" stroke="#96dfba"/><polygon points="319.4,217.5 327,212.4 321,195.5 313.4,201.6" fill="#c7d780" stroke="#c4ce9d"/><polygon points="277.6,227 285,215.7 279.1,202.3 271.7,214.6" fill="#bae089" stroke="#bcd3a3"/><polygon points="496.3,260.5 503.9,253.8 498.3,243.3 490.7,249.1" fill="#7ff3ad" stroke="#97dfb9"/><polygon points="664.2,270.5 671.5,267.9 665.3,264.6 658.1,267.1" fill="#64efbb" stroke="#86dcc2"/><polygon points="444.9,238 452.6,228.4 446.8,222.9 439.1,233.2" fill="#a2eb98" stroke="#addaac"/><polygon points="494.4,220.9 501.8,220.1 496.1,212.5 488.7,212.7" fill="#b9e089" stroke="#bbd3a3"/><polygon points="616.6,270.6 623.9,268 617.9,264.7 610.5,267.3" fill="#64efbb" stroke="#86dcc2"/><polygon points="340.3,254.3 347.9,248 342.3,247.4 334.7,253.7" fill="#80f3ac" stroke="#98dfb9"/><polygon points="345.8,169.5 353.4,171 347.6,154 339.9,151.3" fill="#f38d4e" stroke="#dfa07e"/><polygon points="134.6,267.4 142.5,264.9 137.1,261.5 129.2,264" fill="#64efbb" stroke="#86dcc2"/><polygon points="448.8,259.1 456.4,251.7 450.7,244 443.1,252" fill="#7ff3ad" stroke="#97dfb9"/><polygon points="239.5,294.8 247.4,295.9 241.7,289.4 233.8,288.9" fill="#33d6d2" stroke="#68cdd0"/><polygon points="448.7,208.6 456.3,200.9 450.5,197.1 442.9,204.8" fill="#cfd07b" stroke="#c9c99a"/><polygon points="538.5,297 546.2,289.2 540.2,285.4 532.5,293.5" fill="#38dad0" stroke="#6bcfcf"/><polygon points="475.4,264.9 483.1,256.5 477.4,245.2 469.8,253.3" fill="#7af3af" stroke="#94dfba"/><polygon points="582.3,272.7 589.7,269.5 583.7,266 576.3,269.2" fill="#61efbd" stroke="#84dcc3"/><polygon points="214.6,277.9 222.5,276.9 216.9,271.2 209.1,272.8" fill="#53e9c4" stroke="#7cd9c7"/><polygon points="677.6,271.3 684.9,268.8 678.7,265.4 671.5,267.9" fill="#64efbb" stroke="#86dcc2"/><polygon points="296.7,321.8 304.4,319.5 298.9,319.5 291.2,321.1" fill="#0da7e2" stroke="#50b0da"/><polygon points="456.3,200.9 463.9,196.1 458,192.3 450.5,197.1" fill="#d9c773" stroke="#cfc495"/><polygon points="561.4,277.3 568.9,272.9 562.9,269 555.4,273.3" fill="#5aecc0" stroke="#80dbc5"/><polygon points="336,130.5 343.8,136.4 338.1,132.6 330.3,126.5" fill="#f34c2a" stroke="#df7768"/><polygon points="147.9,268.3 155.7,265.8 150.3,262.3 142.5,264.9" fill="#64efbb" stroke="#86dcc2"/><polygon points="446.8,222.9 454.5,213.5 448.7,208.6 441,218.4" fill="#bbdf88" stroke="#bcd2a2"/><polygon points="630,271.4 637.3,268.8 631.3,265.5 623.9,268" fill="#64efbb" stroke="#86dcc2"/><polygon points="462.1,261.5 469.8,253.3 464.1,243.3 456.4,251.7" fill="#80f3ac" stroke="#98dfb9"/><polygon points="387.9,247.4 395.5,251.2 389.8,250.5 382.2,247.5" fill="#85f2aa" stroke="#9bdeb7"/><polygon points="319.6,306.6 327.1,296 321.5,298.1 314,308.1" fill="#23c9d8" stroke="#5ec5d4"/><polygon points="330.9,274.7 338.4,263.1 332.8,263.6 325.3,274.7" fill="#60eebd" stroke="#84dcc3"/><polygon points="439.4,275.5 446.9,273.7 441.2,264.2 433.7,266.2" fill="#60eebd" stroke="#84dcc3"/><polygon points="498.3,243.3 505.8,239.2 500.1,229.8 492.6,233.1" fill="#9bee9c" stroke="#a8dcaf"/><polygon points="469.7,201.3 477.2,199.3 471.4,194.2 463.9,196.1" fill="#d9c874" stroke="#cfc496"/><polygon points="433.7,266.2 441.2,264.2 435.5,257.7 427.9,260.2" fill="#6ff2b6" stroke="#8ddebf"/><polygon points="336.3,189.4 344,188.7 338.1,168.9 330.4,169.6" fill="#f3ac60" stroke="#dfb389"/><polygon points="450.7,244 458.4,235.1 452.6,228.4 444.9,238" fill="#9bee9c" stroke="#a8dcaf"/><polygon points="546.2,289.2 553.8,282.6 547.8,278.7 540.2,285.4" fill="#47e4c9" stroke="#74d6cb"/><polygon points="161.2,269.2 169,266.8 163.6,263.2 155.7,265.8" fill="#64efbb" stroke="#86dcc2"/><polygon points="553.8,282.6 561.4,277.3 555.4,273.3 547.8,278.7" fill="#53e9c4" stroke="#7cd9c7"/><polygon points="361.2,244.6 368.9,245 363.2,244.8 355.5,245" fill="#8cf1a5" stroke="#9fdeb4"/><polygon points="595.8,272.9 603.2,270 597.1,266.6 589.7,269.5" fill="#63efbc" stroke="#86dcc2"/><polygon points="245.1,300.4 253,302.1 247.4,295.9 239.5,294.8" fill="#2acfd5" stroke="#62c9d2"/><polygon points="643.5,272.2 650.8,269.6 644.7,266.3 637.3,268.8" fill="#64efbb" stroke="#86dcc2"/><polygon points="341.8,140 349.5,144.9 343.8,136.4 336,130.5" fill="#f35831" stroke="#df7f6c"/><polygon points="483.1,256.5 490.7,249.1 485.1,238.3 477.4,245.2" fill="#8af2a6" stroke="#9edeb5"/><polygon points="269.9,316.3 277.8,318.2 272.2,314.4 264.3,312.4" fill="#0db3df" stroke="#50b7d8"/><polygon points="201.2,274.4 209.1,272.8 203.5,267.9 195.7,270" fill="#5bedbf" stroke="#81dbc4"/><polygon points="453.3,365.7 460.7,370 454.7,370.8 447.4,365.3" fill="#5546f1" stroke="#7d74e3"/><polygon points="456.4,251.7 464.1,243.3 458.4,235.1 450.7,244" fill="#90f1a3" stroke="#a1deb3"/><polygon points="113.5,269.1 121.4,266.5 116,263.2 108.1,265.7" fill="#64efbb" stroke="#86dcc2"/><polygon points="174.5,270.4 182.3,268.1 176.8,264.3 169,266.8" fill="#63efbc" stroke="#86dcc2"/><polygon points="374.6,244.6 382.2,247.5 376.5,247.1 368.9,245" fill="#8bf2a6" stroke="#9edeb5"/><polygon points="490.7,249.1 498.3,243.3 492.6,233.1 485.1,238.3" fill="#95f0a0" stroke="#a5ddb1"/><polygon points="187.8,272.1 195.7,270 190.1,265.8 182.3,268.1" fill="#60eebd" stroke="#84dcc3"/><polygon points="536.8,307.8 544.5,299.3 538.5,297 530.7,306.2" fill="#27cdd6" stroke="#60c7d3"/><polygon points="220.3,283.2 228.2,282.9 222.5,276.9 214.6,277.9" fill="#4ce6c7" stroke="#77d7c9"/><polygon points="527.4,325.9 535.1,316.8 529,317.3 521.2,327.6" fill="#0aabe2" stroke="#4eb2da"/><polygon points="466.7,366.2 474.1,367.7 468,372.5 460.7,370" fill="#5645f1" stroke="#7e73e3"/><polygon points="574.9,276.4 582.3,272.7 576.3,269.2 568.9,272.9" fill="#5eeebe" stroke="#82dcc4"/><polygon points="656.9,273 664.2,270.5 658.1,267.1 650.8,269.6" fill="#64efbb" stroke="#86dcc2"/><polygon points="492.6,233.1 500.1,229.8 494.4,220.9 486.9,223.6" fill="#ade791" stroke="#b3d7a8"/><polygon points="609.2,273.4 616.6,270.6 610.5,267.3 603.2,270" fill="#64efbb" stroke="#86dcc2"/><polygon points="309.1,121.5 316.9,123.4 311.5,129.1 303.7,127.7" fill="#f33b21" stroke="#df6d62"/><polygon points="502.9,352.9 510.5,346.8 504.2,352.6 496.6,359.4" fill="#3d6aed" stroke="#6e8ae1"/><polygon points="475.5,207.6 482.9,205.5 477.2,199.3 469.7,201.3" fill="#d2ce79" stroke="#cac899"/><polygon points="126.7,269.9 134.6,267.4 129.2,264 121.4,266.5" fill="#64efbb" stroke="#86dcc2"/><polygon points="469.8,253.3 477.4,245.2 471.7,235.2 464.1,243.3" fill="#91f1a3" stroke="#a2deb3"/><polygon points="452.6,228.4 460.3,219.4 454.5,213.5 446.8,222.9" fill="#b6e28b" stroke="#b9d4a4"/><polygon points="495.3,357.5 502.9,352.9 496.6,359.4 489,364.3" fill="#455eef" stroke="#7382e2"/><polygon points="437.6,287.3 445.1,288.4 439.4,275.5 431.9,274" fill="#4de7c6" stroke="#78d7c9"/><polygon points="263.7,164.8 271.1,152.6 265.8,156.7 258.4,167.8" fill="#f3874a" stroke="#df9c7c"/><polygon points="454.5,213.5 462.1,206 456.3,200.9 448.7,208.6" fill="#ccd37d" stroke="#c7cb9b"/><polygon points="298.4,219.4 305.9,209.8 299.9,193.6 292.5,204.3" fill="#cbd37d" stroke="#c6cb9b"/><polygon points="329,286.1 336.5,273.3 330.9,274.7 323.4,287.1" fill="#4ee7c6" stroke="#79d7c9"/><polygon points="271.7,214.6 279.1,202.3 273.2,191 265.9,204.1" fill="#d1cf79" stroke="#cac999"/><polygon points="420.4,259.1 427.9,260.2 422.2,256.5 414.6,256.1" fill="#79f3b0" stroke="#93dfbb"/><polygon points="462.1,206 469.7,201.3 463.9,196.1 456.3,200.9" fill="#d6ca76" stroke="#cdc597"/><polygon points="260.2,196.3 267.5,182.9 261.8,178.4 254.5,191.6" fill="#eab768" stroke="#d9ba8e"/><polygon points="670.3,273.8 677.6,271.3 671.5,267.9 664.2,270.5" fill="#64efbb" stroke="#86dcc2"/><polygon points="486.9,223.6 494.4,220.9 488.7,212.7 481.2,215.1" fill="#bcde88" stroke="#bdd2a2"/><polygon points="250.7,305.5 258.7,307.6 253,302.1 245.1,300.4" fill="#23c9d8" stroke="#5ec5d4"/><polygon points="481.2,215.1 488.7,212.7 482.9,205.5 475.5,207.6" fill="#c8d57f" stroke="#c4cc9d"/><polygon points="622.7,274 630,271.4 623.9,268 616.6,270.6" fill="#64efbb" stroke="#86dcc2"/><polygon points="140,270.8 147.9,268.3 142.5,264.9 134.6,267.4" fill="#64efbb" stroke="#86dcc2"/><polygon points="510.5,346.8 518.2,339.6 511.9,344.3 504.2,352.6" fill="#307beb" stroke="#6694e0"/><polygon points="458.4,235.1 466,226.6 460.3,219.4 452.6,228.4" fill="#aee691" stroke="#b4d7a8"/><polygon points="588.4,276 595.8,272.9 589.7,269.5 582.3,272.7" fill="#61eebd" stroke="#84dcc3"/><polygon points="464.1,243.3 471.7,235.2 466,226.6 458.4,235.1" fill="#a1ec99" stroke="#acdbad"/><polygon points="435.8,300.3 443.2,303.9 437.6,287.3 430.1,283" fill="#39dacf" stroke="#6ccfce"/><polygon points="225.9,288.5 233.8,288.9 228.2,282.9 220.3,283.2" fill="#44e2ca" stroke="#72d4cb"/><polygon points="567.4,280.7 574.9,276.4 568.9,272.9 561.4,277.3" fill="#59ecc0" stroke="#7fdbc5"/><polygon points="477.4,245.2 485.1,238.3 479.4,228.4 471.7,235.2" fill="#9fed9a" stroke="#abdbad"/><polygon points="485.1,238.3 492.6,233.1 486.9,223.6 479.4,228.4" fill="#a9e994" stroke="#b1d9aa"/><polygon points="683.8,274.7 691.1,272.1 684.9,268.8 677.6,271.3" fill="#64efbb" stroke="#86dcc2"/><polygon points="544.5,299.3 552.2,292 546.2,289.2 538.5,297" fill="#39dbcf" stroke="#6cd0ce"/><polygon points="433.9,314.1 441.3,319.6 435.8,300.3 428.3,294.2" fill="#21c7d8" stroke="#5dc4d4"/><polygon points="206.8,279 214.6,277.9 209.1,272.8 201.2,274.4" fill="#57ebc2" stroke="#7edac6"/><polygon points="153.3,271.7 161.2,269.2 155.7,265.8 147.9,268.3" fill="#64efbb" stroke="#86dcc2"/><polygon points="432.1,327 439.4,333.9 433.9,314.1 426.5,306.9" fill="#0ab0e0" stroke="#4eb5d9"/><polygon points="636.1,274.7 643.5,272.2 637.3,268.8 630,271.4" fill="#64efbb" stroke="#86dcc2"/><polygon points="265.9,204.1 273.2,191 267.5,182.9 260.2,196.3" fill="#e2c06e" stroke="#d4bf92"/><polygon points="285,215.7 292.5,204.3 286.5,189.8 279.1,202.3" fill="#d3cd78" stroke="#cbc798"/><polygon points="322.5,122 330.3,126.5 324.7,127.5 316.9,123.4" fill="#f3361f" stroke="#df6a61"/><polygon points="487.8,360.4 495.3,357.5 489,364.3 481.6,367.1" fill="#4859ef" stroke="#757fe2"/><polygon points="288.9,322 296.7,321.8 291.2,321.1 283.4,320.8" fill="#08ade1" stroke="#4db3d9"/><polygon points="460.3,219.4 467.9,212.3 462.1,206 454.5,213.5" fill="#c6d781" stroke="#c3ce9e"/><polygon points="338.4,263.1 345.9,253.5 340.3,254.3 332.8,263.6" fill="#7af3b0" stroke="#94dfbb"/><polygon points="467.9,212.3 475.5,207.6 469.7,201.3 462.1,206" fill="#d0d07a" stroke="#c9c99a"/><polygon points="166.6,272.8 174.5,270.4 169,266.8 161.2,269.2" fill="#63efbc" stroke="#86dcc2"/><polygon points="328.7,191.5 336.3,189.4 330.4,169.6 322.7,172.2" fill="#f3a95e" stroke="#dfb188"/><polygon points="559.8,285.8 567.4,280.7 561.4,277.3 553.8,282.6" fill="#52e9c4" stroke="#7bd9c7"/><polygon points="552.2,292 559.8,285.8 553.8,282.6 546.2,289.2" fill="#47e3c9" stroke="#74d5cb"/><polygon points="261.8,178.4 269.2,165 263.7,164.8 256.4,177.4" fill="#f39954" stroke="#dfa782"/><polygon points="407.1,252.6 414.6,256.1 408.8,254.4 401.3,251.7" fill="#83f2aa" stroke="#99deb7"/><polygon points="193.3,276.2 201.2,274.4 195.7,270 187.8,272.1" fill="#5eedbe" stroke="#82dbc4"/><polygon points="601.8,276.2 609.2,273.4 603.2,270 595.8,272.9" fill="#63efbc" stroke="#86dcc2"/><polygon points="479.4,228.4 486.9,223.6 481.2,215.1 473.7,219.7" fill="#b9e08a" stroke="#bbd3a3"/><polygon points="649.6,275.5 656.9,273 650.8,269.6 643.5,272.2" fill="#64efbb" stroke="#86dcc2"/><polygon points="353.6,247.3 361.2,244.6 355.5,245 347.9,248" fill="#90f1a3" stroke="#a1deb3"/><polygon points="179.9,274.2 187.8,272.1 182.3,268.1 174.5,270.4" fill="#61efbd" stroke="#84dcc3"/><polygon points="535.1,316.8 542.9,308.3 536.8,307.8 529,317.3" fill="#1ac1db" stroke="#58c0d6"/><polygon points="471.7,235.2 479.4,228.4 473.7,219.7 466,226.6" fill="#b0e590" stroke="#b5d6a7"/><polygon points="473.7,219.7 481.2,215.1 475.5,207.6 467.9,212.3" fill="#c6d781" stroke="#c3ce9e"/><polygon points="327.1,296 334.6,283.5 329,286.1 321.5,298.1" fill="#3fdfcd" stroke="#6fd2cd"/><polygon points="518.2,339.6 525.9,331.7 519.6,335.3 511.9,344.3" fill="#2091e7" stroke="#5ca2dd"/><polygon points="466,226.6 473.7,219.7 467.9,212.3 460.3,219.4" fill="#bdde87" stroke="#bdd2a2"/><polygon points="275.5,319.1 283.4,320.8 277.8,318.2 269.9,316.3" fill="#0db4df" stroke="#50b8d8"/><polygon points="118.8,272.4 126.7,269.9 121.4,266.5 113.5,269.1" fill="#64efbb" stroke="#86dcc2"/><polygon points="256.4,310.1 264.3,312.4 258.7,307.6 250.7,305.5" fill="#1ec5d9" stroke="#5bc2d4"/><polygon points="426.2,264.7 433.7,266.2 427.9,260.2 420.4,259.1" fill="#75f2b2" stroke="#91debc"/><polygon points="231.5,293.8 239.5,294.8 233.8,288.9 225.9,288.5" fill="#3dddcd" stroke="#6ed1cd"/><polygon points="431.9,274 439.4,275.5 433.7,266.2 426.2,264.7" fill="#68f0b9" stroke="#89ddc1"/><polygon points="309.9,317.9 317.5,312.2 312,314.5 304.4,319.5" fill="#12b9dd" stroke="#53bbd7"/><polygon points="305.9,209.8 313.4,201.6 307.5,184.3 299.9,193.6" fill="#dec370" stroke="#d2c193"/><polygon points="338.1,168.9 345.8,169.5 339.9,151.3 332.1,150" fill="#f38046" stroke="#df9879"/><polygon points="580.9,279.6 588.4,276 582.3,272.7 574.9,276.4" fill="#5eeebe" stroke="#82dcc4"/><polygon points="663,276.4 670.3,273.8 664.2,270.5 656.9,273" fill="#64efbb" stroke="#86dcc2"/><polygon points="430.3,337.1 437.6,344.9 432.1,327 424.6,319.1" fill="#179ce5" stroke="#56a9dc"/><polygon points="615.3,276.7 622.7,274 616.6,270.6 609.2,273.4" fill="#64efbb" stroke="#86dcc2"/><polygon points="345.9,253.5 353.6,247.3 347.9,248 340.3,254.3" fill="#8af2a7" stroke="#9edeb5"/><polygon points="132.1,273.3 140,270.8 134.6,267.4 126.7,269.9" fill="#64efbb" stroke="#86dcc2"/><polygon points="317.5,312.2 325.1,303.6 319.6,306.6 312,314.5" fill="#20c6d9" stroke="#5cc3d4"/><polygon points="212.3,283.8 220.3,283.2 214.6,277.9 206.8,279" fill="#52e9c4" stroke="#7bd9c7"/><polygon points="339.9,151.3 347.6,154 341.8,140 334,136.3" fill="#f35f34" stroke="#df836e"/><polygon points="676.5,277.2 683.8,274.7 677.6,271.3 670.3,273.8" fill="#64efbb" stroke="#86dcc2"/><polygon points="321,195.5 328.7,191.5 322.7,172.2 315.1,177.1" fill="#f3ac60" stroke="#dfb389"/><polygon points="271.1,152.6 278.5,141.6 273.2,146.7 265.8,156.7" fill="#f36839" stroke="#df8971"/><polygon points="145.4,274.2 153.3,271.7 147.9,268.3 140,270.8" fill="#64efbb" stroke="#86dcc2"/><polygon points="393.7,247.1 401.3,251.7 395.5,251.2 387.9,247.4" fill="#8ef1a4" stroke="#a0deb4"/><polygon points="628.8,277.3 636.1,274.7 630,271.4 622.7,274" fill="#64efbb" stroke="#86dcc2"/><polygon points="313.4,201.6 321,195.5 315.1,177.1 307.5,184.3" fill="#ecb566" stroke="#dbb88d"/><polygon points="434.2,353.1 441.6,360.7 435.9,351.3 428.5,343.1" fill="#3574ec" stroke="#6990e0"/><polygon points="302.2,321.1 309.9,317.9 304.4,319.5 296.7,321.8" fill="#0eb5df" stroke="#51b8d8"/><polygon points="542.9,308.3 550.6,300.7 544.5,299.3 536.8,307.8" fill="#2dd2d4" stroke="#64cad1"/><polygon points="301.4,122.3 309.1,121.5 303.7,127.7 296,128.7" fill="#f3301c" stroke="#df665f"/><polygon points="440,358.5 447.4,365.3 441.6,360.7 434.2,353.1" fill="#4065ee" stroke="#7087e1"/><polygon points="594.4,279.3 601.8,276.2 595.8,272.9 588.4,276" fill="#61efbd" stroke="#84dcc3"/><polygon points="237.1,298.9 245.1,300.4 239.5,294.8 231.5,293.8" fill="#36d9d0" stroke="#6acfcf"/><polygon points="690,278 697.3,275.5 691.1,272.1 683.8,274.7" fill="#64efbb" stroke="#86dcc2"/><polygon points="573.4,283.7 580.9,279.6 574.9,276.4 567.4,280.7" fill="#5aecc0" stroke="#80dbc5"/><polygon points="158.7,275.2 166.6,272.8 161.2,269.2 153.3,271.7" fill="#64efbb" stroke="#86dcc2"/><polygon points="525.9,331.7 533.6,323.6 527.4,325.9 519.6,335.3" fill="#0ea7e3" stroke="#51b0db"/><polygon points="198.9,280.4 206.8,279 201.2,274.4 193.3,276.2" fill="#5aecc0" stroke="#80dbc5"/><polygon points="642.3,278.1 649.6,275.5 643.5,272.2 636.1,274.7" fill="#64efbb" stroke="#86dcc2"/><polygon points="480.3,361.5 487.8,360.4 481.6,367.1 474.1,367.7" fill="#465cef" stroke="#7481e2"/><polygon points="336.5,273.3 344,261.3 338.4,263.1 330.9,274.7" fill="#6ef2b6" stroke="#8cdebf"/><polygon points="366.9,243.5 374.6,244.6 368.9,245 361.2,244.6" fill="#97ef9f" stroke="#a6dcb0"/><polygon points="172.1,276.4 179.9,274.2 174.5,270.4 166.6,272.8" fill="#62efbc" stroke="#85dcc2"/><polygon points="185.4,278 193.3,276.2 187.8,272.1 179.9,274.2" fill="#5feebd" stroke="#83dcc3"/><polygon points="262,314 269.9,316.3 264.3,312.4 256.4,310.1" fill="#1bc2da" stroke="#59c0d5"/><polygon points="380.3,243.7 387.9,247.4 382.2,247.5 374.6,244.6" fill="#96efa0" stroke="#a5dcb1"/><polygon points="279.1,202.3 286.5,189.8 280.6,177.7 273.2,191" fill="#edb466" stroke="#dbb88d"/><polygon points="550.6,300.7 558.2,294.1 552.2,292 544.5,299.3" fill="#3dddcd" stroke="#6ed1cd"/><polygon points="217.9,288.6 225.9,288.5 220.3,283.2 212.3,283.8" fill="#4ce6c7" stroke="#77d7c9"/><polygon points="565.9,288.5 573.4,283.7 567.4,280.7 559.8,285.8" fill="#53e9c4" stroke="#7cd9c7"/><polygon points="607.9,279.5 615.3,276.7 609.2,273.4 601.8,276.2" fill="#63efbc" stroke="#86dcc2"/><polygon points="655.7,278.9 663,276.4 656.9,273 649.6,275.5" fill="#64efbb" stroke="#86dcc2"/><polygon points="292.5,204.3 299.9,193.6 293.9,178 286.5,189.8" fill="#ecb567" stroke="#dbb88e"/><polygon points="124.2,275.8 132.1,273.3 126.7,269.9 118.8,272.4" fill="#64efbb" stroke="#86dcc2"/><polygon points="558.2,294.1 565.9,288.5 559.8,285.8 552.2,292" fill="#49e5c8" stroke="#75d6ca"/><polygon points="267.5,182.9 274.8,169.3 269.2,165 261.8,178.4" fill="#f39653" stroke="#dfa581"/><polygon points="328.2,126.2 336,130.5 330.3,126.5 322.5,122" fill="#f32f1b" stroke="#df655f"/><polygon points="325.1,303.6 332.6,292.4 327.1,296 319.6,306.6" fill="#36d8d0" stroke="#6acecf"/><polygon points="669.2,279.8 676.5,277.2 670.3,273.8 663,276.4" fill="#64efbb" stroke="#86dcc2"/><polygon points="587,282.6 594.4,279.3 588.4,276 580.9,279.6" fill="#5feebe" stroke="#83dcc4"/><polygon points="412.9,255 420.4,259.1 414.6,256.1 407.1,252.6" fill="#87f2a8" stroke="#9cdeb6"/><polygon points="242.8,303.7 250.7,305.5 245.1,300.4 237.1,298.9" fill="#31d5d2" stroke="#67ccd0"/><polygon points="459.3,363.1 466.7,366.2 460.7,370 453.3,365.7" fill="#475bef" stroke="#7481e2"/><polygon points="621.4,280 628.8,277.3 622.7,274 615.3,276.7" fill="#64efbb" stroke="#86dcc2"/><polygon points="278.5,141.6 286,132.6 280.7,138.4 273.2,146.7" fill="#f34e2b" stroke="#df7969"/><polygon points="137.5,276.7 145.4,274.2 140,270.8 132.1,273.3" fill="#64efbb" stroke="#86dcc2"/><polygon points="533.6,323.6 541.3,315.8 535.1,316.8 527.4,325.9" fill="#14bbdd" stroke="#55bcd7"/><polygon points="334,136.3 341.8,140 336,130.5 328.2,126.2" fill="#f33e23" stroke="#df6f64"/><polygon points="430.1,283 437.6,287.3 431.9,274 424.5,269.4" fill="#5feebe" stroke="#83dcc4"/><polygon points="281,321 288.9,322 283.4,320.8 275.5,319.1" fill="#11b8de" stroke="#53bad8"/><polygon points="273.2,191 280.6,177.7 274.8,169.3 267.5,182.9" fill="#f3a059" stroke="#dfab85"/><polygon points="293.7,126 301.4,122.3 296,128.7 288.3,132.3" fill="#f3301c" stroke="#df665f"/><polygon points="682.7,280.6 690,278 683.8,274.7 676.5,277.2" fill="#64efbb" stroke="#86dcc2"/><polygon points="269.2,165 276.5,152.1 271.1,152.6 263.7,164.8" fill="#f37540" stroke="#df9176"/><polygon points="204.4,284.7 212.3,283.8 206.8,279 198.9,280.4" fill="#57ebc2" stroke="#7edac6"/><polygon points="150.8,277.6 158.7,275.2 153.3,271.7 145.4,274.2" fill="#64efbb" stroke="#86dcc2"/><polygon points="330.4,169.6 338.1,168.9 332.1,150 324.4,150.6" fill="#f37741" stroke="#df9276"/><polygon points="634.9,280.7 642.3,278.1 636.1,274.7 628.8,277.3" fill="#64efbb" stroke="#86dcc2"/><polygon points="428.5,343.1 435.9,351.3 430.3,337.1 422.8,328.9" fill="#1d95e6" stroke="#5aa5dc"/><polygon points="294.4,322.1 302.2,321.1 296.7,321.8 288.9,322" fill="#11b7de" stroke="#53bad8"/><polygon points="334.6,283.5 342.1,270.4 336.5,273.3 329,286.1" fill="#60eebd" stroke="#84dcc3"/><polygon points="223.5,293.3 231.5,293.8 225.9,288.5 217.9,288.6" fill="#47e3c9" stroke="#74d5cb"/><polygon points="286,132.6 293.7,126 288.3,132.3 280.7,138.4" fill="#f33a21" stroke="#df6c62"/><polygon points="164.2,278.7 172.1,276.4 166.6,272.8 158.7,275.2" fill="#63efbc" stroke="#86dcc2"/><polygon points="696.2,281.4 703.5,278.9 697.3,275.5 690,278" fill="#64efbb" stroke="#86dcc2"/><polygon points="600.5,282.4 607.9,279.5 601.8,276.2 594.4,279.3" fill="#62efbc" stroke="#85dcc2"/><polygon points="191,282 198.9,280.4 193.3,276.2 185.4,278" fill="#5dedbe" stroke="#82dbc4"/><polygon points="177.6,280.1 185.4,278 179.9,274.2 172.1,276.4" fill="#61efbd" stroke="#84dcc3"/><polygon points="445.9,360.1 453.3,365.7 447.4,365.3 440,358.5" fill="#3f67ee" stroke="#6f88e1"/><polygon points="579.5,286.5 587,282.6 580.9,279.6 573.4,283.7" fill="#5becc0" stroke="#81dbc5"/><polygon points="648.4,281.5 655.7,278.9 649.6,275.5 642.3,278.1" fill="#64efbb" stroke="#86dcc2"/><polygon points="314.7,119.9 322.5,122 316.9,123.4 309.1,121.5" fill="#f32014" stroke="#df5c5a"/><polygon points="541.3,315.8 549.1,308.4 542.9,308.3 535.1,316.8" fill="#26ccd7" stroke="#60c7d3"/><polygon points="344,261.3 351.6,251.7 345.9,253.5 338.4,263.1" fill="#87f2a8" stroke="#9cdeb6"/><polygon points="267.5,317 275.5,319.1 269.9,316.3 262,314" fill="#1bc2da" stroke="#59c0d5"/><polygon points="248.4,308 256.4,310.1 250.7,305.5 242.8,303.7" fill="#2dd2d4" stroke="#64cad1"/><polygon points="359.2,245.7 366.9,243.5 361.2,244.6 353.6,247.3" fill="#9cee9c" stroke="#a9dcaf"/><polygon points="661.9,282.3 669.2,279.8 663,276.4 655.7,278.9" fill="#64efbb" stroke="#86dcc2"/><polygon points="614,282.7 621.4,280 615.3,276.7 607.9,279.5" fill="#63efbc" stroke="#86dcc2"/><polygon points="129.6,279.2 137.5,276.7 132.1,273.3 124.2,275.8" fill="#64efbb" stroke="#86dcc2"/><polygon points="299.9,193.6 307.5,184.3 301.5,167.6 293.9,178" fill="#f39d57" stroke="#dfaa84"/><polygon points="418.7,260.2 426.2,264.7 420.4,259.1 412.9,255" fill="#85f2a9" stroke="#9bdeb7"/><polygon points="571.9,290.9 579.5,286.5 573.4,283.7 565.9,288.5" fill="#55eac2" stroke="#7dd9c6"/><polygon points="428.3,294.2 435.8,300.3 430.1,283 422.7,276.5" fill="#52e9c4" stroke="#7bd9c7"/><polygon points="424.5,269.4 431.9,274 426.2,264.7 418.7,260.2" fill="#79f3b0" stroke="#93dfbb"/><polygon points="332.1,150 339.9,151.3 334,136.3 326.2,134.4" fill="#f34d2b" stroke="#df7869"/><polygon points="399.5,247.2 407.1,252.6 401.3,251.7 393.7,247.1" fill="#97ef9f" stroke="#a6dcb0"/><polygon points="472.9,360.9 480.3,361.5 474.1,367.7 466.7,366.2" fill="#3f67ee" stroke="#6f88e1"/><polygon points="549.1,308.4 556.7,301.8 550.6,300.7 542.9,308.3" fill="#35d8d1" stroke="#69cecf"/><polygon points="675.4,283.1 682.7,280.6 676.5,277.2 669.2,279.8" fill="#64efbb" stroke="#86dcc2"/><polygon points="210,289.1 217.9,288.6 212.3,283.8 204.4,284.7" fill="#53e9c4" stroke="#7cd9c7"/><polygon points="229.1,298 237.1,298.9 231.5,293.8 223.5,293.3" fill="#42e0cb" stroke="#71d3cc"/><polygon points="142.9,280.1 150.8,277.6 145.4,274.2 137.5,276.7" fill="#64efbb" stroke="#86dcc2"/><polygon points="627.5,283.3 634.9,280.7 628.8,277.3 621.4,280" fill="#64efbb" stroke="#86dcc2"/><polygon points="593.1,285.6 600.5,282.4 594.4,279.3 587,282.6" fill="#60eebd" stroke="#84dcc3"/><polygon points="351.6,251.7 359.2,245.7 353.6,247.3 345.9,253.5" fill="#97ef9f" stroke="#a6dcb0"/><polygon points="564.4,295.9 571.9,290.9 565.9,288.5 558.2,294.1" fill="#4de7c6" stroke="#78d7c9"/><polygon points="556.7,301.8 564.4,295.9 558.2,294.1 550.6,300.7" fill="#43e1cb" stroke="#72d4cc"/><polygon points="286.5,189.8 293.9,178 288,165 280.6,177.7" fill="#f39552" stroke="#dfa581"/><polygon points="322.7,172.2 330.4,169.6 324.4,150.6 316.7,153.7" fill="#f37440" stroke="#df9076"/><polygon points="688.9,284 696.2,281.4 690,278 682.7,280.6" fill="#64efbb" stroke="#86dcc2"/><polygon points="156.3,281.1 164.2,278.7 158.7,275.2 150.8,277.6" fill="#63efbb" stroke="#86dcc2"/><polygon points="509.2,346.5 516.8,341.1 510.5,346.8 502.9,352.9" fill="#218fe8" stroke="#5da1de"/><polygon points="315.4,315.3 323,308.7 317.5,312.2 309.9,317.9" fill="#25cbd7" stroke="#5fc6d3"/><polygon points="641,284.1 648.4,281.5 642.3,278.1 634.9,280.7" fill="#64efbb" stroke="#86dcc2"/><polygon points="332.6,292.4 340.1,279.6 334.6,283.5 327.1,296" fill="#54eac3" stroke="#7cd9c7"/><polygon points="196.5,286 204.4,284.7 198.9,280.4 191,282" fill="#5bedc0" stroke="#81dbc5"/><polygon points="426.5,306.9 433.9,314.1 428.3,294.2 420.8,286.7" fill="#3edecd" stroke="#6fd2cd"/><polygon points="516.8,341.1 524.5,334.9 518.2,339.6 510.5,346.8" fill="#169de5" stroke="#56aadc"/><polygon points="169.7,282.3 177.6,280.1 172.1,276.4 164.2,278.7" fill="#62efbc" stroke="#85dcc2"/><polygon points="183.1,283.8 191,282 185.4,278 177.6,280.1" fill="#60eebd" stroke="#84dcc3"/><polygon points="307.5,184.3 315.1,177.1 309,159.4 301.5,167.6" fill="#f3884b" stroke="#df9d7c"/><polygon points="606.6,285.6 614,282.7 607.9,279.5 600.5,282.4" fill="#62efbc" stroke="#85dcc2"/><polygon points="501.6,350.7 509.2,346.5 502.9,352.9 495.3,357.5" fill="#2886e9" stroke="#619bde"/><polygon points="274.8,169.3 282.2,156.2 276.5,152.1 269.2,165" fill="#f3713e" stroke="#df8e74"/><polygon points="307.7,319.4 315.4,315.3 309.9,317.9 302.2,321.1" fill="#1ec4da" stroke="#5bc2d5"/><polygon points="654.6,284.9 661.9,282.3 655.7,278.9 648.4,281.5" fill="#64efbb" stroke="#86dcc2"/><polygon points="276.5,152.1 284,140.6 278.5,141.6 271.1,152.6" fill="#f3532e" stroke="#df7c6a"/><polygon points="254,311.8 262,314 256.4,310.1 248.4,308" fill="#2bd0d5" stroke="#63c9d2"/><polygon points="372.6,241.8 380.3,243.7 374.6,244.6 366.9,243.5" fill="#a4eb97" stroke="#aedaac"/><polygon points="386.1,242.5 393.7,247.1 387.9,247.4 380.3,243.7" fill="#a1ec99" stroke="#acdbad"/><polygon points="524.5,334.9 532.2,328.3 525.9,331.7 518.2,339.6" fill="#09ace1" stroke="#4eb3d9"/><polygon points="315.1,177.1 322.7,172.2 316.7,153.7 309,159.4" fill="#f37a43" stroke="#df9477"/><polygon points="424.6,319.1 432.1,327 426.5,306.9 419,299" fill="#29ced5" stroke="#62c8d2"/><polygon points="585.6,289.2 593.1,285.6 587,282.6 579.5,286.5" fill="#5cedbf" stroke="#81dbc4"/><polygon points="323,308.7 330.6,299.5 325.1,303.6 317.5,312.2" fill="#35d8d1" stroke="#69cecf"/><polygon points="286.6,321.8 294.4,322.1 288.9,322 281,321" fill="#19c0db" stroke="#58bfd6"/><polygon points="234.8,302.4 242.8,303.7 237.1,298.9 229.1,298" fill="#3edecd" stroke="#6fd2cd"/><polygon points="215.6,293.4 223.5,293.3 217.9,288.6 210,289.1" fill="#4fe8c5" stroke="#79d8c8"/><polygon points="668.1,285.7 675.4,283.1 669.2,279.8 661.9,282.3" fill="#64efbb" stroke="#86dcc2"/><polygon points="280.6,177.7 288,165 282.2,156.2 274.8,169.3" fill="#f37c44" stroke="#df9578"/><polygon points="620.2,286 627.5,283.3 621.4,280 614,282.7" fill="#63efbb" stroke="#86dcc2"/><polygon points="135,282.6 142.9,280.1 137.5,276.7 129.6,279.2" fill="#64efbb" stroke="#86dcc2"/><polygon points="342.1,270.4 349.6,258.4 344,261.3 336.5,273.3" fill="#80f3ac" stroke="#98dfb9"/><polygon points="273.1,319.3 281,321 275.5,319.1 267.5,317" fill="#1ec5d9" stroke="#5bc2d4"/><polygon points="320.4,124.1 328.2,126.2 322.5,122 314.7,119.9" fill="#f31910" stroke="#df5858"/><polygon points="532.2,328.3 539.9,321.4 533.6,323.6 525.9,331.7" fill="#15bcdd" stroke="#55bdd7"/><polygon points="306.9,120.6 314.7,119.9 309.1,121.5 301.4,122.3" fill="#f3140e" stroke="#df5557"/><polygon points="681.6,286.5 688.9,284 682.7,280.6 675.4,283.1" fill="#64efbb" stroke="#86dcc2"/><polygon points="494.1,353.6 501.6,350.7 495.3,357.5 487.8,360.4" fill="#2b82ea" stroke="#6399df"/><polygon points="148.4,283.6 156.3,281.1 150.8,277.6 142.9,280.1" fill="#64efbb" stroke="#86dcc2"/><polygon points="326.2,134.4 334,136.3 328.2,126.2 320.4,124.1" fill="#f32918" stroke="#df625d"/><polygon points="633.7,286.7 641,284.1 634.9,280.7 627.5,283.3" fill="#64efbb" stroke="#86dcc2"/><polygon points="578.1,293.2 585.6,289.2 579.5,286.5 571.9,290.9" fill="#58ebc1" stroke="#7fdac6"/><polygon points="202,290 210,289.1 204.4,284.7 196.5,286" fill="#58ecc1" stroke="#7fdbc6"/><polygon points="599.2,288.7 606.6,285.6 600.5,282.4 593.1,285.6" fill="#61eebd" stroke="#84dcc3"/><polygon points="161.7,284.6 169.7,282.3 164.2,278.7 156.3,281.1" fill="#63efbc" stroke="#86dcc2"/><polygon points="422.8,328.9 430.3,337.1 424.6,319.1 417.1,311.2" fill="#19c0db" stroke="#58bfd6"/><polygon points="539.9,321.4 547.6,314.8 541.3,315.8 533.6,323.6" fill="#24cad7" stroke="#5fc5d3"/><polygon points="647.2,287.5 654.6,284.9 648.4,281.5 641,284.1" fill="#64efbb" stroke="#86dcc2"/><polygon points="299.9,321.4 307.7,319.4 302.2,321.1 294.4,322.1" fill="#1ec4da" stroke="#5bc2d5"/><polygon points="175.1,285.9 183.1,283.8 177.6,280.1 169.7,282.3" fill="#61efbd" stroke="#84dcc3"/><polygon points="188.6,287.6 196.5,286 191,282 183.1,283.8" fill="#5eeebe" stroke="#82dcc4"/><polygon points="324.4,150.6 332.1,150 326.2,134.4 318.5,135" fill="#f34225" stroke="#df7165"/><polygon points="293.9,178 301.5,167.6 295.5,153.8 288,165" fill="#f37641" stroke="#df9176"/><polygon points="570.5,297.7 578.1,293.2 571.9,290.9 564.4,295.9" fill="#52e9c4" stroke="#7bd9c7"/><polygon points="405.3,249 412.9,255 407.1,252.6 399.5,247.2" fill="#9ced9c" stroke="#a9dbaf"/><polygon points="451.9,359 459.3,363.1 453.3,365.7 445.9,360.1" fill="#3477ec" stroke="#6892e0"/><polygon points="221.2,297.7 229.1,298 223.5,293.3 215.6,293.4" fill="#4ce6c7" stroke="#77d7c9"/><polygon points="240.4,306.5 248.4,308 242.8,303.7 234.8,302.4" fill="#3adcce" stroke="#6cd1ce"/><polygon points="284,140.6 291.5,131.1 286,132.6 278.5,141.6" fill="#f3341e" stroke="#df6860"/><polygon points="432.6,351.5 440,358.5 434.2,353.1 426.8,345.3" fill="#248ce8" stroke="#5f9fde"/><polygon points="547.6,314.8 555.3,308.5 549.1,308.4 541.3,315.8" fill="#32d6d2" stroke="#67cdd0"/><polygon points="612.7,288.8 620.2,286 614,282.7 606.6,285.6" fill="#63efbc" stroke="#86dcc2"/><polygon points="660.7,288.3 668.1,285.7 661.9,282.3 654.6,284.9" fill="#64efbb" stroke="#86dcc2"/><polygon points="259.6,315 267.5,317 262,314 254,311.8" fill="#2ad0d5" stroke="#62c9d2"/><polygon points="426.8,345.3 434.2,353.1 428.5,343.1 421,335.2" fill="#169de5" stroke="#56aadc"/><polygon points="562.9,302.8 570.5,297.7 564.4,295.9 556.7,301.8" fill="#49e5c8" stroke="#75d6ca"/><polygon points="330.6,299.5 338.2,287.9 332.6,292.4 325.1,303.6" fill="#4de7c6" stroke="#78d7c9"/><polygon points="555.3,308.5 562.9,302.8 556.7,301.8 549.1,308.4" fill="#3fdecd" stroke="#6fd2cd"/><polygon points="422.7,276.5 430.1,283 424.5,269.4 416.9,262.8" fill="#7af3b0" stroke="#94dfbb"/><polygon points="674.3,289.1 681.6,286.5 675.4,283.1 668.1,285.7" fill="#64efbb" stroke="#86dcc2"/><polygon points="591.7,292 599.2,288.7 593.1,285.6 585.6,289.2" fill="#5eeebe" stroke="#82dcc4"/><polygon points="299.2,124.3 306.9,120.6 301.4,122.3 293.7,126" fill="#f3140e" stroke="#df5557"/><polygon points="465.4,359 472.9,360.9 466.7,366.2 459.3,363.1" fill="#3279eb" stroke="#6793e0"/><polygon points="626.3,289.3 633.7,286.7 627.5,283.3 620.2,286" fill="#64efbb" stroke="#86dcc2"/><polygon points="140.4,286.1 148.4,283.6 142.9,280.1 135,282.6" fill="#64efbb" stroke="#86dcc2"/><polygon points="364.9,243.4 372.6,241.8 366.9,243.5 359.2,245.7" fill="#aae893" stroke="#b2d8a9"/><polygon points="282.2,156.2 289.7,144.5 284,140.6 276.5,152.1" fill="#f34d2a" stroke="#df7868"/><polygon points="340.1,279.6 347.7,266.5 342.1,270.4 334.6,283.5" fill="#76f2b2" stroke="#91debc"/><polygon points="486.6,355.1 494.1,353.6 487.8,360.4 480.3,361.5" fill="#2a84ea" stroke="#629adf"/><polygon points="291.5,131.1 299.2,124.3 293.7,126 286,132.6" fill="#f31f13" stroke="#df5b5a"/><polygon points="349.6,258.4 357.3,249 351.6,251.7 344,261.3" fill="#98ef9e" stroke="#a6dcb0"/><polygon points="207.6,294.1 215.6,293.4 210,289.1 202,290" fill="#56ebc2" stroke="#7edac6"/><polygon points="153.8,287 161.7,284.6 156.3,281.1 148.4,283.6" fill="#64efbb" stroke="#86dcc2"/><polygon points="639.8,290.1 647.2,287.5 641,284.1 633.7,286.7" fill="#64efbb" stroke="#86dcc2"/><polygon points="288,165 295.5,153.8 289.7,144.5 282.2,156.2" fill="#f35931" stroke="#df7f6c"/><polygon points="167.2,288.2 175.1,285.9 169.7,282.3 161.7,284.6" fill="#62efbc" stroke="#85dcc2"/><polygon points="194.1,291.5 202,290 196.5,286 188.6,287.6" fill="#5cedbf" stroke="#81dbc4"/><polygon points="605.3,291.7 612.7,288.8 606.6,285.6 599.2,288.7" fill="#62efbc" stroke="#85dcc2"/><polygon points="301.5,167.6 309,159.4 303.1,144.8 295.5,153.8" fill="#f35c32" stroke="#df816d"/><polygon points="316.7,153.7 324.4,150.6 318.5,135 310.7,138.4" fill="#f34124" stroke="#df7064"/><polygon points="180.6,289.6 188.6,287.6 183.1,283.8 175.1,285.9" fill="#60eebd" stroke="#84dcc3"/><polygon points="226.8,301.8 234.8,302.4 229.1,298 221.2,297.7" fill="#49e4c8" stroke="#75d6ca"/><polygon points="584.2,295.6 591.7,292 585.6,289.2 578.1,293.2" fill="#5becc0" stroke="#81dbc5"/><polygon points="653.4,290.9 660.7,288.3 654.6,284.9 647.2,287.5" fill="#64efbb" stroke="#86dcc2"/><polygon points="278.7,320.9 286.6,321.8 281,321 273.1,319.3" fill="#24cad7" stroke="#5fc5d3"/><polygon points="357.3,249 364.9,243.4 359.2,245.7 351.6,251.7" fill="#a6ea95" stroke="#afd9aa"/><polygon points="246,310.2 254,311.8 248.4,308 240.4,306.5" fill="#39dacf" stroke="#6ccfce"/><polygon points="312.6,124.7 320.4,124.1 314.7,119.9 306.9,120.6" fill="#f30d0a" stroke="#df5054"/><polygon points="438.5,354.2 445.9,360.1 440,358.5 432.6,351.5" fill="#258ae9" stroke="#5f9ede"/><polygon points="411.2,253.7 418.7,260.2 412.9,255 405.3,249" fill="#9cee9c" stroke="#a9dcaf"/><polygon points="391.9,241.9 399.5,247.2 393.7,247.1 386.1,242.5" fill="#ace792" stroke="#b3d7a8"/><polygon points="292.1,322 299.9,321.4 294.4,322.1 286.6,321.8" fill="#23cad8" stroke="#5ec5d4"/><polygon points="318.5,135 326.2,134.4 320.4,124.1 312.6,124.7" fill="#f31d12" stroke="#df5a59"/><polygon points="309,159.4 316.7,153.7 310.7,138.4 303.1,144.8" fill="#f34929" stroke="#df7567"/><polygon points="666.9,291.7 674.3,289.1 668.1,285.7 660.7,288.3" fill="#64efbb" stroke="#86dcc2"/><polygon points="421,335.2 428.5,343.1 422.8,328.9 415.3,321.3" fill="#13badd" stroke="#54bcd7"/><polygon points="618.9,292.1 626.3,289.3 620.2,286 612.7,288.8" fill="#63efbc" stroke="#86dcc2"/><polygon points="416.9,262.8 424.5,269.4 418.7,260.2 411.2,253.7" fill="#91f0a2" stroke="#a2ddb2"/><polygon points="378.4,239.9 386.1,242.5 380.3,243.7 372.6,241.8" fill="#b1e58f" stroke="#b6d6a7"/><polygon points="265.1,317.7 273.1,319.3 267.5,317 259.6,315" fill="#2cd1d4" stroke="#63cad1"/><polygon points="576.7,299.6 584.2,295.6 578.1,293.2 570.5,297.7" fill="#56ebc2" stroke="#7edac6"/><polygon points="213.2,298.1 221.2,297.7 215.6,293.4 207.6,294.1" fill="#53e9c3" stroke="#7cd9c7"/><polygon points="145.9,289.5 153.8,287 148.4,283.6 140.4,286.1" fill="#64efbb" stroke="#86dcc2"/><polygon points="632.4,292.7 639.8,290.1 633.7,286.7 626.3,289.3" fill="#64efbb" stroke="#86dcc2"/><polygon points="320.9,312.1 328.6,304.8 323,308.7 315.4,315.3" fill="#3bdcce" stroke="#6dd1ce"/><polygon points="597.8,294.8 605.3,291.7 599.2,288.7 591.7,292" fill="#60eebd" stroke="#84dcc3"/><polygon points="420.8,286.7 428.3,294.2 422.7,276.5 415.1,269.1" fill="#71f2b4" stroke="#8edebe"/><polygon points="289.7,144.5 297.2,135 291.5,131.1 284,140.6" fill="#f32d1a" stroke="#df645e"/><polygon points="313.2,317.1 320.9,312.1 315.4,315.3 307.7,319.4" fill="#30d4d3" stroke="#66ccd1"/><polygon points="159.3,290.5 167.2,288.2 161.7,284.6 153.8,287" fill="#63efbc" stroke="#86dcc2"/><polygon points="338.2,287.9 345.8,275 340.1,279.6 332.6,292.4" fill="#6df1b6" stroke="#8cdebf"/><polygon points="569.1,304 576.7,299.6 570.5,297.7 562.9,302.8" fill="#50e8c5" stroke="#7ad8c8"/><polygon points="646,293.5 653.4,290.9 647.2,287.5 639.8,290.1" fill="#64efbb" stroke="#86dcc2"/><polygon points="199.7,295.3 207.6,294.1 202,290 194.1,291.5" fill="#5becc0" stroke="#81dbc5"/><polygon points="232.4,305.7 240.4,306.5 234.8,302.4 226.8,301.8" fill="#46e3c9" stroke="#74d5cb"/><polygon points="295.5,153.8 303.1,144.8 297.2,135 289.7,144.5" fill="#f33b21" stroke="#df6d62"/><polygon points="172.7,291.7 180.6,289.6 175.1,285.9 167.2,288.2" fill="#62efbc" stroke="#85dcc2"/><polygon points="186.2,293.2 194.1,291.5 188.6,287.6 180.6,289.6" fill="#5feebe" stroke="#83dcc4"/><polygon points="479.1,355.4 486.6,355.1 480.3,361.5 472.9,360.9" fill="#248ce8" stroke="#5f9fde"/><polygon points="304.9,128.3 312.6,124.7 306.9,120.6 299.2,124.3" fill="#f30c0a" stroke="#df5054"/><polygon points="530.9,331.2 538.5,325.5 532.2,328.3 524.5,334.9" fill="#1cc3da" stroke="#5ac1d5"/><polygon points="523.2,336.4 530.9,331.2 524.5,334.9 516.8,341.1" fill="#12b9de" stroke="#53bbd8"/><polygon points="611.4,294.9 618.9,292.1 612.7,288.8 605.3,291.7" fill="#62efbc" stroke="#85dcc2"/><polygon points="561.5,308.9 569.1,304 562.9,302.8 555.3,308.5" fill="#48e4c9" stroke="#75d6cb"/><polygon points="659.6,294.3 666.9,291.7 660.7,288.3 653.4,290.9" fill="#64efbb" stroke="#86dcc2"/><polygon points="538.5,325.5 546.2,319.8 539.9,321.4 532.2,328.3" fill="#28cdd6" stroke="#61c7d3"/><polygon points="251.6,313.6 259.6,315 254,311.8 246,310.2" fill="#38dacf" stroke="#6bcfce"/><polygon points="310.7,138.4 318.5,135 312.6,124.7 304.9,128.3" fill="#f31b12" stroke="#df5959"/><polygon points="297.2,135 304.9,128.3 299.2,124.3 291.5,131.1" fill="#f3170f" stroke="#df5657"/><polygon points="328.6,304.8 336.2,295.1 330.6,299.5 323,308.7" fill="#4de6c6" stroke="#78d7c9"/><polygon points="553.8,314.2 561.5,308.9 555.3,308.5 547.6,314.8" fill="#3edecd" stroke="#6fd2cd"/><polygon points="546.2,319.8 553.8,314.2 547.6,314.8 539.9,321.4" fill="#33d6d1" stroke="#68cdcf"/><polygon points="347.7,266.5 355.3,254.7 349.6,258.4 342.1,270.4" fill="#94f0a1" stroke="#a4ddb2"/><polygon points="515.6,341.1 523.2,336.4 516.8,341.1 509.2,346.5" fill="#09b0e0" stroke="#4eb5d9"/><polygon points="419,299 426.5,306.9 420.8,286.7 413.3,279.4" fill="#5feebe" stroke="#83dcc4"/><polygon points="305.5,320.1 313.2,317.1 307.7,319.4 299.9,321.4" fill="#2ed2d4" stroke="#65cad1"/><polygon points="590.4,298.1 597.8,294.8 591.7,292 584.2,295.6" fill="#5dedbf" stroke="#82dbc4"/><polygon points="303.1,144.8 310.7,138.4 304.9,128.3 297.2,135" fill="#f32617" stroke="#df605c"/><polygon points="625,295.4 632.4,292.7 626.3,289.3 618.9,292.1" fill="#64efbb" stroke="#86dcc2"/><polygon points="218.8,302 226.8,301.8 221.2,297.7 213.2,298.1" fill="#51e9c4" stroke="#7ad9c7"/><polygon points="508,344.9 515.6,341.1 509.2,346.5 501.6,350.7" fill="#0ca9e2" stroke="#50b1da"/><polygon points="417.1,311.2 424.6,319.1 419,299 411.4,292" fill="#4ae5c8" stroke="#76d6ca"/><polygon points="151.3,293 159.3,290.5 153.8,287 145.9,289.5" fill="#64efbb" stroke="#86dcc2"/><polygon points="638.6,296.1 646,293.5 639.8,290.1 632.4,292.7" fill="#64efbb" stroke="#86dcc2"/><polygon points="458,356.2 465.4,359 459.3,363.1 451.9,359" fill="#228fe8" stroke="#5da1de"/><polygon points="284.2,321.8 292.1,322 286.6,321.8 278.7,320.9" fill="#2cd1d4" stroke="#63cad1"/><polygon points="205.2,299.1 213.2,298.1 207.6,294.1 199.7,295.3" fill="#59ecc1" stroke="#7fdbc6"/><polygon points="604,297.8 611.4,294.9 605.3,291.7 597.8,294.8" fill="#61efbd" stroke="#84dcc3"/><polygon points="164.8,294 172.7,291.7 167.2,288.2 159.3,290.5" fill="#63efbc" stroke="#86dcc2"/><polygon points="237.9,309.4 246,310.2 240.4,306.5 232.4,305.7" fill="#45e2ca" stroke="#73d4cb"/><polygon points="582.8,301.7 590.4,298.1 584.2,295.6 576.7,299.6" fill="#5aecc0" stroke="#80dbc5"/><polygon points="270.7,319.8 278.7,320.9 273.1,319.3 265.1,317.7" fill="#31d5d2" stroke="#67ccd0"/><polygon points="444.5,354.3 451.9,359 445.9,360.1 438.5,354.2" fill="#1d94e7" stroke="#5aa4dd"/><polygon points="397.7,242.9 405.3,249 399.5,247.2 391.9,241.9" fill="#b4e38d" stroke="#b8d5a5"/><polygon points="652.2,296.9 659.6,294.3 653.4,290.9 646,293.5" fill="#64efbb" stroke="#86dcc2"/><polygon points="178.2,295.3 186.2,293.2 180.6,289.6 172.7,291.7" fill="#61efbd" stroke="#84dcc3"/><polygon points="191.7,296.9 199.7,295.3 194.1,291.5 186.2,293.2" fill="#5eeebe" stroke="#82dcc4"/><polygon points="370.7,240.7 378.4,239.9 372.6,241.8 364.9,243.4" fill="#b9e089" stroke="#bbd3a3"/><polygon points="500.4,347.8 508,344.9 501.6,350.7 494.1,353.6" fill="#0ea6e3" stroke="#51afdb"/><polygon points="617.6,298.1 625,295.4 618.9,292.1 611.4,294.9" fill="#63efbc" stroke="#86dcc2"/><polygon points="415.3,321.3 422.8,328.9 417.1,311.2 409.6,304.6" fill="#3adbcf" stroke="#6cd0ce"/><polygon points="336.2,295.1 343.8,283.4 338.2,287.9 330.6,299.5" fill="#67f0ba" stroke="#88ddc1"/><polygon points="297.7,321.7 305.5,320.1 299.9,321.4 292.1,322" fill="#30d4d3" stroke="#66ccd1"/><polygon points="355.3,254.7 363,245.7 357.3,249 349.6,258.4" fill="#aae893" stroke="#b2d8a9"/><polygon points="257.1,316.5 265.1,317.7 259.6,315 251.6,313.6" fill="#3adbcf" stroke="#6cd0ce"/><polygon points="575.3,305.6 582.8,301.7 576.7,299.6 569.1,304" fill="#55eac2" stroke="#7dd9c6"/><polygon points="224.4,305.8 232.4,305.7 226.8,301.8 218.8,302" fill="#50e8c5" stroke="#7ad8c8"/><polygon points="425.1,344.8 432.6,351.5 426.8,345.3 419.3,338.2" fill="#09b0e0" stroke="#4eb5d9"/><polygon points="631.2,298.7 638.6,296.1 632.4,292.7 625,295.4" fill="#64efbb" stroke="#86dcc2"/><polygon points="596.5,300.9 604,297.8 597.8,294.8 590.4,298.1" fill="#5feebd" stroke="#83dcc3"/><polygon points="345.8,275 353.4,262.1 347.7,266.5 340.1,279.6" fill="#8df1a5" stroke="#a0deb4"/><polygon points="419.3,338.2 426.8,345.3 421,335.2 413.5,328.3" fill="#18bfdc" stroke="#57bfd6"/><polygon points="415.1,269.1 422.7,276.5 416.9,262.8 409.4,255.6" fill="#96efa0" stroke="#a5dcb1"/><polygon points="384.2,238.4 391.9,241.9 386.1,242.5 378.4,239.9" fill="#bedd86" stroke="#bed1a1"/><polygon points="363,245.7 370.7,240.7 364.9,243.4 357.3,249" fill="#b7e18b" stroke="#bad4a4"/><polygon points="471.6,354.6 479.1,355.4 472.9,360.9 465.4,359" fill="#1a99e6" stroke="#58a7dc"/><polygon points="156.8,296.5 164.8,294 159.3,290.5 151.3,293" fill="#64efbb" stroke="#86dcc2"/><polygon points="567.7,309.9 575.3,305.6 569.1,304 561.5,308.9" fill="#4fe8c5" stroke="#79d8c8"/><polygon points="644.8,299.5 652.2,296.9 646,293.5 638.6,296.1" fill="#64efbb" stroke="#86dcc2"/><polygon points="210.8,302.9 218.8,302 213.2,298.1 205.2,299.1" fill="#58ebc1" stroke="#7fdac6"/><polygon points="170.3,297.6 178.2,295.3 172.7,291.7 164.8,294" fill="#63efbc" stroke="#86dcc2"/><polygon points="243.5,312.8 251.6,313.6 246,310.2 237.9,309.4" fill="#45e2ca" stroke="#73d4cb"/><polygon points="197.2,300.6 205.2,299.1 199.7,295.3 191.7,296.9" fill="#5dedbf" stroke="#82dbc4"/><polygon points="183.7,298.9 191.7,296.9 186.2,293.2 178.2,295.3" fill="#61eebd" stroke="#84dcc3"/><polygon points="610.2,300.9 617.6,298.1 611.4,294.9 604,297.8" fill="#62efbc" stroke="#85dcc2"/><polygon points="560.1,314.4 567.7,309.9 561.5,308.9 553.8,314.2" fill="#48e4c8" stroke="#75d6ca"/><polygon points="403.6,247.1 411.2,253.7 405.3,249 397.7,242.9" fill="#b5e38c" stroke="#b8d5a5"/><polygon points="492.9,349.6 500.4,347.8 494.1,353.6 486.6,355.1" fill="#0da8e2" stroke="#50b0da"/><polygon points="589,304.2 596.5,300.9 590.4,298.1 582.8,301.7" fill="#5dedbf" stroke="#82dbc4"/><polygon points="431,348.5 438.5,354.2 432.6,351.5 425.1,344.8" fill="#0aabe1" stroke="#4eb2d9"/><polygon points="318.8,314.9 326.5,309.1 320.9,312.1 313.2,317.1" fill="#44e2ca" stroke="#72d4cb"/><polygon points="552.5,319.1 560.1,314.4 553.8,314.2 546.2,319.8" fill="#41e0cc" stroke="#70d3cc"/><polygon points="623.8,301.4 631.2,298.7 625,295.4 617.6,298.1" fill="#64efbb" stroke="#86dcc2"/><polygon points="326.5,309.1 334.2,301.3 328.6,304.8 320.9,312.1" fill="#51e8c5" stroke="#7ad8c8"/><polygon points="409.4,255.6 416.9,262.8 411.2,253.7 403.6,247.1" fill="#ace792" stroke="#b3d7a8"/><polygon points="276.3,321.4 284.2,321.8 278.7,320.9 270.7,319.8" fill="#37d9d0" stroke="#6acfcf"/><polygon points="229.9,309.4 237.9,309.4 232.4,305.7 224.4,305.8" fill="#4fe7c6" stroke="#79d7c9"/><polygon points="544.8,323.9 552.5,319.1 546.2,319.8 538.5,325.5" fill="#38dacf" stroke="#6bcfce"/><polygon points="413.5,328.3 421,335.2 415.3,321.3 407.7,315.2" fill="#32d6d2" stroke="#67cdd0"/><polygon points="637.4,302.1 644.8,299.5 638.6,296.1 631.2,298.7" fill="#64efbb" stroke="#86dcc2"/><polygon points="289.8,322.4 297.7,321.7 292.1,322 284.2,321.8" fill="#36d9d0" stroke="#6acfcf"/><polygon points="262.7,319 270.7,319.8 265.1,317.7 257.1,316.5" fill="#3dddcd" stroke="#6ed1cd"/><polygon points="311.1,318.8 318.8,314.9 313.2,317.1 305.5,320.1" fill="#3edecd" stroke="#6fd2cd"/><polygon points="537.2,328.6 544.8,323.9 538.5,325.5 530.9,331.2" fill="#30d4d3" stroke="#66ccd1"/><polygon points="602.7,303.8 610.2,300.9 604,297.8 596.5,300.9" fill="#61efbd" stroke="#84dcc3"/><polygon points="162.3,300 170.3,297.6 164.8,294 156.8,296.5" fill="#63efbc" stroke="#86dcc2"/><polygon points="581.5,307.7 589,304.2 582.8,301.7 575.3,305.6" fill="#5aecc0" stroke="#80dbc5"/><polygon points="216.4,306.5 224.4,305.8 218.8,302 210.8,302.9" fill="#57ebc2" stroke="#7edac6"/><polygon points="343.8,283.4 351.4,270.8 345.8,275 338.2,287.9" fill="#85f2a9" stroke="#9bdeb7"/><polygon points="413.3,279.4 420.8,286.7 415.1,269.1 407.5,262.3" fill="#8ff1a4" stroke="#a1deb4"/><polygon points="529.5,333.1 537.2,328.6 530.9,331.2 523.2,336.4" fill="#28ced6" stroke="#61c8d3"/><polygon points="175.8,301.1 183.7,298.9 178.2,295.3 170.3,297.6" fill="#62efbc" stroke="#85dcc2"/><polygon points="202.8,304.2 210.8,302.9 205.2,299.1 197.2,300.6" fill="#5cedbf" stroke="#81dbc4"/><polygon points="189.3,302.5 197.2,300.6 191.7,296.9 183.7,298.9" fill="#60eebd" stroke="#84dcc3"/><polygon points="334.2,301.3 341.8,291.4 336.2,295.1 328.6,304.8" fill="#65f0bb" stroke="#87ddc2"/><polygon points="249.2,315.9 257.1,316.5 251.6,313.6 243.5,312.8" fill="#45e3ca" stroke="#73d5cb"/><polygon points="353.4,262.1 361,250.8 355.3,254.7 347.7,266.5" fill="#a9e994" stroke="#b1d9aa"/><polygon points="616.3,304.1 623.8,301.4 617.6,298.1 610.2,300.9" fill="#63efbc" stroke="#86dcc2"/><polygon points="450.5,353 458,356.2 451.9,359 444.5,354.3" fill="#0fa6e3" stroke="#52afdb"/><polygon points="521.9,337.2 529.5,333.1 523.2,336.4 515.6,341.1" fill="#22c8d8" stroke="#5dc4d4"/><polygon points="573.9,311.4 581.5,307.7 575.3,305.6 567.7,309.9" fill="#56ebc2" stroke="#7edac6"/><polygon points="485.3,350.5 492.9,349.6 486.6,355.1 479.1,355.4" fill="#08ade1" stroke="#4db3d9"/><polygon points="376.5,238.4 384.2,238.4 378.4,239.9 370.7,240.7" fill="#c8d67f" stroke="#c4cd9d"/><polygon points="630,304.8 637.4,302.1 631.2,298.7 623.8,301.4" fill="#64efbb" stroke="#86dcc2"/><polygon points="411.4,292 419,299 413.3,279.4 405.7,273.5" fill="#7ef3ad" stroke="#96dfb9"/><polygon points="595.2,306.9 602.7,303.8 596.5,300.9 589,304.2" fill="#5feebd" stroke="#83dcc3"/><polygon points="303.3,321.3 311.1,318.8 305.5,320.1 297.7,321.7" fill="#3edecd" stroke="#6fd2cd"/><polygon points="235.5,312.8 243.5,312.8 237.9,309.4 229.9,309.4" fill="#4ee7c6" stroke="#79d7c9"/><polygon points="390,238.6 397.7,242.9 391.9,241.9 384.2,238.4" fill="#c8d680" stroke="#c4cd9d"/><polygon points="464.1,353 471.6,354.6 465.4,359 458,356.2" fill="#0ca9e2" stroke="#50b1da"/><polygon points="436.9,349.9 444.5,354.3 438.5,354.2 431,348.5" fill="#0ab0e0" stroke="#4eb5d9"/><polygon points="409.6,304.6 417.1,311.2 411.4,292 403.8,286.9" fill="#69f0b9" stroke="#89ddc1"/><polygon points="514.3,340.7 521.9,337.2 515.6,341.1 508,344.9" fill="#1ec4da" stroke="#5bc2d5"/><polygon points="566.3,315.2 573.9,311.4 567.7,309.9 560.1,314.4" fill="#51e8c4" stroke="#7ad8c7"/><polygon points="222,310.1 229.9,309.4 224.4,305.8 216.4,306.5" fill="#56ebc2" stroke="#7edac6"/><polygon points="167.8,303.5 175.8,301.1 170.3,297.6 162.3,300" fill="#63efbc" stroke="#86dcc2"/><polygon points="608.9,306.9 616.3,304.1 610.2,300.9 602.7,303.8" fill="#62efbc" stroke="#85dcc2"/><polygon points="181.3,304.6 189.3,302.5 183.7,298.9 175.8,301.1" fill="#62efbc" stroke="#85dcc2"/><polygon points="208.4,307.9 216.4,306.5 210.8,302.9 202.8,304.2" fill="#5cedbf" stroke="#81dbc4"/><polygon points="194.8,306.1 202.8,304.2 197.2,300.6 189.3,302.5" fill="#5feebd" stroke="#83dcc3"/><polygon points="268.3,321.2 276.3,321.4 270.7,319.8 262.7,319" fill="#41e0cc" stroke="#70d3cc"/><polygon points="361,250.8 368.7,242.6 363,245.7 355.3,254.7" fill="#bddd87" stroke="#bdd1a2"/><polygon points="281.9,322.8 289.8,322.4 284.2,321.8 276.3,321.4" fill="#3edecd" stroke="#6fd2cd"/><polygon points="587.7,310.1 595.2,306.9 589,304.2 581.5,307.7" fill="#5dedbe" stroke="#82dbc4"/><polygon points="341.8,291.4 349.5,280 343.8,283.4 336.2,295.1" fill="#7ff3ad" stroke="#97dfb9"/><polygon points="558.7,319.3 566.3,315.2 560.1,314.4 552.5,319.1" fill="#4ce6c7" stroke="#77d7c9"/><polygon points="368.7,242.6 376.5,238.4 370.7,240.7 363,245.7" fill="#c8d67f" stroke="#c4cd9d"/><polygon points="622.5,307.5 630,304.8 623.8,301.4 616.3,304.1" fill="#64efbb" stroke="#86dcc2"/><polygon points="407.7,315.2 415.3,321.3 409.6,304.6 401.9,300.1" fill="#56ebc2" stroke="#7edac6"/><polygon points="254.8,318.8 262.7,319 257.1,316.5 249.2,315.9" fill="#47e4c9" stroke="#74d6cb"/><polygon points="506.7,343.5 514.3,340.7 508,344.9 500.4,347.8" fill="#1cc2da" stroke="#5ac0d5"/><polygon points="351.4,270.8 359.1,258.4 353.4,262.1 345.8,275" fill="#a2eb98" stroke="#addaac"/><polygon points="417.5,339.3 425.1,344.8 419.3,338.2 411.7,332.5" fill="#25cbd7" stroke="#5fc6d3"/><polygon points="295.4,322.9 303.3,321.3 297.7,321.7 289.8,322.4" fill="#41e0cc" stroke="#70d3cc"/><polygon points="551.1,323.4 558.7,319.3 552.5,319.1 544.8,323.9" fill="#46e3ca" stroke="#74d5cb"/><polygon points="241.2,316.1 249.2,315.9 243.5,312.8 235.5,312.8" fill="#4fe7c5" stroke="#79d7c8"/><polygon points="411.7,332.5 419.3,338.2 413.5,328.3 405.9,323.1" fill="#34d7d1" stroke="#68cecf"/><polygon points="601.4,309.8 608.9,306.9 602.7,303.8 595.2,306.9" fill="#61efbd" stroke="#84dcc3"/><polygon points="407.5,262.3 415.1,269.1 409.4,255.6 401.7,249.6" fill="#b0e58f" stroke="#b5d6a7"/><polygon points="324.4,313.3 332.2,307 326.5,309.1 318.8,314.9" fill="#57ebc2" stroke="#7edac6"/><polygon points="580.1,313.4 587.7,310.1 581.5,307.7 573.9,311.4" fill="#5becc0" stroke="#81dbc5"/><polygon points="477.8,350.7 485.3,350.5 479.1,355.4 471.6,354.6" fill="#0fb6df" stroke="#52b9d8"/><polygon points="227.6,313.6 235.5,312.8 229.9,309.4 222,310.1" fill="#56ebc2" stroke="#7edac6"/><polygon points="173.3,307 181.3,304.6 175.8,301.1 167.8,303.5" fill="#63efbc" stroke="#86dcc2"/><polygon points="395.9,241.9 403.6,247.1 397.7,242.9 390,238.6" fill="#cbd47e" stroke="#c6cc9c"/><polygon points="316.7,317.9 324.4,313.3 318.8,314.9 311.1,318.8" fill="#4fe7c6" stroke="#79d7c9"/><polygon points="543.5,327.4 551.1,323.4 544.8,323.9 537.2,328.6" fill="#40dfcc" stroke="#70d2cc"/><polygon points="332.2,307 339.9,299 334.2,301.3 326.5,309.1" fill="#65f0bb" stroke="#87ddc2"/><polygon points="186.9,308.2 194.8,306.1 189.3,302.5 181.3,304.6" fill="#61efbc" stroke="#84dcc2"/><polygon points="615,310.2 622.5,307.5 616.3,304.1 608.9,306.9" fill="#63efbc" stroke="#86dcc2"/><polygon points="214,311.4 222,310.1 216.4,306.5 208.4,307.9" fill="#5bedc0" stroke="#81dbc5"/><polygon points="200.4,309.6 208.4,307.9 202.8,304.2 194.8,306.1" fill="#5feebe" stroke="#83dcc4"/><polygon points="423.4,343.6 431,348.5 425.1,344.8 417.5,339.3" fill="#1fc6d9" stroke="#5bc3d4"/><polygon points="499.1,345.6 506.7,343.5 500.4,347.8 492.9,349.6" fill="#1cc3da" stroke="#5ac1d5"/><polygon points="572.6,316.8 580.1,313.4 573.9,311.4 566.3,315.2" fill="#57ebc1" stroke="#7edac6"/><polygon points="401.7,249.6 409.4,255.6 403.6,247.1 395.9,241.9" fill="#c4d982" stroke="#c2cf9e"/><polygon points="593.8,312.8 601.4,309.8 595.2,306.9 587.7,310.1" fill="#60eebd" stroke="#84dcc3"/><polygon points="535.9,331.3 543.5,327.4 537.2,328.6 529.5,333.1" fill="#3adcce" stroke="#6cd1ce"/><polygon points="405.9,323.1 413.5,328.3 407.7,315.2 400,311.3" fill="#4ce6c7" stroke="#77d7c9"/><polygon points="382.3,237.6 390,238.6 384.2,238.4 376.5,238.4" fill="#d4cc77" stroke="#ccc798"/><polygon points="274,323.2 281.9,322.8 276.3,321.4 268.3,321.2" fill="#47e3c9" stroke="#74d5cb"/><polygon points="308.9,321.2 316.7,317.9 311.1,318.8 303.3,321.3" fill="#4be6c7" stroke="#77d7c9"/><polygon points="260.4,321.4 268.3,321.2 262.7,319 254.8,318.8" fill="#4ae5c7" stroke="#76d6c9"/><polygon points="349.5,280 357.2,268 351.4,270.8 343.8,283.4" fill="#9aee9d" stroke="#a8dcaf"/><polygon points="442.9,349.9 450.5,353 444.5,354.3 436.9,349.9" fill="#15bcdd" stroke="#55bdd7"/><polygon points="339.9,299 347.5,289.4 341.8,291.4 334.2,301.3" fill="#79f3b0" stroke="#93dfbb"/><polygon points="456.5,351.2 464.1,353 458,356.2 450.5,353" fill="#13b9dd" stroke="#54bbd7"/><polygon points="287.5,324.1 295.4,322.9 289.8,322.4 281.9,322.8" fill="#47e3c9" stroke="#74d5cb"/><polygon points="246.8,319.2 254.8,318.8 249.2,315.9 241.2,316.1" fill="#50e8c5" stroke="#7ad8c8"/><polygon points="607.5,313 615,310.2 608.9,306.9 601.4,309.8" fill="#62efbc" stroke="#85dcc2"/><polygon points="359.1,258.4 366.8,248 361,250.8 353.4,262.1" fill="#bcde87" stroke="#bdd2a2"/><polygon points="405.7,273.5 413.3,279.4 407.5,262.3 399.9,257.7" fill="#a7e995" stroke="#b0d9aa"/><polygon points="528.2,334.9 535.9,331.3 529.5,333.1 521.9,337.2" fill="#36d9d0" stroke="#6acfcf"/><polygon points="565,320.4 572.6,316.8 566.3,315.2 558.7,319.3" fill="#54eac3" stroke="#7cd9c7"/><polygon points="178.9,310.5 186.9,308.2 181.3,304.6 173.3,307" fill="#63efbc" stroke="#86dcc2"/><polygon points="233.2,316.9 241.2,316.1 235.5,312.8 227.6,313.6" fill="#56ebc2" stroke="#7edac6"/><polygon points="192.4,311.7 200.4,309.6 194.8,306.1 186.9,308.2" fill="#61efbd" stroke="#84dcc3"/><polygon points="586.3,315.9 593.8,312.8 587.7,310.1 580.1,313.4" fill="#5eeebe" stroke="#82dcc4"/><polygon points="219.6,314.9 227.6,313.6 222,310.1 214,311.4" fill="#5bedc0" stroke="#81dbc5"/><polygon points="206,313.1 214,311.4 208.4,307.9 200.4,309.6" fill="#5feebe" stroke="#83dcc4"/><polygon points="403.8,286.9 411.4,292 405.7,273.5 398,270.1" fill="#95f0a0" stroke="#a5ddb1"/><polygon points="401.9,300.1 409.6,304.6 403.8,286.9 396.1,284.3" fill="#80f3ac" stroke="#98dfb9"/><polygon points="429.4,346 436.9,349.9 431,348.5 423.4,343.6" fill="#21c7d8" stroke="#5dc4d4"/><polygon points="491.6,347 499.1,345.6 492.9,349.6 485.3,350.5" fill="#20c6d9" stroke="#5cc3d4"/><polygon points="301,323.6 308.9,321.2 303.3,321.3 295.4,322.9" fill="#4ce6c7" stroke="#77d7c9"/><polygon points="557.4,323.9 565,320.4 558.7,319.3 551.1,323.4" fill="#50e8c5" stroke="#7ad8c8"/><polygon points="470.2,350.3 477.8,350.7 471.6,354.6 464.1,353" fill="#19c0db" stroke="#58bfd6"/><polygon points="520.6,338.2 528.2,334.9 521.9,337.2 514.3,340.7" fill="#33d6d2" stroke="#68cdd0"/><polygon points="374.5,240.7 382.3,237.6 376.5,238.4 368.7,242.6" fill="#d7ca75" stroke="#cec596"/><polygon points="600,315.8 607.5,313 601.4,309.8 593.8,312.8" fill="#62efbc" stroke="#85dcc2"/><polygon points="366.8,248 374.5,240.7 368.7,242.6 361,250.8" fill="#ced17b" stroke="#c8ca9a"/><polygon points="347.5,289.4 355.2,278.8 349.5,280 341.8,291.4" fill="#90f1a3" stroke="#a1deb3"/><polygon points="400,311.3 407.7,315.2 401.9,300.1 394.2,297.9" fill="#6df1b6" stroke="#8cdebf"/><polygon points="578.8,319 586.3,315.9 580.1,313.4 572.6,316.8" fill="#5cedbf" stroke="#81dbc4"/><polygon points="266,323.9 274,323.2 268.3,321.2 260.4,321.4" fill="#4ee7c6" stroke="#79d7c9"/><polygon points="330.1,312.7 337.9,306.4 332.2,307 324.4,313.3" fill="#66f0ba" stroke="#87ddc1"/><polygon points="549.8,327.5 557.4,323.9 551.1,323.4 543.5,327.4" fill="#4ce6c7" stroke="#77d7c9"/><polygon points="252.4,322.1 260.4,321.4 254.8,318.8 246.8,319.2" fill="#52e9c4" stroke="#7bd9c7"/><polygon points="184.4,314 192.4,311.7 186.9,308.2 178.9,310.5" fill="#63efbc" stroke="#86dcc2"/><polygon points="279.6,325.1 287.5,324.1 281.9,322.8 274,323.2" fill="#4de6c6" stroke="#78d7c9"/><polygon points="322.4,317.7 330.1,312.7 324.4,313.3 316.7,317.9" fill="#5dedbf" stroke="#82dbc4"/><polygon points="388.1,239.8 395.9,241.9 390,238.6 382.3,237.6" fill="#dac773" stroke="#cfc495"/><polygon points="357.2,268 364.9,256.7 359.1,258.4 351.4,270.8" fill="#b5e38c" stroke="#b8d5a5"/><polygon points="238.8,320.2 246.8,319.2 241.2,316.1 233.2,316.9" fill="#57ebc2" stroke="#7edac6"/><polygon points="198,315.2 206,313.1 200.4,309.6 192.4,311.7" fill="#61eebd" stroke="#84dcc3"/><polygon points="225.2,318.3 233.2,316.9 227.6,313.6 219.6,314.9" fill="#5bedc0" stroke="#81dbc5"/><polygon points="409.9,335.3 417.5,339.3 411.7,332.5 404,328.6" fill="#3dddce" stroke="#6ed1ce"/><polygon points="211.6,316.6 219.6,314.9 214,311.4 206,313.1" fill="#5feebe" stroke="#83dcc4"/><polygon points="404,328.6 411.7,332.5 405.9,323.1 398.2,319.9" fill="#4be5c7" stroke="#77d6c9"/><polygon points="513,340.9 520.6,338.2 514.3,340.7 506.7,343.5" fill="#32d5d2" stroke="#67ccd0"/><polygon points="337.9,306.4 345.6,298.6 339.9,299 332.2,307" fill="#75f2b2" stroke="#91debc"/><polygon points="592.5,318.7 600,315.8 593.8,312.8 586.3,315.9" fill="#61eebd" stroke="#84dcc3"/><polygon points="399.9,257.7 407.5,262.3 401.7,249.6 394,246.3" fill="#c5d881" stroke="#c2ce9e"/><polygon points="571.2,322.2 578.8,319 572.6,316.8 565,320.4" fill="#5aecc0" stroke="#80dbc5"/><polygon points="293.2,325.4 301,323.6 295.4,322.9 287.5,324.1" fill="#4fe7c5" stroke="#79d7c8"/><polygon points="314.6,321.6 322.4,317.7 316.7,317.9 308.9,321.2" fill="#57ebc1" stroke="#7edac6"/><polygon points="542.1,331 549.8,327.5 543.5,327.4 535.9,331.3" fill="#48e4c8" stroke="#75d6ca"/><polygon points="484,347.9 491.6,347 485.3,350.5 477.8,350.7" fill="#26ccd7" stroke="#60c7d3"/><polygon points="398.2,319.9 405.9,323.1 400,311.3 392.3,309.5" fill="#60eebd" stroke="#84dcc3"/><polygon points="415.8,340 423.4,343.6 417.5,339.3 409.9,335.3" fill="#36d8d0" stroke="#6acecf"/><polygon points="394,246.3 401.7,249.6 395.9,241.9 388.1,239.8" fill="#d6ca76" stroke="#cdc597"/><polygon points="449,349.4 456.5,351.2 450.5,353 442.9,349.9" fill="#23c9d8" stroke="#5ec5d4"/><polygon points="345.6,298.6 353.3,289.7 347.5,289.4 339.9,299" fill="#87f2a8" stroke="#9cdeb6"/><polygon points="355.2,278.8 363,267.9 357.2,268 349.5,280" fill="#a9e994" stroke="#b1d9aa"/><polygon points="435.3,347.2 442.9,349.9 436.9,349.9 429.4,346" fill="#28ced6" stroke="#61c8d3"/><polygon points="563.6,325.4 571.2,322.2 565,320.4 557.4,323.9" fill="#57ebc1" stroke="#7edac6"/><polygon points="585,321.6 592.5,318.7 586.3,315.9 578.8,319" fill="#5feebd" stroke="#83dcc3"/><polygon points="190,317.5 198,315.2 192.4,311.7 184.4,314" fill="#62efbc" stroke="#85dcc2"/><polygon points="505.4,343.2 513,340.9 506.7,343.5 499.1,345.6" fill="#32d6d2" stroke="#67cdd0"/><polygon points="534.5,334.2 542.1,331 535.9,331.3 528.2,334.9" fill="#45e3ca" stroke="#73d5cb"/><polygon points="203.6,318.7 211.6,316.6 206,313.1 198,315.2" fill="#61eebd" stroke="#84dcc3"/><polygon points="398,270.1 405.7,273.5 399.9,257.7 392.1,256.2" fill="#b9e089" stroke="#bbd3a3"/><polygon points="462.6,349.6 470.2,350.3 464.1,353 456.5,351.2" fill="#25cbd7" stroke="#5fc6d3"/><polygon points="306.7,324.6 314.6,321.6 308.9,321.2 301,323.6" fill="#56ebc2" stroke="#7edac6"/><polygon points="364.9,256.7 372.6,247.5 366.8,248 359.1,258.4" fill="#cbd37d" stroke="#c6cb9b"/><polygon points="258,325 266,323.9 260.4,321.4 252.4,322.1" fill="#55eac3" stroke="#7dd9c7"/><polygon points="244.4,323.3 252.4,322.1 246.8,319.2 238.8,320.2" fill="#58ebc1" stroke="#7fdac6"/><polygon points="217.2,320.1 225.2,318.3 219.6,314.9 211.6,316.6" fill="#5feebe" stroke="#83dcc4"/><polygon points="230.8,321.6 238.8,320.2 233.2,316.9 225.2,318.3" fill="#5cedbf" stroke="#81dbc4"/><polygon points="271.7,326.3 279.6,325.1 274,323.2 266,323.9" fill="#53e9c4" stroke="#7cd9c7"/><polygon points="394.2,297.9 401.9,300.1 396.1,284.3 388.3,284.5" fill="#8ef1a4" stroke="#a0deb4"/><polygon points="396.1,284.3 403.8,286.9 398,270.1 390.2,269.8" fill="#a5ea96" stroke="#aed9ab"/><polygon points="380.4,241.7 388.1,239.8 382.3,237.6 374.5,240.7" fill="#e0c16f" stroke="#d3c093"/><polygon points="285.3,327.1 293.2,325.4 287.5,324.1 279.6,325.1" fill="#53e9c4" stroke="#7cd9c7"/><polygon points="392.3,309.5 400,311.3 394.2,297.9 386.4,298.2" fill="#7bf3af" stroke="#94dfba"/><polygon points="556,328.6 563.6,325.4 557.4,323.9 549.8,327.5" fill="#55eac3" stroke="#7dd9c7"/><polygon points="353.3,289.7 361,280.3 355.2,278.8 347.5,289.4" fill="#9bee9c" stroke="#a8dcaf"/><polygon points="372.6,247.5 380.4,241.7 374.5,240.7 366.8,248" fill="#dac673" stroke="#cfc395"/><polygon points="421.7,343.2 429.4,346 423.4,343.6 415.8,340" fill="#35d8d0" stroke="#69cecf"/><polygon points="577.4,324.6 585,321.6 578.8,319 571.2,322.2" fill="#5eeebe" stroke="#82dcc4"/><polygon points="526.9,337.2 534.5,334.2 528.2,334.9 520.6,338.2" fill="#43e1cb" stroke="#72d4cc"/><polygon points="335.9,313.5 343.6,307.4 337.9,306.4 330.1,312.7" fill="#72f2b4" stroke="#8fdebe"/><polygon points="328.1,318.6 335.9,313.5 330.1,312.7 322.4,317.7" fill="#68f0b9" stroke="#89ddc1"/><polygon points="343.6,307.4 351.4,300.3 345.6,298.6 337.9,306.4" fill="#7ff3ad" stroke="#97dfb9"/><polygon points="497.8,345 505.4,343.2 499.1,345.6 491.6,347" fill="#35d8d1" stroke="#69cecf"/><polygon points="298.8,327.1 306.7,324.6 301,323.6 293.2,325.4" fill="#56ebc2" stroke="#7edac6"/><polygon points="476.4,348.4 484,347.9 477.8,350.7 470.2,350.3" fill="#2dd2d4" stroke="#64cad1"/><polygon points="195.6,321 203.6,318.7 198,315.2 190,317.5" fill="#62efbc" stroke="#85dcc2"/><polygon points="363,267.9 370.7,258.2 364.9,256.7 357.2,268" fill="#c0db85" stroke="#bfd0a0"/><polygon points="209.2,322.2 217.2,320.1 211.6,316.6 203.6,318.7" fill="#61eebd" stroke="#84dcc3"/><polygon points="396.3,326.5 404,328.6 398.2,319.9 390.4,318.7" fill="#5cedbf" stroke="#81dbc4"/><polygon points="320.3,322.8 328.1,318.6 322.4,317.7 314.6,321.6" fill="#61efbd" stroke="#84dcc3"/><polygon points="548.4,331.8 556,328.6 549.8,327.5 542.1,331" fill="#53e9c4" stroke="#7cd9c7"/><polygon points="222.8,323.5 230.8,321.6 225.2,318.3 217.2,320.1" fill="#5feebe" stroke="#83dcc4"/><polygon points="392.1,256.2 399.9,257.7 394,246.3 386.3,246.6" fill="#d2ce78" stroke="#cac898"/><polygon points="236.4,324.9 244.4,323.3 238.8,320.2 230.8,321.6" fill="#5cedbf" stroke="#81dbc4"/><polygon points="386.3,246.6 394,246.3 388.1,239.8 380.4,241.7" fill="#dfc270" stroke="#d2c093"/><polygon points="402.2,332.9 409.9,335.3 404,328.6 396.3,326.5" fill="#4fe8c5" stroke="#79d8c8"/><polygon points="250.1,326.4 258,325 252.4,322.1 244.4,323.3" fill="#5aecc0" stroke="#80dbc5"/><polygon points="351.4,300.3 359.1,292.6 353.3,289.7 345.6,298.6" fill="#8ef1a4" stroke="#a0deb4"/><polygon points="569.8,327.6 577.4,324.6 571.2,322.2 563.6,325.4" fill="#5cedbf" stroke="#81dbc4"/><polygon points="263.7,327.8 271.7,326.3 266,323.9 258,325" fill="#58ebc1" stroke="#7fdac6"/><polygon points="390.4,318.7 398.2,319.9 392.3,309.5 384.5,309.8" fill="#6ef1b6" stroke="#8cdebf"/><polygon points="519.3,340 526.9,337.2 520.6,338.2 513,340.9" fill="#43e1cb" stroke="#72d4cc"/><polygon points="361,280.3 368.8,271.2 363,267.9 355.2,278.8" fill="#b0e58f" stroke="#b5d6a7"/><polygon points="277.3,328.8 285.3,327.1 279.6,325.1 271.7,326.3" fill="#57ebc2" stroke="#7edac6"/><polygon points="386.4,298.2 394.2,297.9 388.3,284.5 380.6,287.2" fill="#95f0a0" stroke="#a5ddb1"/><polygon points="388.3,284.5 396.1,284.3 390.2,269.8 382.5,272.5" fill="#ace792" stroke="#b3d7a8"/><polygon points="441.3,347.9 449,349.4 442.9,349.9 435.3,347.2" fill="#32d6d2" stroke="#67cdd0"/><polygon points="390.2,269.8 398,270.1 392.1,256.2 384.4,258.2" fill="#c2da83" stroke="#c0cf9f"/><polygon points="312.4,326.2 320.3,322.8 314.6,321.6 306.7,324.6" fill="#5eeebe" stroke="#82dcc4"/><polygon points="408.1,337.8 415.8,340 409.9,335.3 402.2,332.9" fill="#48e4c8" stroke="#75d6ca"/><polygon points="370.7,258.2 378.5,250.7 372.6,247.5 364.9,256.7" fill="#d3cd78" stroke="#cbc798"/><polygon points="455,349 462.6,349.6 456.5,351.2 449,349.4" fill="#31d5d2" stroke="#67ccd0"/><polygon points="540.8,334.8 548.4,331.8 542.1,331 534.5,334.2" fill="#51e8c5" stroke="#7ad8c8"/><polygon points="384.5,309.8 392.3,309.5 386.4,298.2 378.7,300.6" fill="#82f3ab" stroke="#99dfb8"/><polygon points="359.1,292.6 366.9,284.8 361,280.3 353.3,289.7" fill="#9fed9a" stroke="#abdbad"/><polygon points="290.9,329.3 298.8,327.1 293.2,325.4 285.3,327.1" fill="#58ecc1" stroke="#7fdbc6"/><polygon points="378.5,250.7 386.3,246.6 380.4,241.7 372.6,247.5" fill="#dec371" stroke="#d2c194"/><polygon points="427.7,345.3 435.3,347.2 429.4,346 421.7,343.2" fill="#3adbcf" stroke="#6cd0ce"/><polygon points="201.2,324.5 209.2,322.2 203.6,318.7 195.6,321" fill="#62efbc" stroke="#85dcc2"/><polygon points="562.2,330.6 569.8,327.6 563.6,325.4 556,328.6" fill="#5bedc0" stroke="#81dbc5"/><polygon points="490.2,346.5 497.8,345 491.6,347 484,347.9" fill="#39dacf" stroke="#6ccfce"/><polygon points="214.8,325.7 222.8,323.5 217.2,320.1 209.2,322.2" fill="#61efbd" stroke="#84dcc3"/><polygon points="341.6,315.6 349.4,310 343.6,307.4 335.9,313.5" fill="#77f2b1" stroke="#92debc"/><polygon points="349.4,310 357.2,303.9 351.4,300.3 343.6,307.4" fill="#82f2ab" stroke="#99deb8"/><polygon points="511.7,342.4 519.3,340 513,340.9 505.4,343.2" fill="#43e1cb" stroke="#72d4cc"/><polygon points="228.4,326.9 236.4,324.9 230.8,321.6 222.8,323.5" fill="#5feebd" stroke="#83dcc3"/><polygon points="368.8,271.2 376.6,263.5 370.7,258.2 363,267.9" fill="#c3da83" stroke="#c1cf9f"/><polygon points="384.4,258.2 392.1,256.2 386.3,246.6 378.5,250.7" fill="#d6ca76" stroke="#cdc597"/><polygon points="333.8,320.5 341.6,315.6 335.9,313.5 328.1,318.6" fill="#6ff2b6" stroke="#8ddebf"/><polygon points="242.1,328.2 250.1,326.4 244.4,323.3 236.4,324.9" fill="#5eedbe" stroke="#82dbc4"/><polygon points="380.6,287.2 388.3,284.5 382.5,272.5 374.7,277.8" fill="#ace792" stroke="#b3d7a8"/><polygon points="378.7,300.6 386.4,298.2 380.6,287.2 372.8,291.8" fill="#95f0a0" stroke="#a5ddb1"/><polygon points="357.2,303.9 365,297.6 359.1,292.6 351.4,300.3" fill="#8ff1a4" stroke="#a1deb4"/><polygon points="468.8,348.7 476.4,348.4 470.2,350.3 462.6,349.6" fill="#36d9d0" stroke="#6acfcf"/><polygon points="366.9,284.8 374.7,277.8 368.8,271.2 361,280.3" fill="#afe690" stroke="#b5d7a7"/><polygon points="304.6,329.1 312.4,326.2 306.7,324.6 298.8,327.1" fill="#5dedbf" stroke="#82dbc4"/><polygon points="255.7,329.5 263.7,327.8 258,325 250.1,326.4" fill="#5cedbf" stroke="#81dbc4"/><polygon points="382.5,272.5 390.2,269.8 384.4,258.2 376.6,263.5" fill="#c3da83" stroke="#c1cf9f"/><polygon points="533.1,337.7 540.8,334.8 534.5,334.2 526.9,337.2" fill="#4fe8c5" stroke="#79d8c8"/><polygon points="365,297.6 372.8,291.8 366.9,284.8 359.1,292.6" fill="#9bee9d" stroke="#a8dcaf"/><polygon points="269.4,330.6 277.3,328.8 271.7,326.3 263.7,327.8" fill="#5becc0" stroke="#81dbc5"/><polygon points="376.6,263.5 384.4,258.2 378.5,250.7 370.7,258.2" fill="#d0cf7a" stroke="#c9c99a"/><polygon points="372.8,291.8 380.6,287.2 374.7,277.8 366.9,284.8" fill="#a5ea96" stroke="#aed9ab"/><polygon points="326,324.7 333.8,320.5 328.1,318.6 320.3,322.8" fill="#68f0b9" stroke="#89ddc1"/><polygon points="414,341.5 421.7,343.2 415.8,340 408.1,337.8" fill="#46e3c9" stroke="#74d5cb"/><polygon points="374.7,277.8 382.5,272.5 376.6,263.5 368.8,271.2" fill="#bcde88" stroke="#bdd2a2"/><polygon points="382.6,319.3 390.4,318.7 384.5,309.8 376.8,311.8" fill="#75f2b2" stroke="#91debc"/><polygon points="554.6,333.5 562.2,330.6 556,328.6 548.4,331.8" fill="#5aecc0" stroke="#80dbc5"/><polygon points="388.5,326.2 396.3,326.5 390.4,318.7 382.6,319.3" fill="#67f0b9" stroke="#88ddc1"/><polygon points="376.8,311.8 384.5,309.8 378.7,300.6 370.9,304.3" fill="#84f2aa" stroke="#9adeb7"/><polygon points="370.9,304.3 378.7,300.6 372.8,291.8 365,297.6" fill="#91f1a2" stroke="#a2deb2"/><polygon points="283,331.4 290.9,329.3 285.3,327.1 277.3,328.8" fill="#5bedc0" stroke="#81dbc5"/><polygon points="394.4,332.1 402.2,332.9 396.3,326.5 388.5,326.2" fill="#5dedbf" stroke="#82dbc4"/><polygon points="363.1,309 370.9,304.3 365,297.6 357.2,303.9" fill="#8af2a7" stroke="#9edeb5"/><polygon points="206.8,328 214.8,325.7 209.2,322.2 201.2,324.5" fill="#63efbc" stroke="#86dcc2"/><polygon points="504,344.5 511.7,342.4 505.4,343.2 497.8,345" fill="#45e2ca" stroke="#73d4cb"/><polygon points="318.2,328.3 326,324.7 320.3,322.8 312.4,326.2" fill="#64efbb" stroke="#86dcc2"/><polygon points="355.3,313.9 363.1,309 357.2,303.9 349.4,310" fill="#81f3ab" stroke="#98dfb8"/><polygon points="220.4,329.1 228.4,326.9 222.8,323.5 214.8,325.7" fill="#61efbc" stroke="#84dcc2"/><polygon points="482.5,347.7 490.2,346.5 484,347.9 476.4,348.4" fill="#3edecd" stroke="#6fd2cd"/><polygon points="296.7,331.7 304.6,329.1 298.8,327.1 290.9,329.3" fill="#5dedbf" stroke="#82dbc4"/><polygon points="525.5,340.4 533.1,337.7 526.9,337.2 519.3,340" fill="#4fe7c5" stroke="#79d7c8"/><polygon points="347.5,318.8 355.3,313.9 349.4,310 341.6,315.6" fill="#79f3b0" stroke="#93dfbb"/><polygon points="234.1,330.3 242.1,328.2 236.4,324.9 228.4,326.9" fill="#60eebd" stroke="#84dcc3"/><polygon points="368.9,315 376.8,311.8 370.9,304.3 363.1,309" fill="#81f3ab" stroke="#98dfb8"/><polygon points="547,336.4 554.6,333.5 548.4,331.8 540.8,334.8" fill="#58ecc1" stroke="#7fdbc6"/><polygon points="247.8,331.5 255.7,329.5 250.1,326.4 242.1,328.2" fill="#5feebe" stroke="#83dcc4"/><polygon points="433.7,347 441.3,347.9 435.3,347.2 427.7,345.3" fill="#41e0cc" stroke="#70d3cc"/><polygon points="447.4,348.6 455,349 449,349.4 441.3,347.9" fill="#3ddecd" stroke="#6ed2cd"/><polygon points="339.6,323.3 347.5,318.8 341.6,315.6 333.8,320.5" fill="#72f2b4" stroke="#8fdebe"/><polygon points="400.3,336.9 408.1,337.8 402.2,332.9 394.4,332.1" fill="#56ebc2" stroke="#7edac6"/><polygon points="261.4,332.6 269.4,330.6 263.7,327.8 255.7,329.5" fill="#5eedbe" stroke="#82dbc4"/><polygon points="374.8,321.2 382.6,319.3 376.8,311.8 368.9,315" fill="#78f2b1" stroke="#93debc"/><polygon points="310.3,331.5 318.2,328.3 312.4,326.2 304.6,329.1" fill="#62efbc" stroke="#85dcc2"/><polygon points="275.1,333.5 283,331.4 277.3,328.8 269.4,330.6" fill="#5dedbf" stroke="#82dbc4"/><polygon points="420,344.4 427.7,345.3 421.7,343.2 414,341.5" fill="#48e4c8" stroke="#75d6ca"/><polygon points="361.1,318.8 368.9,315 363.1,309 355.3,313.9" fill="#7df3ae" stroke="#96dfba"/><polygon points="461.1,349.1 468.8,348.7 462.6,349.6 455,349" fill="#3fdfcc" stroke="#6fd2cc"/><polygon points="331.8,327.4 339.6,323.3 333.8,320.5 326,324.7" fill="#6cf1b7" stroke="#8bdebf"/><polygon points="380.7,327.2 388.5,326.2 382.6,319.3 374.8,321.2" fill="#6ef1b6" stroke="#8cdebf"/><polygon points="212.4,331.5 220.4,329.1 214.8,325.7 206.8,328" fill="#63efbc" stroke="#86dcc2"/><polygon points="517.9,342.9 525.5,340.4 519.3,340 511.7,342.4" fill="#4fe8c5" stroke="#79d8c8"/><polygon points="496.4,346.4 504,344.5 497.8,345 490.2,346.5" fill="#47e4c9" stroke="#74d6cb"/><polygon points="288.7,334.1 296.7,331.7 290.9,329.3 283,331.4" fill="#5eeebe" stroke="#82dcc4"/><polygon points="539.4,339.2 547,336.4 540.8,334.8 533.1,337.7" fill="#58ebc1" stroke="#7fdac6"/><polygon points="353.3,322.8 361.1,318.8 355.3,313.9 347.5,318.8" fill="#78f2b1" stroke="#93debc"/><polygon points="226.1,332.6 234.1,330.3 228.4,326.9 220.4,329.1" fill="#62efbc" stroke="#85dcc2"/><polygon points="367,324 374.8,321.2 368.9,315 361.1,318.8" fill="#77f2b1" stroke="#92debc"/><polygon points="239.8,333.7 247.8,331.5 242.1,328.2 234.1,330.3" fill="#61eebd" stroke="#84dcc3"/><polygon points="406.2,340.9 414,341.5 408.1,337.8 400.3,336.9" fill="#53eac3" stroke="#7cd9c7"/><polygon points="386.6,332.6 394.4,332.1 388.5,326.2 380.7,327.2" fill="#65f0bb" stroke="#87ddc2"/><polygon points="474.9,348.8 482.5,347.7 476.4,348.4 468.8,348.7" fill="#44e2ca" stroke="#72d4cb"/><polygon points="324,331 331.8,327.4 326,324.7 318.2,328.3" fill="#68f0b9" stroke="#89ddc1"/><polygon points="302.4,334.4 310.3,331.5 304.6,329.1 296.7,331.7" fill="#61efbd" stroke="#84dcc3"/><polygon points="253.4,334.7 261.4,332.6 255.7,329.5 247.8,331.5" fill="#60eebd" stroke="#84dcc3"/><polygon points="345.5,326.8 353.3,322.8 347.5,318.8 339.6,323.3" fill="#72f2b4" stroke="#8fdebe"/><polygon points="267.1,335.7 275.1,333.5 269.4,330.6 261.4,332.6" fill="#5feebd" stroke="#83dcc3"/><polygon points="372.9,329.2 380.7,327.2 374.8,321.2 367,324" fill="#70f2b5" stroke="#8edebe"/><polygon points="531.7,341.9 539.4,339.2 533.1,337.7 525.5,340.4" fill="#57ebc1" stroke="#7edac6"/><polygon points="510.2,345.3 517.9,342.9 511.7,342.4 504,344.5" fill="#50e8c5" stroke="#7ad8c8"/><polygon points="359.2,327.3 367,324 361.1,318.8 353.3,322.8" fill="#74f2b3" stroke="#90debd"/><polygon points="280.8,336.5 288.7,334.1 283,331.4 275.1,333.5" fill="#60eebd" stroke="#84dcc3"/><polygon points="392.5,337.3 400.3,336.9 394.4,332.1 386.6,332.6" fill="#60eebd" stroke="#84dcc3"/><polygon points="316.1,334.3 324,331 318.2,328.3 310.3,331.5" fill="#65f0bb" stroke="#87ddc2"/><polygon points="337.6,330.6 345.5,326.8 339.6,323.3 331.8,327.4" fill="#6ef1b6" stroke="#8cdebf"/><polygon points="439.7,348.6 447.4,348.6 441.3,347.9 433.7,347" fill="#48e4c8" stroke="#75d6ca"/><polygon points="218.1,335 226.1,332.6 220.4,329.1 212.4,331.5" fill="#63efbc" stroke="#86dcc2"/><polygon points="425.9,346.8 433.7,347 427.7,345.3 420,344.4" fill="#4ce6c7" stroke="#77d7c9"/><polygon points="488.7,348.1 496.4,346.4 490.2,346.5 482.5,347.7" fill="#4be6c7" stroke="#77d7c9"/><polygon points="453.4,349.6 461.1,349.1 455,349 447.4,348.6" fill="#48e4c9" stroke="#75d6cb"/><polygon points="231.8,336 239.8,333.7 234.1,330.3 226.1,332.6" fill="#62efbc" stroke="#85dcc2"/><polygon points="294.5,337 302.4,334.4 296.7,331.7 288.7,334.1" fill="#61efbd" stroke="#84dcc3"/><polygon points="412.2,344.3 420,344.4 414,341.5 406.2,340.9" fill="#54eac3" stroke="#7cd9c7"/><polygon points="245.4,337.1 253.4,334.7 247.8,331.5 239.8,333.7" fill="#62efbc" stroke="#85dcc2"/><polygon points="378.8,334.1 386.6,332.6 380.7,327.2 372.9,329.2" fill="#6af1b8" stroke="#8adec0"/><polygon points="351.3,330.8 359.2,327.3 353.3,322.8 345.5,326.8" fill="#71f2b4" stroke="#8edebe"/><polygon points="329.8,334.2 337.6,330.6 331.8,327.4 324,331" fill="#6af1b8" stroke="#8adec0"/><polygon points="259.1,338 267.1,335.7 261.4,332.6 253.4,334.7" fill="#61eebd" stroke="#84dcc3"/><polygon points="467.2,349.9 474.9,348.8 468.8,348.7 461.1,349.1" fill="#4ae5c7" stroke="#76d6c9"/><polygon points="365.1,331.9 372.9,329.2 367,324 359.2,327.3" fill="#70f2b5" stroke="#8edebe"/><polygon points="524.1,344.5 531.7,341.9 525.5,340.4 517.9,342.9" fill="#57ebc1" stroke="#7edac6"/><polygon points="308.2,337.3 316.1,334.3 310.3,331.5 302.4,334.4" fill="#64efbb" stroke="#86dcc2"/><polygon points="398.5,341.5 406.2,340.9 400.3,336.9 392.5,337.3" fill="#5dedbf" stroke="#82dbc4"/><polygon points="272.8,338.9 280.8,336.5 275.1,333.5 267.1,335.7" fill="#61eebd" stroke="#84dcc3"/><polygon points="502.5,347.5 510.2,345.3 504,344.5 496.4,346.4" fill="#52e9c4" stroke="#7bd9c7"/><polygon points="343.5,334.3 351.3,330.8 345.5,326.8 337.6,330.6" fill="#6ef1b6" stroke="#8cdebf"/><polygon points="223.7,338.5 231.8,336 226.1,332.6 218.1,335" fill="#63efbc" stroke="#86dcc2"/><polygon points="286.6,339.6 294.5,337 288.7,334.1 280.8,336.5" fill="#62efbc" stroke="#85dcc2"/><polygon points="384.7,338.7 392.5,337.3 386.6,332.6 378.8,334.1" fill="#65f0bb" stroke="#87ddc2"/><polygon points="321.9,337.5 329.8,334.2 324,331 316.1,334.3" fill="#67f0b9" stroke="#88ddc1"/><polygon points="481,349.8 488.7,348.1 482.5,347.7 474.9,348.8" fill="#4fe8c5" stroke="#79d8c8"/><polygon points="237.4,339.5 245.4,337.1 239.8,333.7 231.8,336" fill="#63efbc" stroke="#86dcc2"/><polygon points="357.2,334.9 365.1,331.9 359.2,327.3 351.3,330.8" fill="#6ef2b6" stroke="#8cdebf"/><polygon points="371,336.4 378.8,334.1 372.9,329.2 365.1,331.9" fill="#6cf1b7" stroke="#8bdebf"/><polygon points="300.3,340.2 308.2,337.3 302.4,334.4 294.5,337" fill="#63efbc" stroke="#86dcc2"/><polygon points="431.9,349.2 439.7,348.6 433.7,347 425.9,346.8" fill="#52e9c4" stroke="#7bd9c7"/><polygon points="251.2,340.5 259.1,338 253.4,334.7 245.4,337.1" fill="#62efbc" stroke="#85dcc2"/><polygon points="516.4,347 524.1,344.5 517.9,342.9 510.2,345.3" fill="#58ebc1" stroke="#7fdac6"/><polygon points="418.2,347.3 425.9,346.8 420,344.4 412.2,344.3" fill="#56ebc2" stroke="#7edac6"/><polygon points="445.7,350.4 453.4,349.6 447.4,348.6 439.7,348.6" fill="#50e8c5" stroke="#7ad8c8"/><polygon points="335.6,337.6 343.5,334.3 337.6,330.6 329.8,334.2" fill="#6bf1b8" stroke="#8bdec0"/><polygon points="264.9,341.4 272.8,338.9 267.1,335.7 259.1,338" fill="#62efbc" stroke="#85dcc2"/><polygon points="404.4,345.1 412.2,344.3 406.2,340.9 398.5,341.5" fill="#5cedbf" stroke="#81dbc4"/><polygon points="494.9,349.6 502.5,347.5 496.4,346.4 488.7,348.1" fill="#54eac3" stroke="#7cd9c7"/><polygon points="314,340.5 321.9,337.5 316.1,334.3 308.2,337.3" fill="#66f0ba" stroke="#87ddc1"/><polygon points="459.5,351.2 467.2,349.9 461.1,349.1 453.4,349.6" fill="#51e8c5" stroke="#7ad8c8"/><polygon points="278.6,342.2 286.6,339.6 280.8,336.5 272.8,338.9" fill="#62efbc" stroke="#85dcc2"/><polygon points="349.3,338.1 357.2,334.9 351.3,330.8 343.5,334.3" fill="#6cf1b7" stroke="#8bdebf"/><polygon points="390.6,342.8 398.5,341.5 392.5,337.3 384.7,338.7" fill="#63efbc" stroke="#86dcc2"/><polygon points="229.4,342.1 237.4,339.5 231.8,336 223.7,338.5" fill="#63efbb" stroke="#86dcc2"/><polygon points="376.9,340.7 384.7,338.7 378.8,334.1 371,336.4" fill="#68f0b9" stroke="#89ddc1"/><polygon points="363.1,339.1 371,336.4 365.1,331.9 357.2,334.9" fill="#6cf1b7" stroke="#8bdebf"/><polygon points="292.3,342.9 300.3,340.2 294.5,337 286.6,339.6" fill="#63efbc" stroke="#86dcc2"/><polygon points="327.7,340.9 335.6,337.6 329.8,334.2 321.9,337.5" fill="#68f0b9" stroke="#89ddc1"/><polygon points="473.3,351.5 481,349.8 474.9,348.8 467.2,349.9" fill="#53eac3" stroke="#7cd9c7"/><polygon points="243.1,343 251.2,340.5 245.4,337.1 237.4,339.5" fill="#63efbc" stroke="#86dcc2"/><polygon points="508.7,349.4 516.4,347 510.2,345.3 502.5,347.5" fill="#59ecc0" stroke="#7fdbc5"/><polygon points="256.9,343.9 264.9,341.4 259.1,338 251.2,340.5" fill="#63efbc" stroke="#86dcc2"/><polygon points="306.1,343.5 314,340.5 308.2,337.3 300.3,340.2" fill="#65efbb" stroke="#87dcc2"/><polygon points="341.5,341.3 349.3,338.1 343.5,334.3 335.6,337.6" fill="#6af1b8" stroke="#8adec0"/><polygon points="424.2,350.2 431.9,349.2 425.9,346.8 418.2,347.3" fill="#59ecc1" stroke="#7fdbc6"/><polygon points="270.6,344.8 278.6,342.2 272.8,338.9 264.9,341.4" fill="#63efbc" stroke="#86dcc2"/><polygon points="487.2,351.6 494.9,349.6 488.7,348.1 481,349.8" fill="#57ebc2" stroke="#7edac6"/><polygon points="410.4,348.5 418.2,347.3 412.2,344.3 404.4,345.1" fill="#5dedbf" stroke="#82dbc4"/><polygon points="438,351.6 445.7,350.4 439.7,348.6 431.9,349.2" fill="#56ebc2" stroke="#7edac6"/><polygon points="355.2,342.1 363.1,339.1 357.2,334.9 349.3,338.1" fill="#6bf1b8" stroke="#8bdec0"/><polygon points="396.6,346.6 404.4,345.1 398.5,341.5 390.6,342.8" fill="#61efbd" stroke="#84dcc3"/><polygon points="319.8,343.9 327.7,340.9 321.9,337.5 314,340.5" fill="#67f0ba" stroke="#88ddc1"/><polygon points="382.8,344.8 390.6,342.8 384.7,338.7 376.9,340.7" fill="#66f0ba" stroke="#87ddc1"/><polygon points="369,343.2 376.9,340.7 371,336.4 363.1,339.1" fill="#69f1b8" stroke="#89dec0"/><polygon points="284.4,345.6 292.3,342.9 286.6,339.6 278.6,342.2" fill="#63efbb" stroke="#86dcc2"/><polygon points="451.8,352.6 459.5,351.2 453.4,349.6 445.7,350.4" fill="#56ebc2" stroke="#7edac6"/><polygon points="235.1,345.6 243.1,343 237.4,339.5 229.4,342.1" fill="#64efbb" stroke="#86dcc2"/><polygon points="501,351.7 508.7,349.4 502.5,347.5 494.9,349.6" fill="#5becc0" stroke="#81dbc5"/><polygon points="333.6,344.5 341.5,341.3 335.6,337.6 327.7,340.9" fill="#68f0b9" stroke="#89ddc1"/><polygon points="298.1,346.3 306.1,343.5 300.3,340.2 292.3,342.9" fill="#64efbb" stroke="#86dcc2"/><polygon points="465.6,353.3 473.3,351.5 467.2,349.9 459.5,351.2" fill="#57ebc1" stroke="#7edac6"/><polygon points="248.9,346.5 256.9,343.9 251.2,340.5 243.1,343" fill="#63efbb" stroke="#86dcc2"/><polygon points="347.3,345.1 355.2,342.1 349.3,338.1 341.5,341.3" fill="#6af1b8" stroke="#8adec0"/><polygon points="262.6,347.4 270.6,344.8 264.9,341.4 256.9,343.9" fill="#63efbb" stroke="#86dcc2"/><polygon points="311.9,346.9 319.8,343.9 314,340.5 306.1,343.5" fill="#65f0ba" stroke="#87ddc1"/><polygon points="479.4,353.7 487.2,351.6 481,349.8 473.3,351.5" fill="#5aecc0" stroke="#80dbc5"/><polygon points="361.1,346 369,343.2 363.1,339.1 355.2,342.1" fill="#69f1b8" stroke="#89dec0"/><polygon points="276.4,348.2 284.4,345.6 278.6,342.2 270.6,344.8" fill="#64efbb" stroke="#86dcc2"/><polygon points="374.9,347.2 382.8,344.8 376.9,340.7 369,343.2" fill="#68f0b9" stroke="#89ddc1"/><polygon points="402.5,350.3 410.4,348.5 404.4,345.1 396.6,346.6" fill="#61efbd" stroke="#84dcc3"/><polygon points="388.7,348.7 396.6,346.6 390.6,342.8 382.8,344.8" fill="#64efbb" stroke="#86dcc2"/><polygon points="416.3,351.8 424.2,350.2 418.2,347.3 410.4,348.5" fill="#5eeebe" stroke="#82dcc4"/><polygon points="325.6,347.5 333.6,344.5 327.7,340.9 319.8,343.9" fill="#67f0ba" stroke="#88ddc1"/><polygon points="430.2,353.2 438,351.6 431.9,349.2 424.2,350.2" fill="#5cedbf" stroke="#81dbc4"/><polygon points="290.1,349 298.1,346.3 292.3,342.9 284.4,345.6" fill="#64efbb" stroke="#86dcc2"/><polygon points="444,354.3 451.8,352.6 445.7,350.4 438,351.6" fill="#5becc0" stroke="#81dbc5"/><polygon points="493.3,354.1 501,351.7 494.9,349.6 487.2,351.6" fill="#5cedbf" stroke="#81dbc4"/><polygon points="240.8,349.1 248.9,346.5 243.1,343 235.1,345.6" fill="#64efbb" stroke="#86dcc2"/><polygon points="339.4,348.1 347.3,345.1 341.5,341.3 333.6,344.5" fill="#68f0b9" stroke="#89ddc1"/><polygon points="303.9,349.7 311.9,346.9 306.1,343.5 298.1,346.3" fill="#65f0bb" stroke="#87ddc2"/><polygon points="254.6,350 262.6,347.4 256.9,343.9 248.9,346.5" fill="#64efbb" stroke="#86dcc2"/><polygon points="457.8,355.2 465.6,353.3 459.5,351.2 451.8,352.6" fill="#5bedc0" stroke="#81dbc5"/><polygon points="353.2,348.9 361.1,346 355.2,342.1 347.3,345.1" fill="#69f0b9" stroke="#89ddc1"/><polygon points="268.4,350.9 276.4,348.2 270.6,344.8 262.6,347.4" fill="#64efbb" stroke="#86dcc2"/><polygon points="317.7,350.4 325.6,347.5 319.8,343.9 311.9,346.9" fill="#66f0ba" stroke="#87ddc1"/><polygon points="367,349.9 374.9,347.2 369,343.2 361.1,346" fill="#68f0b9" stroke="#89ddc1"/><polygon points="471.7,355.8 479.4,353.7 473.3,351.5 465.6,353.3" fill="#5cedbf" stroke="#81dbc4"/><polygon points="380.9,351.1 388.7,348.7 382.8,344.8 374.9,347.2" fill="#66f0ba" stroke="#87ddc1"/><polygon points="282.2,351.7 290.1,349 284.4,345.6 276.4,348.2" fill="#64efbb" stroke="#86dcc2"/><polygon points="394.7,352.4 402.5,350.3 396.6,346.6 388.7,348.7" fill="#64efbb" stroke="#86dcc2"/><polygon points="408.5,353.8 416.3,351.8 410.4,348.5 402.5,350.3" fill="#62efbc" stroke="#85dcc2"/><polygon points="331.5,351.1 339.4,348.1 333.6,344.5 325.6,347.5" fill="#67f0ba" stroke="#88ddc1"/><polygon points="422.4,355.1 430.2,353.2 424.2,350.2 416.3,351.8" fill="#60eebd" stroke="#84dcc3"/><polygon points="485.6,356.4 493.3,354.1 487.2,351.6 479.4,353.7" fill="#5eeebe" stroke="#82dcc4"/><polygon points="296,352.5 303.9,349.7 298.1,346.3 290.1,349" fill="#65efbb" stroke="#87dcc2"/><polygon points="436.2,356.2 444,354.3 438,351.6 430.2,353.2" fill="#5eeebe" stroke="#82dcc4"/><polygon points="246.6,352.7 254.6,350 248.9,346.5 240.8,349.1" fill="#64efbb" stroke="#86dcc2"/><polygon points="345.3,351.9 353.2,348.9 347.3,345.1 339.4,348.1" fill="#68f0b9" stroke="#89ddc1"/><polygon points="450,357.2 457.8,355.2 451.8,352.6 444,354.3" fill="#5eeebe" stroke="#82dcc4"/><polygon points="309.8,353.3 317.7,350.4 311.9,346.9 303.9,349.7" fill="#65f0bb" stroke="#87ddc2"/><polygon points="260.4,353.6 268.4,350.9 262.6,347.4 254.6,350" fill="#64efbb" stroke="#86dcc2"/><polygon points="359.1,352.8 367,349.9 361.1,346 353.2,348.9" fill="#68f0b9" stroke="#89ddc1"/><polygon points="373,353.8 380.9,351.1 374.9,347.2 367,349.9" fill="#67f0ba" stroke="#88ddc1"/><polygon points="274.2,354.5 282.2,351.7 276.4,348.2 268.4,350.9" fill="#64efbb" stroke="#86dcc2"/><polygon points="463.9,358 471.7,355.8 465.6,353.3 457.8,355.2" fill="#5feebe" stroke="#83dcc4"/><polygon points="323.6,354 331.5,351.1 325.6,347.5 317.7,350.4" fill="#66f0ba" stroke="#87ddc1"/><polygon points="386.8,354.9 394.7,352.4 388.7,348.7 380.9,351.1" fill="#65f0ba" stroke="#87ddc1"/><polygon points="400.7,356.1 408.5,353.8 402.5,350.3 394.7,352.4" fill="#64efbb" stroke="#86dcc2"/><polygon points="288,355.3 296,352.5 290.1,349 282.2,351.7" fill="#64efbb" stroke="#86dcc2"/><polygon points="337.4,354.8 345.3,351.9 339.4,348.1 331.5,351.1" fill="#67f0ba" stroke="#88ddc1"/><polygon points="477.8,358.8 485.6,356.4 479.4,353.7 471.7,355.8" fill="#60eebd" stroke="#84dcc3"/><polygon points="414.5,357.3 422.4,355.1 416.3,351.8 408.5,353.8" fill="#62efbc" stroke="#85dcc2"/><polygon points="301.8,356.1 309.8,353.3 303.9,349.7 296,352.5" fill="#65f0bb" stroke="#87ddc2"/><polygon points="428.4,358.4 436.2,356.2 430.2,353.2 422.4,355.1" fill="#61efbd" stroke="#84dcc3"/><polygon points="351.2,355.6 359.1,352.8 353.2,348.9 345.3,351.9" fill="#67f0ba" stroke="#88ddc1"/><polygon points="252.3,356.3 260.4,353.6 254.6,350 246.6,352.7" fill="#64efbb" stroke="#86dcc2"/><polygon points="442.2,359.5 450,357.2 444,354.3 436.2,356.2" fill="#61eebd" stroke="#84dcc3"/><polygon points="365.1,356.5 373,353.8 367,349.9 359.1,352.8" fill="#67f0ba" stroke="#88ddc1"/><polygon points="315.6,356.9 323.6,354 317.7,350.4 309.8,353.3" fill="#65f0bb" stroke="#87ddc2"/><polygon points="266.1,357.2 274.2,354.5 268.4,350.9 260.4,353.6" fill="#64efbb" stroke="#86dcc2"/><polygon points="456.1,360.4 463.9,358 457.8,355.2 450,357.2" fill="#61eebd" stroke="#84dcc3"/><polygon points="378.9,357.6 386.8,354.9 380.9,351.1 373,353.8" fill="#66f0ba" stroke="#87ddc1"/><polygon points="280,358 288,355.3 282.2,351.7 274.2,354.5" fill="#64efbb" stroke="#86dcc2"/><polygon points="329.4,357.7 337.4,354.8 331.5,351.1 323.6,354" fill="#66f0ba" stroke="#87ddc1"/><polygon points="392.8,358.6 400.7,356.1 394.7,352.4 386.8,354.9" fill="#65f0bb" stroke="#87ddc2"/><polygon points="470,361.2 477.8,358.8 471.7,355.8 463.9,358" fill="#61eebd" stroke="#84dcc3"/><polygon points="406.6,359.7 414.5,357.3 408.5,353.8 400.7,356.1" fill="#64efbb" stroke="#86dcc2"/><polygon points="293.8,358.9 301.8,356.1 296,352.5 288,355.3" fill="#65efbb" stroke="#87dcc2"/><polygon points="343.3,358.5 351.2,355.6 345.3,351.9 337.4,354.8" fill="#66f0ba" stroke="#87ddc1"/><polygon points="420.5,360.8 428.4,358.4 422.4,355.1 414.5,357.3" fill="#63efbc" stroke="#86dcc2"/><polygon points="357.1,359.4 365.1,356.5 359.1,352.8 351.2,355.6" fill="#66f0ba" stroke="#87ddc1"/><polygon points="307.6,359.7 315.6,356.9 309.8,353.3 301.8,356.1" fill="#65f0bb" stroke="#87ddc2"/><polygon points="258.1,359.9 266.1,357.2 260.4,353.6 252.3,356.3" fill="#64efbb" stroke="#86dcc2"/><polygon points="434.4,361.8 442.2,359.5 436.2,356.2 428.4,358.4" fill="#62efbc" stroke="#85dcc2"/><polygon points="371,360.3 378.9,357.6 373,353.8 365.1,356.5" fill="#66f0ba" stroke="#87ddc1"/><polygon points="321.5,360.5 329.4,357.7 323.6,354 315.6,356.9" fill="#65f0bb" stroke="#87ddc2"/><polygon points="271.9,360.8 280,358 274.2,354.5 266.1,357.2" fill="#64efbb" stroke="#86dcc2"/><polygon points="448.3,362.8 456.1,360.4 450,357.2 442.2,359.5" fill="#62efbc" stroke="#85dcc2"/><polygon points="384.9,361.3 392.8,358.6 386.8,354.9 378.9,357.6" fill="#65f0ba" stroke="#87ddc1"/><polygon points="335.3,361.4 343.3,358.5 337.4,354.8 329.4,357.7" fill="#66f0ba" stroke="#87ddc1"/><polygon points="285.8,361.6 293.8,358.9 288,355.3 280,358" fill="#64efbb" stroke="#86dcc2"/><polygon points="462.2,363.7 470,361.2 463.9,358 456.1,360.4" fill="#62efbc" stroke="#85dcc2"/><polygon points="398.8,362.3 406.6,359.7 400.7,356.1 392.8,358.6" fill="#65f0bb" stroke="#87ddc2"/><polygon points="349.2,362.2 357.1,359.4 351.2,355.6 343.3,358.5" fill="#66f0ba" stroke="#87ddc1"/><polygon points="412.7,363.4 420.5,360.8 414.5,357.3 406.6,359.7" fill="#64efbb" stroke="#86dcc2"/><polygon points="299.6,362.5 307.6,359.7 301.8,356.1 293.8,358.9" fill="#65efbb" stroke="#87dcc2"/><polygon points="426.6,364.4 434.4,361.8 428.4,358.4 420.5,360.8" fill="#64efbb" stroke="#86dcc2"/><polygon points="363.1,363.1 371,360.3 365.1,356.5 357.1,359.4" fill="#66f0ba" stroke="#87ddc1"/><polygon points="313.5,363.4 321.5,360.5 315.6,356.9 307.6,359.7" fill="#65f0bb" stroke="#87ddc2"/><polygon points="263.9,363.5 271.9,360.8 266.1,357.2 258.1,359.9" fill="#64efbb" stroke="#86dcc2"/><polygon points="440.5,365.3 448.3,362.8 442.2,359.5 434.4,361.8" fill="#63efbc" stroke="#86dcc2"/><polygon points="377,364 384.9,361.3 378.9,357.6 371,360.3" fill="#66f0ba" stroke="#87ddc1"/><polygon points="327.4,364.2 335.3,361.4 329.4,357.7 321.5,360.5" fill="#65f0bb" stroke="#87ddc2"/><polygon points="277.7,364.4 285.8,361.6 280,358 271.9,360.8" fill="#64efbb" stroke="#86dcc2"/><polygon points="454.4,366.3 462.2,363.7 456.1,360.4 448.3,362.8" fill="#63efbc" stroke="#86dcc2"/><polygon points="390.9,365 398.8,362.3 392.8,358.6 384.9,361.3" fill="#65f0bb" stroke="#87ddc2"/><polygon points="341.2,365.1 349.2,362.2 343.3,358.5 335.3,361.4" fill="#65f0ba" stroke="#87ddc1"/><polygon points="291.6,365.3 299.6,362.5 293.8,358.9 285.8,361.6" fill="#65efbb" stroke="#87dcc2"/><polygon points="404.8,366 412.7,363.4 406.6,359.7 398.8,362.3" fill="#65efbb" stroke="#87dcc2"/><polygon points="355.1,365.9 363.1,363.1 357.1,359.4 349.2,362.2" fill="#65f0ba" stroke="#87ddc1"/><polygon points="305.5,366.1 313.5,363.4 307.6,359.7 299.6,362.5" fill="#65efbb" stroke="#87dcc2"/><polygon points="418.7,367 426.6,364.4 420.5,360.8 412.7,363.4" fill="#64efbb" stroke="#86dcc2"/><polygon points="369,366.8 377,364 371,360.3 363.1,363.1" fill="#65f0ba" stroke="#87ddc1"/><polygon points="432.6,368 440.5,365.3 434.4,361.8 426.6,364.4" fill="#64efbb" stroke="#86dcc2"/><polygon points="319.4,367 327.4,364.2 321.5,360.5 313.5,363.4" fill="#65f0bb" stroke="#87ddc2"/><polygon points="269.7,367.2 277.7,364.4 271.9,360.8 263.9,363.5" fill="#64efbb" stroke="#86dcc2"/><polygon points="382.9,367.8 390.9,365 384.9,361.3 377,364" fill="#65f0bb" stroke="#87ddc2"/><polygon points="446.5,368.9 454.4,366.3 448.3,362.8 440.5,365.3" fill="#64efbb" stroke="#86dcc2"/><polygon points="333.3,367.9 341.2,365.1 335.3,361.4 327.4,364.2" fill="#65f0bb" stroke="#87ddc2"/><polygon points="283.6,368 291.6,365.3 285.8,361.6 277.7,364.4" fill="#64efbb" stroke="#86dcc2"/><polygon points="396.9,368.7 404.8,366 398.8,362.3 390.9,365" fill="#65f0bb" stroke="#87ddc2"/><polygon points="347.2,368.8 355.1,365.9 349.2,362.2 341.2,365.1" fill="#65f0bb" stroke="#87ddc2"/><polygon points="297.5,368.9 305.5,366.1 299.6,362.5 291.6,365.3" fill="#65efbb" stroke="#87dcc2"/><polygon points="410.8,369.7 418.7,367 412.7,363.4 404.8,366" fill="#65efbb" stroke="#87dcc2"/><polygon points="361.1,369.7 369,366.8 363.1,363.1 355.1,365.9" fill="#65f0bb" stroke="#87ddc2"/><polygon points="311.4,369.8 319.4,367 313.5,363.4 305.5,366.1" fill="#65efbb" stroke="#87dcc2"/><polygon points="424.7,370.6 432.6,368 426.6,364.4 418.7,367" fill="#64efbb" stroke="#86dcc2"/><polygon points="375,370.6 382.9,367.8 377,364 369,366.8" fill="#65f0bb" stroke="#87ddc2"/><polygon points="438.7,371.6 446.5,368.9 440.5,365.3 432.6,368" fill="#64efbb" stroke="#86dcc2"/><polygon points="325.3,370.7 333.3,367.9 327.4,364.2 319.4,367" fill="#65f0bb" stroke="#87ddc2"/><polygon points="275.5,370.8 283.6,368 277.7,364.4 269.7,367.2" fill="#64efbb" stroke="#86dcc2"/><polygon points="388.9,371.5 396.9,368.7 390.9,365 382.9,367.8" fill="#65f0bb" stroke="#87ddc2"/><polygon points="339.2,371.6 347.2,368.8 341.2,365.1 333.3,367.9" fill="#65f0bb" stroke="#87ddc2"/><polygon points="289.4,371.7 297.5,368.9 291.6,365.3 283.6,368" fill="#64efbb" stroke="#86dcc2"/><polygon points="402.9,372.4 410.8,369.7 404.8,366 396.9,368.7" fill="#65f0bb" stroke="#87ddc2"/><polygon points="353.1,372.5 361.1,369.7 355.1,365.9 347.2,368.8" fill="#65f0bb" stroke="#87ddc2"/><polygon points="303.3,372.6 311.4,369.8 305.5,366.1 297.5,368.9" fill="#65efbb" stroke="#87dcc2"/><polygon points="416.8,373.4 424.7,370.6 418.7,367 410.8,369.7" fill="#65efbb" stroke="#87dcc2"/><polygon points="367,373.4 375,370.6 369,366.8 361.1,369.7" fill="#65f0bb" stroke="#87ddc2"/><polygon points="317.3,373.5 325.3,370.7 319.4,367 311.4,369.8" fill="#65efbb" stroke="#87dcc2"/><polygon points="430.8,374.3 438.7,371.6 432.6,368 424.7,370.6" fill="#64efbb" stroke="#86dcc2"/><polygon points="381,374.3 388.9,371.5 382.9,367.8 375,370.6" fill="#65f0bb" stroke="#87ddc2"/><polygon points="331.2,374.4 339.2,371.6 333.3,367.9 325.3,370.7" fill="#65f0bb" stroke="#87ddc2"/><polygon points="281.4,374.5 289.4,371.7 283.6,368 275.5,370.8" fill="#64efbb" stroke="#86dcc2"/><polygon points="395,375.2 402.9,372.4 396.9,368.7 388.9,371.5" fill="#65f0bb" stroke="#87ddc2"/><polygon points="345.1,375.3 353.1,372.5 347.2,368.8 339.2,371.6" fill="#65f0bb" stroke="#87ddc2"/><polygon points="295.3,375.4 303.3,372.6 297.5,368.9 289.4,371.7" fill="#64efbb" stroke="#86dcc2"/><polygon points="408.9,376.1 416.8,373.4 410.8,369.7 402.9,372.4" fill="#65efbb" stroke="#87dcc2"/><polygon points="359.1,376.2 367,373.4 361.1,369.7 353.1,372.5" fill="#65f0bb" stroke="#87ddc2"/><polygon points="309.2,376.3 317.3,373.5 311.4,369.8 303.3,372.6" fill="#65efbb" stroke="#87dcc2"/><polygon points="422.9,377.1 430.8,374.3 424.7,370.6 416.8,373.4" fill="#65efbb" stroke="#87dcc2"/><polygon points="373,377.1 381,374.3 375,370.6 367,373.4" fill="#65f0bb" stroke="#87ddc2"/><polygon points="323.2,377.2 331.2,374.4 325.3,370.7 317.3,373.5" fill="#65efbb" stroke="#87dcc2"/><polygon points="387,378 395,375.2 388.9,371.5 381,374.3" fill="#65f0bb" stroke="#87ddc2"/><polygon points="337.1,378.1 345.1,375.3 339.2,371.6 331.2,374.4" fill="#65efbb" stroke="#87dcc2"/><polygon points="287.2,378.1 295.3,375.4 289.4,371.7 281.4,374.5" fill="#64efbb" stroke="#86dcc2"/><polygon points="401,378.9 408.9,376.1 402.9,372.4 395,375.2" fill="#65efbb" stroke="#87dcc2"/><polygon points="351.1,379 359.1,376.2 353.1,372.5 345.1,375.3" fill="#65efbb" stroke="#87dcc2"/><polygon points="301.2,379.1 309.2,376.3 303.3,372.6 295.3,375.4" fill="#64efbb" stroke="#86dcc2"/><polygon points="415,379.8 422.9,377.1 416.8,373.4 408.9,376.1" fill="#65efbb" stroke="#87dcc2"/><polygon points="365.1,379.9 373,377.1 367,373.4 359.1,376.2" fill="#65efbb" stroke="#87dcc2"/><polygon points="315.1,380 323.2,377.2 317.3,373.5 309.2,376.3" fill="#64efbb" stroke="#86dcc2"/><polygon points="379,380.8 387,378 381,374.3 373,377.1" fill="#65efbb" stroke="#87dcc2"/><polygon points="329.1,380.9 337.1,378.1 331.2,374.4 323.2,377.2" fill="#65efbb" stroke="#87dcc2"/><polygon points="393,381.7 401,378.9 395,375.2 387,378" fill="#65efbb" stroke="#87dcc2"/><polygon points="343.1,381.8 351.1,379 345.1,375.3 337.1,378.1" fill="#65efbb" stroke="#87dcc2"/><polygon points="293.1,381.8 301.2,379.1 295.3,375.4 287.2,378.1" fill="#64efbb" stroke="#86dcc2"/><polygon points="407,382.6 415,379.8 408.9,376.1 401,378.9" fill="#65efbb" stroke="#87dcc2"/><polygon points="357.1,382.7 365.1,379.9 359.1,376.2 351.1,379" fill="#65efbb" stroke="#87dcc2"/><polygon points="307.1,382.7 315.1,380 309.2,376.3 301.2,379.1" fill="#64efbb" stroke="#86dcc2"/><polygon points="371.1,383.6 379,380.8 373,377.1 365.1,379.9" fill="#65efbb" stroke="#87dcc2"/><polygon points="321,383.7 329.1,380.9 323.2,377.2 315.1,380" fill="#64efbb" stroke="#86dcc2"/><polygon points="385.1,384.5 393,381.7 387,378 379,380.8" fill="#65efbb" stroke="#87dcc2"/><polygon points="335,384.6 343.1,381.8 337.1,378.1 329.1,380.9" fill="#64efbb" stroke="#86dcc2"/><polygon points="399.1,385.4 407,382.6 401,378.9 393,381.7" fill="#65efbb" stroke="#87dcc2"/><polygon points="349,385.5 357.1,382.7 351.1,379 343.1,381.8" fill="#65efbb" stroke="#87dcc2"/><polygon points="299,385.5 307.1,382.7 301.2,379.1 293.1,381.8" fill="#64efbb" stroke="#86dcc2"/><polygon points="363,386.4 371.1,383.6 365.1,379.9 357.1,382.7" fill="#65efbb" stroke="#87dcc2"/><polygon points="313,386.5 321,383.7 315.1,380 307.1,382.7" fill="#64efbb" stroke="#86dcc2"/><polygon points="377.1,387.3 385.1,384.5 379,380.8 371.1,383.6" fill="#65efbb" stroke="#87dcc2"/><polygon points="327,387.4 335,384.6 329.1,380.9 321,383.7" fill="#64efbb" stroke="#86dcc2"/><polygon points="391.1,388.2 399.1,385.4 393,381.7 385.1,384.5" fill="#65efbb" stroke="#87dcc2"/><polygon points="341,388.3 349,385.5 343.1,381.8 335,384.6" fill="#64efbb" stroke="#86dcc2"/><polygon points="355,389.2 363,386.4 357.1,382.7 349,385.5" fill="#64efbb" stroke="#86dcc2"/><polygon points="304.9,389.3 313,386.5 307.1,382.7 299,385.5" fill="#64efbb" stroke="#86dcc2"/><polygon points="369.1,390.1 377.1,387.3 371.1,383.6 363,386.4" fill="#64efbb" stroke="#86dcc2"/><polygon points="318.9,390.2 327,387.4 321,383.7 313,386.5" fill="#64efbb" stroke="#86dcc2"/><polygon points="383.1,391 391.1,388.2 385.1,384.5 377.1,387.3" fill="#64efbb" stroke="#86dcc2"/><polygon points="332.9,391.1 341,388.3 335,384.6 327,387.4" fill="#64efbb" stroke="#86dcc2"/><polygon points="347,392 355,389.2 349,385.5 341,388.3" fill="#64efbb" stroke="#86dcc2"/><polygon points="361,392.9 369.1,390.1 363,386.4 355,389.2" fill="#64efbb" stroke="#86dcc2"/><polygon points="310.8,393 318.9,390.2 313,386.5 304.9,389.3" fill="#64efbb" stroke="#86dcc2"/><polygon points="375.1,393.9 383.1,391 377.1,387.3 369.1,390.1" fill="#64efbb" stroke="#86dcc2"/><polygon points="324.9,393.9 332.9,391.1 327,387.4 318.9,390.2" fill="#64efbb" stroke="#86dcc2"/><polygon points="338.9,394.8 347,392 341,388.3 332.9,391.1" fill="#64efbb" stroke="#86dcc2"/><polygon points="353,395.7 361,392.9 355,389.2 347,392" fill="#64efbb" stroke="#86dcc2"/><polygon points="367.1,396.7 375.1,393.9 369.1,390.1 361,392.9" fill="#64efbb" stroke="#86dcc2"/><polygon points="316.8,396.7 324.9,393.9 318.9,390.2 310.8,393" fill="#64efbb" stroke="#86dcc2"/><polygon points="330.8,397.6 338.9,394.8 332.9,391.1 324.9,393.9" fill="#64efbb" stroke="#86dcc2"/><polygon points="344.9,398.6 353,395.7 347,392 338.9,394.8" fill="#64efbb" stroke="#86dcc2"/><polygon points="359,399.5 367.1,396.7 361,392.9 353,395.7" fill="#64efbb" stroke="#86dcc2"/><polygon points="322.7,400.5 330.8,397.6 324.9,393.9 316.8,396.7" fill="#64efbb" stroke="#86dcc2"/><polygon points="336.8,401.4 344.9,398.6 338.9,394.8 330.8,397.6" fill="#64efbb" stroke="#86dcc2"/><polygon points="350.9,402.3 359,399.5 353,395.7 344.9,398.6" fill="#64efbb" stroke="#86dcc2"/><polygon points="328.7,404.2 336.8,401.4 330.8,397.6 322.7,400.5" fill="#64efbb" stroke="#86dcc2"/><polygon points="342.8,405.2 350.9,402.3 344.9,398.6 336.8,401.4" fill="#64efbb" stroke="#86dcc2"/><polygon points="334.7,408 342.8,405.2 336.8,401.4 328.7,404.2" fill="#64efbb" stroke="#86dcc2"/></g>
<g stroke-linecap="butt"><line x1="334.7" y1="527.2" x2="65" y2="349.6" stroke="#3a3a3a" stroke-width="2.2"/><line x1="334.7" y1="527.2" x2="704.8" y2="391.2" stroke="#3a3a3a" stroke-width="2.2"/><line x1="65" y1="349.6" x2="39.7" y2="118.4" stroke="#3a3a3a" stroke-width="2.2"/><line x1="334.7" y1="527.2" x2="324.4" y2="531" stroke="#3a3a3a" stroke-width="2.2"/><line x1="323.2" y1="519.6" x2="318.5" y2="521.3" stroke="#3a3a3a" stroke-width="2.2"/><line x1="311.7" y1="512" x2="307" y2="513.7" stroke="#3a3a3a" stroke-width="2.2"/><line x1="300.3" y1="504.5" x2="295.6" y2="506.2" stroke="#3a3a3a" stroke-width="2.2"/><line x1="288.9" y1="497" x2="284.2" y2="498.7" stroke="#3a3a3a" stroke-width="2.2"/><line x1="277.6" y1="489.6" x2="267.3" y2="493.3" stroke="#3a3a3a" stroke-width="2.2"/><line x1="266.4" y1="482.2" x2="261.7" y2="483.9" stroke="#3a3a3a" stroke-width="2.2"/><line x1="255.3" y1="474.9" x2="250.6" y2="476.5" stroke="#3a3a3a" stroke-width="2.2"/><line x1="244.2" y1="467.6" x2="239.5" y2="469.2" stroke="#3a3a3a" stroke-width="2.2"/><line x1="233.1" y1="460.3" x2="228.4" y2="462" stroke="#3a3a3a" stroke-width="2.2"/><line x1="222.2" y1="453.1" x2="211.8" y2="456.7" stroke="#3a3a3a" stroke-width="2.2"/><line x1="211.3" y1="445.9" x2="206.6" y2="447.6" stroke="#3a3a3a" stroke-width="2.2"/><line x1="200.4" y1="438.8" x2="195.7" y2="440.4" stroke="#3a3a3a" stroke-width="2.2"/><line x1="189.7" y1="431.7" x2="184.9" y2="433.3" stroke="#3a3a3a" stroke-width="2.2"/><line x1="178.9" y1="424.6" x2="174.2" y2="426.3" stroke="#3a3a3a" stroke-width="2.2"/><line x1="168.3" y1="417.6" x2="157.9" y2="421.2" stroke="#3a3a3a" stroke-width="2.2"/><line x1="157.7" y1="410.6" x2="153" y2="412.3" stroke="#3a3a3a" stroke-width="2.2"/><line x1="147.2" y1="403.7" x2="142.4" y2="405.3" stroke="#3a3a3a" stroke-width="2.2"/><line x1="136.7" y1="396.8" x2="131.9" y2="398.4" stroke="#3a3a3a" stroke-width="2.2"/><line x1="126.3" y1="390" x2="121.5" y2="391.6" stroke="#3a3a3a" stroke-width="2.2"/><line x1="115.9" y1="383.1" x2="105.5" y2="386.6" stroke="#3a3a3a" stroke-width="2.2"/><line x1="105.6" y1="376.4" x2="100.9" y2="377.9" stroke="#3a3a3a" stroke-width="2.2"/><line x1="95.4" y1="369.6" x2="90.6" y2="371.2" stroke="#3a3a3a" stroke-width="2.2"/><line x1="85.2" y1="362.9" x2="80.4" y2="364.5" stroke="#3a3a3a" stroke-width="2.2"/><line x1="75" y1="356.2" x2="70.3" y2="357.8" stroke="#3a3a3a" stroke-width="2.2"/><line x1="65" y1="349.6" x2="54.5" y2="353" stroke="#3a3a3a" stroke-width="2.2"/><line x1="334.7" y1="527.2" x2="343.9" y2="533.2" stroke="#3a3a3a" stroke-width="2.2"/><line x1="350.3" y1="521.4" x2="354.5" y2="524.2" stroke="#3a3a3a" stroke-width="2.2"/><line x1="365.9" y1="515.7" x2="370.1" y2="518.5" stroke="#3a3a3a" stroke-width="2.2"/><line x1="381.3" y1="510" x2="385.5" y2="512.8" stroke="#3a3a3a" stroke-width="2.2"/><line x1="396.7" y1="504.4" x2="400.9" y2="507.1" stroke="#3a3a3a" stroke-width="2.2"/><line x1="412.1" y1="498.7" x2="421.3" y2="504.7" stroke="#3a3a3a" stroke-width="2.2"/><line x1="427.3" y1="493.1" x2="431.6" y2="495.8" stroke="#3a3a3a" stroke-width="2.2"/><line x1="442.5" y1="487.6" x2="446.8" y2="490.2" stroke="#3a3a3a" stroke-width="2.2"/><line x1="457.6" y1="482" x2="461.9" y2="484.7" stroke="#3a3a3a" stroke-width="2.2"/><line x1="472.7" y1="476.5" x2="476.9" y2="479.1" stroke="#3a3a3a" stroke-width="2.2"/><line x1="487.7" y1="471" x2="497" y2="476.7" stroke="#3a3a3a" stroke-width="2.2"/><line x1="502.6" y1="465.5" x2="506.9" y2="468.1" stroke="#3a3a3a" stroke-width="2.2"/><line x1="517.5" y1="460" x2="521.7" y2="462.6" stroke="#3a3a3a" stroke-width="2.2"/><line x1="532.3" y1="454.6" x2="536.5" y2="457.2" stroke="#3a3a3a" stroke-width="2.2"/><line x1="547" y1="449.2" x2="551.3" y2="451.8" stroke="#3a3a3a" stroke-width="2.2"/><line x1="561.6" y1="443.8" x2="571.1" y2="449.5" stroke="#3a3a3a" stroke-width="2.2"/><line x1="576.2" y1="438.4" x2="580.5" y2="441" stroke="#3a3a3a" stroke-width="2.2"/><line x1="590.8" y1="433.1" x2="595.1" y2="435.6" stroke="#3a3a3a" stroke-width="2.2"/><line x1="605.2" y1="427.8" x2="609.5" y2="430.3" stroke="#3a3a3a" stroke-width="2.2"/><line x1="619.6" y1="422.5" x2="624" y2="425" stroke="#3a3a3a" stroke-width="2.2"/><line x1="634" y1="417.2" x2="643.5" y2="422.7" stroke="#3a3a3a" stroke-width="2.2"/><line x1="648.3" y1="411.9" x2="652.6" y2="414.5" stroke="#3a3a3a" stroke-width="2.2"/><line x1="662.5" y1="406.7" x2="666.8" y2="409.2" stroke="#3a3a3a" stroke-width="2.2"/><line x1="676.6" y1="401.5" x2="681" y2="404" stroke="#3a3a3a" stroke-width="2.2"/><line x1="690.7" y1="396.3" x2="695.1" y2="398.8" stroke="#3a3a3a" stroke-width="2.2"/><line x1="704.8" y1="391.2" x2="714.3" y2="396.6" stroke="#3a3a3a" stroke-width="2.2"/><line x1="65" y1="349.6" x2="55.8" y2="343.6" stroke="#3a3a3a" stroke-width="2.2"/><line x1="63.8" y1="338.8" x2="59.6" y2="336.1" stroke="#3a3a3a" stroke-width="2.2"/><line x1="62.6" y1="328" x2="58.4" y2="325.3" stroke="#3a3a3a" stroke-width="2.2"/><line x1="61.4" y1="317.1" x2="57.2" y2="314.4" stroke="#3a3a3a" stroke-width="2.2"/><line x1="60.2" y1="306.1" x2="56" y2="303.4" stroke="#3a3a3a" stroke-width="2.2"/><line x1="59" y1="295" x2="49.7" y2="289.1" stroke="#3a3a3a" stroke-width="2.2"/><line x1="57.8" y1="283.9" x2="53.6" y2="281.2" stroke="#3a3a3a" stroke-width="2.2"/><line x1="56.5" y1="272.6" x2="52.3" y2="269.9" stroke="#3a3a3a" stroke-width="2.2"/><line x1="55.3" y1="261.3" x2="51.1" y2="258.6" stroke="#3a3a3a" stroke-width="2.2"/><line x1="54.1" y1="249.9" x2="49.8" y2="247.2" stroke="#3a3a3a" stroke-width="2.2"/><line x1="52.8" y1="238.4" x2="43.5" y2="232.5" stroke="#3a3a3a" stroke-width="2.2"/><line x1="51.5" y1="226.8" x2="47.3" y2="224.1" stroke="#3a3a3a" stroke-width="2.2"/><line x1="50.3" y1="215.1" x2="46" y2="212.5" stroke="#3a3a3a" stroke-width="2.2"/><line x1="49" y1="203.3" x2="44.7" y2="200.7" stroke="#3a3a3a" stroke-width="2.2"/><line x1="47.7" y1="191.5" x2="43.4" y2="188.9" stroke="#3a3a3a" stroke-width="2.2"/><line x1="46.4" y1="179.5" x2="37" y2="173.8" stroke="#3a3a3a" stroke-width="2.2"/><line x1="45.1" y1="167.5" x2="40.8" y2="164.9" stroke="#3a3a3a" stroke-width="2.2"/><line x1="43.7" y1="155.4" x2="39.5" y2="152.8" stroke="#3a3a3a" stroke-width="2.2"/><line x1="42.4" y1="143.1" x2="38.1" y2="140.5" stroke="#3a3a3a" stroke-width="2.2"/><line x1="41.1" y1="130.8" x2="36.8" y2="128.2" stroke="#3a3a3a" stroke-width="2.2"/><line x1="39.7" y1="118.4" x2="30.3" y2="112.7" stroke="#3a3a3a" stroke-width="2.2"/></g>
<text x="24" y="116.2" text-anchor="end" font-size="21" fill="#4a4a4a">10</text><text x="30.1" y="178.3" text-anchor="end" font-size="21" fill="#4a4a4a">5</text><text x="37.5" y="237.6" text-anchor="end" font-size="21" fill="#4a4a4a">0</text><text x="43.4" y="293.4" text-anchor="end" font-size="21" fill="#4a4a4a">-5</text><text x="49.6" y="348.4" text-anchor="end" font-size="21" fill="#4a4a4a">-10</text><text x="35.8" y="376.1" text-anchor="middle" font-size="21" fill="#4a4a4a">50</text><text x="86.8" y="410.8" text-anchor="middle" font-size="21" fill="#4a4a4a">40</text><text x="139" y="444.1" text-anchor="middle" font-size="21" fill="#4a4a4a">30</text><text x="192.8" y="481.4" text-anchor="middle" font-size="21" fill="#4a4a4a">20</text><text x="248.1" y="516.2" text-anchor="middle" font-size="21" fill="#4a4a4a">10</text><text x="310.8" y="553.2" text-anchor="middle" font-size="21" fill="#4a4a4a">0</text><text x="355.6" y="557.3" text-anchor="middle" font-size="21" fill="#4a4a4a">0</text><text x="438.9" y="529.2" text-anchor="middle" font-size="21" fill="#4a4a4a">10</text><text x="514.1" y="502.2" text-anchor="middle" font-size="21" fill="#4a4a4a">20</text><text x="587.8" y="474.6" text-anchor="middle" font-size="21" fill="#4a4a4a">30</text><text x="661" y="447.7" text-anchor="middle" font-size="21" fill="#4a4a4a">40</text><text x="731.8" y="421.1" text-anchor="middle" font-size="21" fill="#4a4a4a">50</text><text x="594.5" y="537" font-size="22.5" fill="#b9b9b9" stroke="#b9b9b9" stroke-width="0.35">知乎</text><text x="649.3" y="537" font-size="22.8" fill="#b9b9b9" stroke="#b9b9b9" stroke-width="0.35" textLength="76.5" lengthAdjust="spacingAndGlyphs">@hikari</text>
</svg></body></html>
